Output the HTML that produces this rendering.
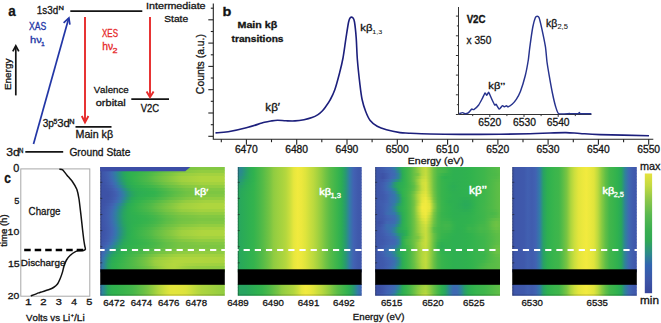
<!DOCTYPE html>
<html><head><meta charset="utf-8"><style>
html,body{margin:0;padding:0;background:#fff;}
svg{display:block;font-family:"Liberation Sans",sans-serif;}
text{font-kerning:none;stroke-width:0.3px;}
</style></head><body>
<svg width="661" height="323" viewBox="0 0 661 323">
<defs><linearGradient id="g0"><stop offset="0.000" stop-color="#3d53a7"/><stop offset="0.031" stop-color="#3f58ab"/><stop offset="0.062" stop-color="#415fb0"/><stop offset="0.094" stop-color="#3b6eb0"/><stop offset="0.125" stop-color="#30809e"/><stop offset="0.156" stop-color="#28947c"/><stop offset="0.188" stop-color="#28a55f"/><stop offset="0.219" stop-color="#2bac55"/><stop offset="0.250" stop-color="#2eb051"/><stop offset="0.281" stop-color="#2fb14f"/><stop offset="0.312" stop-color="#32b24e"/><stop offset="0.344" stop-color="#35b34d"/><stop offset="0.375" stop-color="#39b44c"/><stop offset="0.406" stop-color="#3fb64b"/><stop offset="0.438" stop-color="#45b74a"/><stop offset="0.469" stop-color="#4db949"/><stop offset="0.500" stop-color="#56bc47"/><stop offset="0.531" stop-color="#5ebe46"/><stop offset="0.562" stop-color="#65c045"/><stop offset="0.594" stop-color="#6cc144"/><stop offset="0.625" stop-color="#73c343"/><stop offset="0.656" stop-color="#77c443"/><stop offset="0.688" stop-color="#79c542"/><stop offset="0.719" stop-color="#7cc642"/><stop offset="0.750" stop-color="#7ec642"/><stop offset="0.781" stop-color="#81c742"/><stop offset="0.812" stop-color="#83c842"/><stop offset="0.844" stop-color="#83c842"/><stop offset="0.875" stop-color="#83c842"/><stop offset="0.906" stop-color="#83c842"/><stop offset="0.938" stop-color="#83c842"/><stop offset="0.969" stop-color="#83c842"/><stop offset="1.000" stop-color="#83c842"/></linearGradient>
<linearGradient id="g1"><stop offset="0.000" stop-color="#3d53a7"/><stop offset="0.031" stop-color="#3f58ab"/><stop offset="0.062" stop-color="#415fb0"/><stop offset="0.094" stop-color="#3b6db0"/><stop offset="0.125" stop-color="#30809f"/><stop offset="0.156" stop-color="#28947d"/><stop offset="0.188" stop-color="#28a55f"/><stop offset="0.219" stop-color="#2bac55"/><stop offset="0.250" stop-color="#2fb150"/><stop offset="0.281" stop-color="#31b24e"/><stop offset="0.312" stop-color="#36b44d"/><stop offset="0.344" stop-color="#3bb54c"/><stop offset="0.375" stop-color="#40b64b"/><stop offset="0.406" stop-color="#47b84a"/><stop offset="0.438" stop-color="#4eba48"/><stop offset="0.469" stop-color="#58bc47"/><stop offset="0.500" stop-color="#61bf46"/><stop offset="0.531" stop-color="#69c145"/><stop offset="0.562" stop-color="#70c344"/><stop offset="0.594" stop-color="#77c443"/><stop offset="0.625" stop-color="#7ec642"/><stop offset="0.656" stop-color="#84c841"/><stop offset="0.688" stop-color="#87c941"/><stop offset="0.719" stop-color="#8aca41"/><stop offset="0.750" stop-color="#8dcb41"/><stop offset="0.781" stop-color="#90cc40"/><stop offset="0.812" stop-color="#92cd40"/><stop offset="0.844" stop-color="#92cd40"/><stop offset="0.875" stop-color="#92cd40"/><stop offset="0.906" stop-color="#92cd40"/><stop offset="0.938" stop-color="#92cd40"/><stop offset="0.969" stop-color="#92cd40"/><stop offset="1.000" stop-color="#92cd40"/></linearGradient>
<linearGradient id="g2"><stop offset="0.000" stop-color="#3d52a7"/><stop offset="0.031" stop-color="#3f58ab"/><stop offset="0.062" stop-color="#415fb0"/><stop offset="0.094" stop-color="#3c6db0"/><stop offset="0.125" stop-color="#30809f"/><stop offset="0.156" stop-color="#28947d"/><stop offset="0.188" stop-color="#28a560"/><stop offset="0.219" stop-color="#2cad54"/><stop offset="0.250" stop-color="#30b24f"/><stop offset="0.281" stop-color="#35b34d"/><stop offset="0.312" stop-color="#3bb54c"/><stop offset="0.344" stop-color="#41b64b"/><stop offset="0.375" stop-color="#48b84a"/><stop offset="0.406" stop-color="#50ba48"/><stop offset="0.438" stop-color="#5abd47"/><stop offset="0.469" stop-color="#64bf45"/><stop offset="0.500" stop-color="#6dc244"/><stop offset="0.531" stop-color="#76c443"/><stop offset="0.562" stop-color="#7dc642"/><stop offset="0.594" stop-color="#86c941"/><stop offset="0.625" stop-color="#8fcc41"/><stop offset="0.656" stop-color="#95ce40"/><stop offset="0.688" stop-color="#98cf40"/><stop offset="0.719" stop-color="#9bd040"/><stop offset="0.750" stop-color="#9ed03f"/><stop offset="0.781" stop-color="#a1d13f"/><stop offset="0.812" stop-color="#a3d23f"/><stop offset="0.844" stop-color="#a3d23f"/><stop offset="0.875" stop-color="#a3d23f"/><stop offset="0.906" stop-color="#a3d23f"/><stop offset="0.938" stop-color="#a3d23f"/><stop offset="0.969" stop-color="#a3d23f"/><stop offset="1.000" stop-color="#a3d23f"/></linearGradient>
<linearGradient id="g3"><stop offset="0.000" stop-color="#3d52a6"/><stop offset="0.031" stop-color="#3f57aa"/><stop offset="0.062" stop-color="#415eb0"/><stop offset="0.094" stop-color="#3c6cb1"/><stop offset="0.125" stop-color="#317ea2"/><stop offset="0.156" stop-color="#28937f"/><stop offset="0.188" stop-color="#28a461"/><stop offset="0.219" stop-color="#2cad55"/><stop offset="0.250" stop-color="#30b24e"/><stop offset="0.281" stop-color="#37b44d"/><stop offset="0.312" stop-color="#3eb64b"/><stop offset="0.344" stop-color="#45b74a"/><stop offset="0.375" stop-color="#4cb949"/><stop offset="0.406" stop-color="#56bc47"/><stop offset="0.438" stop-color="#62bf46"/><stop offset="0.469" stop-color="#6cc144"/><stop offset="0.500" stop-color="#75c443"/><stop offset="0.531" stop-color="#7ec642"/><stop offset="0.562" stop-color="#87c941"/><stop offset="0.594" stop-color="#91cc40"/><stop offset="0.625" stop-color="#9acf40"/><stop offset="0.656" stop-color="#a0d13f"/><stop offset="0.688" stop-color="#a3d23f"/><stop offset="0.719" stop-color="#a6d33f"/><stop offset="0.750" stop-color="#a9d43f"/><stop offset="0.781" stop-color="#acd53e"/><stop offset="0.812" stop-color="#aed63e"/><stop offset="0.844" stop-color="#aed63e"/><stop offset="0.875" stop-color="#aed63e"/><stop offset="0.906" stop-color="#aed63e"/><stop offset="0.938" stop-color="#aed63e"/><stop offset="0.969" stop-color="#aed63e"/><stop offset="1.000" stop-color="#aed63e"/></linearGradient>
<linearGradient id="g4"><stop offset="0.000" stop-color="#3d52a6"/><stop offset="0.031" stop-color="#3f56aa"/><stop offset="0.062" stop-color="#405daf"/><stop offset="0.094" stop-color="#3e69b2"/><stop offset="0.125" stop-color="#337ba7"/><stop offset="0.156" stop-color="#299084"/><stop offset="0.188" stop-color="#28a166"/><stop offset="0.219" stop-color="#2bac55"/><stop offset="0.250" stop-color="#2fb14f"/><stop offset="0.281" stop-color="#36b44d"/><stop offset="0.312" stop-color="#3db54b"/><stop offset="0.344" stop-color="#45b74a"/><stop offset="0.375" stop-color="#4cb949"/><stop offset="0.406" stop-color="#55bb47"/><stop offset="0.438" stop-color="#61be46"/><stop offset="0.469" stop-color="#6ac145"/><stop offset="0.500" stop-color="#74c343"/><stop offset="0.531" stop-color="#7dc642"/><stop offset="0.562" stop-color="#86c941"/><stop offset="0.594" stop-color="#8fcc41"/><stop offset="0.625" stop-color="#98cf40"/><stop offset="0.656" stop-color="#a0d13f"/><stop offset="0.688" stop-color="#a3d23f"/><stop offset="0.719" stop-color="#a6d33f"/><stop offset="0.750" stop-color="#a9d43f"/><stop offset="0.781" stop-color="#acd53e"/><stop offset="0.812" stop-color="#aed63e"/><stop offset="0.844" stop-color="#aed63e"/><stop offset="0.875" stop-color="#aed63e"/><stop offset="0.906" stop-color="#aed63e"/><stop offset="0.938" stop-color="#aed63e"/><stop offset="0.969" stop-color="#aed63e"/><stop offset="1.000" stop-color="#aed63e"/></linearGradient>
<linearGradient id="g5"><stop offset="0.000" stop-color="#3d52a6"/><stop offset="0.031" stop-color="#3e55a8"/><stop offset="0.062" stop-color="#405bad"/><stop offset="0.094" stop-color="#4264b4"/><stop offset="0.125" stop-color="#3675ad"/><stop offset="0.156" stop-color="#2c8a8e"/><stop offset="0.188" stop-color="#289c6f"/><stop offset="0.219" stop-color="#2aaa57"/><stop offset="0.250" stop-color="#2eaf51"/><stop offset="0.281" stop-color="#32b34e"/><stop offset="0.312" stop-color="#39b44c"/><stop offset="0.344" stop-color="#3fb64b"/><stop offset="0.375" stop-color="#45b74a"/><stop offset="0.406" stop-color="#4cb949"/><stop offset="0.438" stop-color="#56bb47"/><stop offset="0.469" stop-color="#5fbe46"/><stop offset="0.500" stop-color="#69c145"/><stop offset="0.531" stop-color="#72c343"/><stop offset="0.562" stop-color="#79c543"/><stop offset="0.594" stop-color="#81c742"/><stop offset="0.625" stop-color="#8aca41"/><stop offset="0.656" stop-color="#94cd40"/><stop offset="0.688" stop-color="#97ce40"/><stop offset="0.719" stop-color="#9acf40"/><stop offset="0.750" stop-color="#9dd040"/><stop offset="0.781" stop-color="#a0d13f"/><stop offset="0.812" stop-color="#a3d23f"/><stop offset="0.844" stop-color="#a3d23f"/><stop offset="0.875" stop-color="#a3d23f"/><stop offset="0.906" stop-color="#a3d23f"/><stop offset="0.938" stop-color="#a3d23f"/><stop offset="0.969" stop-color="#a3d23f"/><stop offset="1.000" stop-color="#a3d23f"/></linearGradient>
<linearGradient id="g6"><stop offset="0.000" stop-color="#3d52a6"/><stop offset="0.031" stop-color="#3d53a7"/><stop offset="0.062" stop-color="#3f58ab"/><stop offset="0.094" stop-color="#415fb0"/><stop offset="0.125" stop-color="#3b6eb0"/><stop offset="0.156" stop-color="#30809e"/><stop offset="0.188" stop-color="#28947c"/><stop offset="0.219" stop-color="#28a55f"/><stop offset="0.250" stop-color="#2bac55"/><stop offset="0.281" stop-color="#2fb050"/><stop offset="0.312" stop-color="#31b24e"/><stop offset="0.344" stop-color="#36b34d"/><stop offset="0.375" stop-color="#3bb54c"/><stop offset="0.406" stop-color="#3fb64b"/><stop offset="0.438" stop-color="#46b84a"/><stop offset="0.469" stop-color="#4eba48"/><stop offset="0.500" stop-color="#58bc47"/><stop offset="0.531" stop-color="#61bf46"/><stop offset="0.562" stop-color="#6ac145"/><stop offset="0.594" stop-color="#70c344"/><stop offset="0.625" stop-color="#77c443"/><stop offset="0.656" stop-color="#7ec642"/><stop offset="0.688" stop-color="#84c841"/><stop offset="0.719" stop-color="#87c941"/><stop offset="0.750" stop-color="#8aca41"/><stop offset="0.781" stop-color="#8dcb41"/><stop offset="0.812" stop-color="#90cc40"/><stop offset="0.844" stop-color="#92cd40"/><stop offset="0.875" stop-color="#92cd40"/><stop offset="0.906" stop-color="#92cd40"/><stop offset="0.938" stop-color="#92cd40"/><stop offset="0.969" stop-color="#92cd40"/><stop offset="1.000" stop-color="#92cd40"/></linearGradient>
<linearGradient id="g7"><stop offset="0.000" stop-color="#3d52a6"/><stop offset="0.031" stop-color="#3d52a6"/><stop offset="0.062" stop-color="#3e55a9"/><stop offset="0.094" stop-color="#405bad"/><stop offset="0.125" stop-color="#4264b4"/><stop offset="0.156" stop-color="#3576ad"/><stop offset="0.188" stop-color="#2b8a8d"/><stop offset="0.219" stop-color="#289b70"/><stop offset="0.250" stop-color="#29a959"/><stop offset="0.281" stop-color="#2cad54"/><stop offset="0.312" stop-color="#2eaf51"/><stop offset="0.344" stop-color="#2fb14f"/><stop offset="0.375" stop-color="#31b24e"/><stop offset="0.406" stop-color="#35b34d"/><stop offset="0.438" stop-color="#39b44c"/><stop offset="0.469" stop-color="#41b64b"/><stop offset="0.500" stop-color="#49b849"/><stop offset="0.531" stop-color="#51ba48"/><stop offset="0.562" stop-color="#5abd47"/><stop offset="0.594" stop-color="#62bf46"/><stop offset="0.625" stop-color="#68c145"/><stop offset="0.656" stop-color="#6fc244"/><stop offset="0.688" stop-color="#76c443"/><stop offset="0.719" stop-color="#78c543"/><stop offset="0.750" stop-color="#7bc542"/><stop offset="0.781" stop-color="#7dc642"/><stop offset="0.812" stop-color="#80c742"/><stop offset="0.844" stop-color="#83c842"/><stop offset="0.875" stop-color="#83c842"/><stop offset="0.906" stop-color="#83c842"/><stop offset="0.938" stop-color="#83c842"/><stop offset="0.969" stop-color="#83c842"/><stop offset="1.000" stop-color="#83c842"/></linearGradient>
<linearGradient id="g8"><stop offset="0.000" stop-color="#3d52a6"/><stop offset="0.031" stop-color="#3d52a6"/><stop offset="0.062" stop-color="#3d53a7"/><stop offset="0.094" stop-color="#3f58ab"/><stop offset="0.125" stop-color="#4160b1"/><stop offset="0.156" stop-color="#3a6fb0"/><stop offset="0.188" stop-color="#2f829c"/><stop offset="0.219" stop-color="#28947d"/><stop offset="0.250" stop-color="#28a363"/><stop offset="0.281" stop-color="#2aaa57"/><stop offset="0.312" stop-color="#2cae53"/><stop offset="0.344" stop-color="#2eaf52"/><stop offset="0.375" stop-color="#2fb050"/><stop offset="0.406" stop-color="#30b24e"/><stop offset="0.438" stop-color="#32b34e"/><stop offset="0.469" stop-color="#3ab44c"/><stop offset="0.500" stop-color="#42b64b"/><stop offset="0.531" stop-color="#4ab849"/><stop offset="0.562" stop-color="#52bb48"/><stop offset="0.594" stop-color="#5abd47"/><stop offset="0.625" stop-color="#61bf46"/><stop offset="0.656" stop-color="#68c045"/><stop offset="0.688" stop-color="#6fc244"/><stop offset="0.719" stop-color="#73c343"/><stop offset="0.750" stop-color="#75c443"/><stop offset="0.781" stop-color="#77c543"/><stop offset="0.812" stop-color="#7ac542"/><stop offset="0.844" stop-color="#7cc642"/><stop offset="0.875" stop-color="#7dc642"/><stop offset="0.906" stop-color="#7dc642"/><stop offset="0.938" stop-color="#7dc642"/><stop offset="0.969" stop-color="#7dc642"/><stop offset="1.000" stop-color="#7dc642"/></linearGradient>
<linearGradient id="g9"><stop offset="0.000" stop-color="#3d52a6"/><stop offset="0.031" stop-color="#3d52a6"/><stop offset="0.062" stop-color="#3d52a6"/><stop offset="0.094" stop-color="#3f58ab"/><stop offset="0.125" stop-color="#415eb0"/><stop offset="0.156" stop-color="#3c6db1"/><stop offset="0.188" stop-color="#317fa0"/><stop offset="0.219" stop-color="#289280"/><stop offset="0.250" stop-color="#28a265"/><stop offset="0.281" stop-color="#2aaa57"/><stop offset="0.312" stop-color="#2dae53"/><stop offset="0.344" stop-color="#2eb051"/><stop offset="0.375" stop-color="#2fb14f"/><stop offset="0.406" stop-color="#32b24e"/><stop offset="0.438" stop-color="#35b34d"/><stop offset="0.469" stop-color="#3cb54c"/><stop offset="0.500" stop-color="#45b74a"/><stop offset="0.531" stop-color="#4db949"/><stop offset="0.562" stop-color="#55bb47"/><stop offset="0.594" stop-color="#5ebe46"/><stop offset="0.625" stop-color="#65c045"/><stop offset="0.656" stop-color="#6cc144"/><stop offset="0.688" stop-color="#72c343"/><stop offset="0.719" stop-color="#77c443"/><stop offset="0.750" stop-color="#79c542"/><stop offset="0.781" stop-color="#7cc642"/><stop offset="0.812" stop-color="#7ec642"/><stop offset="0.844" stop-color="#81c742"/><stop offset="0.875" stop-color="#83c842"/><stop offset="0.906" stop-color="#83c842"/><stop offset="0.938" stop-color="#83c842"/><stop offset="0.969" stop-color="#83c842"/><stop offset="1.000" stop-color="#83c842"/></linearGradient>
<linearGradient id="g10"><stop offset="0.000" stop-color="#3d52a6"/><stop offset="0.031" stop-color="#3d52a6"/><stop offset="0.062" stop-color="#3e53a7"/><stop offset="0.094" stop-color="#3f59ac"/><stop offset="0.125" stop-color="#4161b2"/><stop offset="0.156" stop-color="#3971af"/><stop offset="0.188" stop-color="#2e8498"/><stop offset="0.219" stop-color="#289777"/><stop offset="0.250" stop-color="#28a85a"/><stop offset="0.281" stop-color="#2cad54"/><stop offset="0.312" stop-color="#2fb150"/><stop offset="0.344" stop-color="#32b24e"/><stop offset="0.375" stop-color="#37b44d"/><stop offset="0.406" stop-color="#3bb54c"/><stop offset="0.438" stop-color="#40b64b"/><stop offset="0.469" stop-color="#48b84a"/><stop offset="0.500" stop-color="#50ba48"/><stop offset="0.531" stop-color="#59bc47"/><stop offset="0.562" stop-color="#63bf45"/><stop offset="0.594" stop-color="#6bc144"/><stop offset="0.625" stop-color="#72c344"/><stop offset="0.656" stop-color="#78c543"/><stop offset="0.688" stop-color="#80c742"/><stop offset="0.719" stop-color="#85c841"/><stop offset="0.750" stop-color="#88c941"/><stop offset="0.781" stop-color="#8bca41"/><stop offset="0.812" stop-color="#8ecb41"/><stop offset="0.844" stop-color="#91cc40"/><stop offset="0.875" stop-color="#92cd40"/><stop offset="0.906" stop-color="#92cd40"/><stop offset="0.938" stop-color="#92cd40"/><stop offset="0.969" stop-color="#92cd40"/><stop offset="1.000" stop-color="#92cd40"/></linearGradient>
<linearGradient id="g11"><stop offset="0.000" stop-color="#3d52a6"/><stop offset="0.031" stop-color="#3d52a6"/><stop offset="0.062" stop-color="#3e56a9"/><stop offset="0.094" stop-color="#405cae"/><stop offset="0.125" stop-color="#4067b3"/><stop offset="0.156" stop-color="#3479aa"/><stop offset="0.188" stop-color="#2a8e87"/><stop offset="0.219" stop-color="#28a068"/><stop offset="0.250" stop-color="#2bac56"/><stop offset="0.281" stop-color="#2fb150"/><stop offset="0.312" stop-color="#34b34d"/><stop offset="0.344" stop-color="#3bb54c"/><stop offset="0.375" stop-color="#41b64b"/><stop offset="0.406" stop-color="#47b84a"/><stop offset="0.438" stop-color="#4eba48"/><stop offset="0.469" stop-color="#58bc47"/><stop offset="0.500" stop-color="#61bf46"/><stop offset="0.531" stop-color="#6ac144"/><stop offset="0.562" stop-color="#74c443"/><stop offset="0.594" stop-color="#7bc542"/><stop offset="0.625" stop-color="#83c842"/><stop offset="0.656" stop-color="#8ccb41"/><stop offset="0.688" stop-color="#94cd40"/><stop offset="0.719" stop-color="#97ce40"/><stop offset="0.750" stop-color="#9acf40"/><stop offset="0.781" stop-color="#9dd03f"/><stop offset="0.812" stop-color="#a0d13f"/><stop offset="0.844" stop-color="#a3d23f"/><stop offset="0.875" stop-color="#a3d23f"/><stop offset="0.906" stop-color="#a3d23f"/><stop offset="0.938" stop-color="#a3d23f"/><stop offset="0.969" stop-color="#a3d23f"/><stop offset="1.000" stop-color="#a3d23f"/></linearGradient>
<linearGradient id="g12"><stop offset="0.000" stop-color="#3d52a6"/><stop offset="0.031" stop-color="#3e53a7"/><stop offset="0.062" stop-color="#3f59ac"/><stop offset="0.094" stop-color="#4161b2"/><stop offset="0.125" stop-color="#3971af"/><stop offset="0.156" stop-color="#2e8498"/><stop offset="0.188" stop-color="#289777"/><stop offset="0.219" stop-color="#29a959"/><stop offset="0.250" stop-color="#2daf52"/><stop offset="0.281" stop-color="#33b34d"/><stop offset="0.312" stop-color="#3ab54c"/><stop offset="0.344" stop-color="#42b64b"/><stop offset="0.375" stop-color="#49b849"/><stop offset="0.406" stop-color="#50ba48"/><stop offset="0.438" stop-color="#5bbd47"/><stop offset="0.469" stop-color="#65bf45"/><stop offset="0.500" stop-color="#6ec244"/><stop offset="0.531" stop-color="#77c543"/><stop offset="0.562" stop-color="#80c742"/><stop offset="0.594" stop-color="#8aca41"/><stop offset="0.625" stop-color="#93cd40"/><stop offset="0.656" stop-color="#9cd040"/><stop offset="0.688" stop-color="#a1d13f"/><stop offset="0.719" stop-color="#a4d23f"/><stop offset="0.750" stop-color="#a7d33f"/><stop offset="0.781" stop-color="#aad43e"/><stop offset="0.812" stop-color="#add53e"/><stop offset="0.844" stop-color="#aed63e"/><stop offset="0.875" stop-color="#aed63e"/><stop offset="0.906" stop-color="#aed63e"/><stop offset="0.938" stop-color="#aed63e"/><stop offset="0.969" stop-color="#aed63e"/><stop offset="1.000" stop-color="#aed63e"/></linearGradient>
<linearGradient id="g13"><stop offset="0.000" stop-color="#3d52a6"/><stop offset="0.031" stop-color="#3e55a9"/><stop offset="0.062" stop-color="#405cae"/><stop offset="0.094" stop-color="#4166b3"/><stop offset="0.125" stop-color="#3477ac"/><stop offset="0.156" stop-color="#2a8c8a"/><stop offset="0.188" stop-color="#289e6b"/><stop offset="0.219" stop-color="#2aab56"/><stop offset="0.250" stop-color="#2fb150"/><stop offset="0.281" stop-color="#35b34d"/><stop offset="0.312" stop-color="#3db54c"/><stop offset="0.344" stop-color="#44b74a"/><stop offset="0.375" stop-color="#4bb949"/><stop offset="0.406" stop-color="#53bb48"/><stop offset="0.438" stop-color="#5fbe46"/><stop offset="0.469" stop-color="#68c145"/><stop offset="0.500" stop-color="#72c343"/><stop offset="0.531" stop-color="#7bc642"/><stop offset="0.562" stop-color="#84c841"/><stop offset="0.594" stop-color="#8dcb41"/><stop offset="0.625" stop-color="#97ce40"/><stop offset="0.656" stop-color="#9fd13f"/><stop offset="0.688" stop-color="#a2d23f"/><stop offset="0.719" stop-color="#a5d33f"/><stop offset="0.750" stop-color="#a8d43f"/><stop offset="0.781" stop-color="#abd53e"/><stop offset="0.812" stop-color="#aed53e"/><stop offset="0.844" stop-color="#aed63e"/><stop offset="0.875" stop-color="#aed63e"/><stop offset="0.906" stop-color="#aed63e"/><stop offset="0.938" stop-color="#aed63e"/><stop offset="0.969" stop-color="#aed63e"/><stop offset="1.000" stop-color="#aed63e"/></linearGradient>
<linearGradient id="g14"><stop offset="0.000" stop-color="#3d52a6"/><stop offset="0.031" stop-color="#3f57aa"/><stop offset="0.062" stop-color="#405eaf"/><stop offset="0.094" stop-color="#3e6ab1"/><stop offset="0.125" stop-color="#327ca5"/><stop offset="0.156" stop-color="#289182"/><stop offset="0.188" stop-color="#28a264"/><stop offset="0.219" stop-color="#2bac55"/><stop offset="0.250" stop-color="#2fb14f"/><stop offset="0.281" stop-color="#34b34d"/><stop offset="0.312" stop-color="#3ab54c"/><stop offset="0.344" stop-color="#41b64b"/><stop offset="0.375" stop-color="#47b84a"/><stop offset="0.406" stop-color="#4fba48"/><stop offset="0.438" stop-color="#59bc47"/><stop offset="0.469" stop-color="#62bf46"/><stop offset="0.500" stop-color="#6cc144"/><stop offset="0.531" stop-color="#75c443"/><stop offset="0.562" stop-color="#7cc642"/><stop offset="0.594" stop-color="#84c841"/><stop offset="0.625" stop-color="#8ecb41"/><stop offset="0.656" stop-color="#95ce40"/><stop offset="0.688" stop-color="#98ce40"/><stop offset="0.719" stop-color="#9bcf40"/><stop offset="0.750" stop-color="#9ed03f"/><stop offset="0.781" stop-color="#a1d13f"/><stop offset="0.812" stop-color="#a3d23f"/><stop offset="0.844" stop-color="#a3d23f"/><stop offset="0.875" stop-color="#a3d23f"/><stop offset="0.906" stop-color="#a3d23f"/><stop offset="0.938" stop-color="#a3d23f"/><stop offset="0.969" stop-color="#a3d23f"/><stop offset="1.000" stop-color="#a3d23f"/></linearGradient>
<linearGradient id="g15"><stop offset="0.000" stop-color="#3d52a6"/><stop offset="0.031" stop-color="#3f57ab"/><stop offset="0.062" stop-color="#415eb0"/><stop offset="0.094" stop-color="#3c6cb1"/><stop offset="0.125" stop-color="#317fa1"/><stop offset="0.156" stop-color="#28937e"/><stop offset="0.188" stop-color="#28a461"/><stop offset="0.219" stop-color="#2bac55"/><stop offset="0.250" stop-color="#2fb050"/><stop offset="0.281" stop-color="#31b24e"/><stop offset="0.312" stop-color="#36b34d"/><stop offset="0.344" stop-color="#3bb54c"/><stop offset="0.375" stop-color="#3fb64b"/><stop offset="0.406" stop-color="#46b84a"/><stop offset="0.438" stop-color="#4eb948"/><stop offset="0.469" stop-color="#57bc47"/><stop offset="0.500" stop-color="#60be46"/><stop offset="0.531" stop-color="#69c145"/><stop offset="0.562" stop-color="#70c244"/><stop offset="0.594" stop-color="#77c443"/><stop offset="0.625" stop-color="#7ec642"/><stop offset="0.656" stop-color="#84c841"/><stop offset="0.688" stop-color="#87c941"/><stop offset="0.719" stop-color="#8aca41"/><stop offset="0.750" stop-color="#8dcb41"/><stop offset="0.781" stop-color="#90cc41"/><stop offset="0.812" stop-color="#92cd40"/><stop offset="0.844" stop-color="#92cd40"/><stop offset="0.875" stop-color="#92cd40"/><stop offset="0.906" stop-color="#92cd40"/><stop offset="0.938" stop-color="#92cd40"/><stop offset="0.969" stop-color="#92cd40"/><stop offset="1.000" stop-color="#92cd40"/></linearGradient>
<linearGradient id="g16"><stop offset="0.000" stop-color="#3d52a7"/><stop offset="0.031" stop-color="#3f58ab"/><stop offset="0.062" stop-color="#415fb0"/><stop offset="0.094" stop-color="#3c6db0"/><stop offset="0.125" stop-color="#30809f"/><stop offset="0.156" stop-color="#28947d"/><stop offset="0.188" stop-color="#28a560"/><stop offset="0.219" stop-color="#2bac55"/><stop offset="0.250" stop-color="#2eb051"/><stop offset="0.281" stop-color="#2fb14f"/><stop offset="0.312" stop-color="#32b24e"/><stop offset="0.344" stop-color="#35b34d"/><stop offset="0.375" stop-color="#39b44c"/><stop offset="0.406" stop-color="#3eb64b"/><stop offset="0.438" stop-color="#45b74a"/><stop offset="0.469" stop-color="#4db949"/><stop offset="0.500" stop-color="#56bc47"/><stop offset="0.531" stop-color="#5ebe46"/><stop offset="0.562" stop-color="#65c045"/><stop offset="0.594" stop-color="#6cc144"/><stop offset="0.625" stop-color="#73c343"/><stop offset="0.656" stop-color="#77c443"/><stop offset="0.688" stop-color="#79c542"/><stop offset="0.719" stop-color="#7cc642"/><stop offset="0.750" stop-color="#7ec642"/><stop offset="0.781" stop-color="#81c742"/><stop offset="0.812" stop-color="#83c842"/><stop offset="0.844" stop-color="#83c842"/><stop offset="0.875" stop-color="#83c842"/><stop offset="0.906" stop-color="#83c842"/><stop offset="0.938" stop-color="#83c842"/><stop offset="0.969" stop-color="#83c842"/><stop offset="1.000" stop-color="#83c842"/></linearGradient>
<linearGradient id="g17"><stop offset="0.000" stop-color="#3d52a6"/><stop offset="0.031" stop-color="#3f58ab"/><stop offset="0.062" stop-color="#415eb0"/><stop offset="0.094" stop-color="#3c6db1"/><stop offset="0.125" stop-color="#317fa0"/><stop offset="0.156" stop-color="#28937e"/><stop offset="0.188" stop-color="#28a460"/><stop offset="0.219" stop-color="#2bac56"/><stop offset="0.250" stop-color="#2eaf51"/><stop offset="0.281" stop-color="#2fb150"/><stop offset="0.312" stop-color="#30b24e"/><stop offset="0.344" stop-color="#33b34d"/><stop offset="0.375" stop-color="#36b34d"/><stop offset="0.406" stop-color="#3bb54c"/><stop offset="0.438" stop-color="#41b64b"/><stop offset="0.469" stop-color="#49b849"/><stop offset="0.500" stop-color="#51ba48"/><stop offset="0.531" stop-color="#5abd47"/><stop offset="0.562" stop-color="#60be46"/><stop offset="0.594" stop-color="#67c045"/><stop offset="0.625" stop-color="#6ec244"/><stop offset="0.656" stop-color="#73c343"/><stop offset="0.688" stop-color="#75c443"/><stop offset="0.719" stop-color="#77c443"/><stop offset="0.750" stop-color="#79c542"/><stop offset="0.781" stop-color="#7cc642"/><stop offset="0.812" stop-color="#7dc642"/><stop offset="0.844" stop-color="#7dc642"/><stop offset="0.875" stop-color="#7dc642"/><stop offset="0.906" stop-color="#7dc642"/><stop offset="0.938" stop-color="#7dc642"/><stop offset="0.969" stop-color="#7dc642"/><stop offset="1.000" stop-color="#7dc642"/></linearGradient>
<linearGradient id="g18"><stop offset="0.000" stop-color="#3d52a6"/><stop offset="0.031" stop-color="#3f57aa"/><stop offset="0.062" stop-color="#405eaf"/><stop offset="0.094" stop-color="#3d6bb1"/><stop offset="0.125" stop-color="#317ea3"/><stop offset="0.156" stop-color="#289280"/><stop offset="0.188" stop-color="#28a362"/><stop offset="0.219" stop-color="#2bab56"/><stop offset="0.250" stop-color="#2eaf51"/><stop offset="0.281" stop-color="#2fb14f"/><stop offset="0.312" stop-color="#31b24e"/><stop offset="0.344" stop-color="#35b34d"/><stop offset="0.375" stop-color="#38b44c"/><stop offset="0.406" stop-color="#3eb54b"/><stop offset="0.438" stop-color="#44b74a"/><stop offset="0.469" stop-color="#4cb949"/><stop offset="0.500" stop-color="#55bb47"/><stop offset="0.531" stop-color="#5ebe46"/><stop offset="0.562" stop-color="#64bf45"/><stop offset="0.594" stop-color="#6bc144"/><stop offset="0.625" stop-color="#72c343"/><stop offset="0.656" stop-color="#77c443"/><stop offset="0.688" stop-color="#79c543"/><stop offset="0.719" stop-color="#7bc642"/><stop offset="0.750" stop-color="#7ec642"/><stop offset="0.781" stop-color="#81c742"/><stop offset="0.812" stop-color="#83c842"/><stop offset="0.844" stop-color="#83c842"/><stop offset="0.875" stop-color="#83c842"/><stop offset="0.906" stop-color="#83c842"/><stop offset="0.938" stop-color="#83c842"/><stop offset="0.969" stop-color="#83c842"/><stop offset="1.000" stop-color="#83c842"/></linearGradient>
<linearGradient id="g19"><stop offset="0.000" stop-color="#3d52a6"/><stop offset="0.031" stop-color="#3f56aa"/><stop offset="0.062" stop-color="#405daf"/><stop offset="0.094" stop-color="#3f69b2"/><stop offset="0.125" stop-color="#337ba7"/><stop offset="0.156" stop-color="#299084"/><stop offset="0.188" stop-color="#28a166"/><stop offset="0.219" stop-color="#2aab56"/><stop offset="0.250" stop-color="#2eb051"/><stop offset="0.281" stop-color="#30b24e"/><stop offset="0.312" stop-color="#35b34d"/><stop offset="0.344" stop-color="#3ab44c"/><stop offset="0.375" stop-color="#3eb64b"/><stop offset="0.406" stop-color="#45b74a"/><stop offset="0.438" stop-color="#4cb949"/><stop offset="0.469" stop-color="#55bb47"/><stop offset="0.500" stop-color="#5fbe46"/><stop offset="0.531" stop-color="#68c045"/><stop offset="0.562" stop-color="#6fc244"/><stop offset="0.594" stop-color="#75c443"/><stop offset="0.625" stop-color="#7cc642"/><stop offset="0.656" stop-color="#84c841"/><stop offset="0.688" stop-color="#86c941"/><stop offset="0.719" stop-color="#89ca41"/><stop offset="0.750" stop-color="#8ccb41"/><stop offset="0.781" stop-color="#8fcc41"/><stop offset="0.812" stop-color="#92cd40"/><stop offset="0.844" stop-color="#92cd40"/><stop offset="0.875" stop-color="#92cd40"/><stop offset="0.906" stop-color="#92cd40"/><stop offset="0.938" stop-color="#92cd40"/><stop offset="0.969" stop-color="#92cd40"/><stop offset="1.000" stop-color="#92cd40"/></linearGradient>
<linearGradient id="g20"><stop offset="0.000" stop-color="#3d52a6"/><stop offset="0.031" stop-color="#3e55a9"/><stop offset="0.062" stop-color="#405cae"/><stop offset="0.094" stop-color="#4166b3"/><stop offset="0.125" stop-color="#3478ac"/><stop offset="0.156" stop-color="#2a8c8a"/><stop offset="0.188" stop-color="#289e6b"/><stop offset="0.219" stop-color="#2aab57"/><stop offset="0.250" stop-color="#2eb051"/><stop offset="0.281" stop-color="#33b34d"/><stop offset="0.312" stop-color="#39b44c"/><stop offset="0.344" stop-color="#3fb64b"/><stop offset="0.375" stop-color="#46b74a"/><stop offset="0.406" stop-color="#4db949"/><stop offset="0.438" stop-color="#57bc47"/><stop offset="0.469" stop-color="#60be46"/><stop offset="0.500" stop-color="#6ac145"/><stop offset="0.531" stop-color="#73c343"/><stop offset="0.562" stop-color="#7ac542"/><stop offset="0.594" stop-color="#82c842"/><stop offset="0.625" stop-color="#8ccb41"/><stop offset="0.656" stop-color="#94cd40"/><stop offset="0.688" stop-color="#97ce40"/><stop offset="0.719" stop-color="#9acf40"/><stop offset="0.750" stop-color="#9dd03f"/><stop offset="0.781" stop-color="#a0d13f"/><stop offset="0.812" stop-color="#a3d23f"/><stop offset="0.844" stop-color="#a3d23f"/><stop offset="0.875" stop-color="#a3d23f"/><stop offset="0.906" stop-color="#a3d23f"/><stop offset="0.938" stop-color="#a3d23f"/><stop offset="0.969" stop-color="#a3d23f"/><stop offset="1.000" stop-color="#a3d23f"/></linearGradient>
<linearGradient id="g21"><stop offset="0.000" stop-color="#3d52a6"/><stop offset="0.031" stop-color="#3e55a9"/><stop offset="0.062" stop-color="#405bae"/><stop offset="0.094" stop-color="#4165b4"/><stop offset="0.125" stop-color="#3576ad"/><stop offset="0.156" stop-color="#2b8b8d"/><stop offset="0.188" stop-color="#289d6d"/><stop offset="0.219" stop-color="#2aab57"/><stop offset="0.250" stop-color="#2fb050"/><stop offset="0.281" stop-color="#35b34d"/><stop offset="0.312" stop-color="#3cb54c"/><stop offset="0.344" stop-color="#43b74a"/><stop offset="0.375" stop-color="#4ab949"/><stop offset="0.406" stop-color="#53bb48"/><stop offset="0.438" stop-color="#5ebe46"/><stop offset="0.469" stop-color="#68c045"/><stop offset="0.500" stop-color="#71c344"/><stop offset="0.531" stop-color="#7bc542"/><stop offset="0.562" stop-color="#84c841"/><stop offset="0.594" stop-color="#8dcb41"/><stop offset="0.625" stop-color="#96ce40"/><stop offset="0.656" stop-color="#9fd13f"/><stop offset="0.688" stop-color="#a2d23f"/><stop offset="0.719" stop-color="#a5d33f"/><stop offset="0.750" stop-color="#a8d43f"/><stop offset="0.781" stop-color="#abd43e"/><stop offset="0.812" stop-color="#aed53e"/><stop offset="0.844" stop-color="#aed63e"/><stop offset="0.875" stop-color="#aed63e"/><stop offset="0.906" stop-color="#aed63e"/><stop offset="0.938" stop-color="#aed63e"/><stop offset="0.969" stop-color="#aed63e"/><stop offset="1.000" stop-color="#aed63e"/></linearGradient>
<linearGradient id="g22"><stop offset="0.000" stop-color="#3d52a6"/><stop offset="0.031" stop-color="#3e55a9"/><stop offset="0.062" stop-color="#405cae"/><stop offset="0.094" stop-color="#4166b3"/><stop offset="0.125" stop-color="#3477ac"/><stop offset="0.156" stop-color="#2a8c8a"/><stop offset="0.188" stop-color="#289e6b"/><stop offset="0.219" stop-color="#2aab56"/><stop offset="0.250" stop-color="#2fb150"/><stop offset="0.281" stop-color="#35b34d"/><stop offset="0.312" stop-color="#3db54c"/><stop offset="0.344" stop-color="#44b74a"/><stop offset="0.375" stop-color="#4bb949"/><stop offset="0.406" stop-color="#53bb48"/><stop offset="0.438" stop-color="#5fbe46"/><stop offset="0.469" stop-color="#68c145"/><stop offset="0.500" stop-color="#72c343"/><stop offset="0.531" stop-color="#7bc642"/><stop offset="0.562" stop-color="#84c841"/><stop offset="0.594" stop-color="#8dcb41"/><stop offset="0.625" stop-color="#97ce40"/><stop offset="0.656" stop-color="#9fd13f"/><stop offset="0.688" stop-color="#a2d23f"/><stop offset="0.719" stop-color="#a5d33f"/><stop offset="0.750" stop-color="#a8d43f"/><stop offset="0.781" stop-color="#abd53e"/><stop offset="0.812" stop-color="#aed53e"/><stop offset="0.844" stop-color="#aed63e"/><stop offset="0.875" stop-color="#aed63e"/><stop offset="0.906" stop-color="#aed63e"/><stop offset="0.938" stop-color="#aed63e"/><stop offset="0.969" stop-color="#aed63e"/><stop offset="1.000" stop-color="#aed63e"/></linearGradient>
<linearGradient id="g23"><stop offset="0.000" stop-color="#3d52a6"/><stop offset="0.031" stop-color="#3f56aa"/><stop offset="0.062" stop-color="#405daf"/><stop offset="0.094" stop-color="#3e6ab2"/><stop offset="0.125" stop-color="#327ba6"/><stop offset="0.156" stop-color="#289083"/><stop offset="0.188" stop-color="#28a165"/><stop offset="0.219" stop-color="#2bac56"/><stop offset="0.250" stop-color="#2fb14f"/><stop offset="0.281" stop-color="#34b34d"/><stop offset="0.312" stop-color="#3ab54c"/><stop offset="0.344" stop-color="#40b64b"/><stop offset="0.375" stop-color="#47b84a"/><stop offset="0.406" stop-color="#4eba48"/><stop offset="0.438" stop-color="#59bc47"/><stop offset="0.469" stop-color="#62bf46"/><stop offset="0.500" stop-color="#6cc144"/><stop offset="0.531" stop-color="#75c443"/><stop offset="0.562" stop-color="#7bc642"/><stop offset="0.594" stop-color="#84c841"/><stop offset="0.625" stop-color="#8dcb41"/><stop offset="0.656" stop-color="#95cd40"/><stop offset="0.688" stop-color="#98ce40"/><stop offset="0.719" stop-color="#9bcf40"/><stop offset="0.750" stop-color="#9ed03f"/><stop offset="0.781" stop-color="#a1d13f"/><stop offset="0.812" stop-color="#a3d23f"/><stop offset="0.844" stop-color="#a3d23f"/><stop offset="0.875" stop-color="#a3d23f"/><stop offset="0.906" stop-color="#a3d23f"/><stop offset="0.938" stop-color="#a3d23f"/><stop offset="0.969" stop-color="#a3d23f"/><stop offset="1.000" stop-color="#a3d23f"/></linearGradient>
<linearGradient id="g24"><stop offset="0.000" stop-color="#3d53a7"/><stop offset="0.031" stop-color="#3f58ab"/><stop offset="0.062" stop-color="#415fb0"/><stop offset="0.094" stop-color="#3b6eb0"/><stop offset="0.125" stop-color="#30819e"/><stop offset="0.156" stop-color="#28957c"/><stop offset="0.188" stop-color="#28a65e"/><stop offset="0.219" stop-color="#2cac55"/><stop offset="0.250" stop-color="#2fb150"/><stop offset="0.281" stop-color="#32b24e"/><stop offset="0.312" stop-color="#36b44d"/><stop offset="0.344" stop-color="#3bb54c"/><stop offset="0.375" stop-color="#40b64b"/><stop offset="0.406" stop-color="#47b84a"/><stop offset="0.438" stop-color="#4fba48"/><stop offset="0.469" stop-color="#58bc47"/><stop offset="0.500" stop-color="#61bf46"/><stop offset="0.531" stop-color="#6ac145"/><stop offset="0.562" stop-color="#70c344"/><stop offset="0.594" stop-color="#77c443"/><stop offset="0.625" stop-color="#7ec642"/><stop offset="0.656" stop-color="#84c841"/><stop offset="0.688" stop-color="#87c941"/><stop offset="0.719" stop-color="#8aca41"/><stop offset="0.750" stop-color="#8dcb41"/><stop offset="0.781" stop-color="#90cc40"/><stop offset="0.812" stop-color="#92cd40"/><stop offset="0.844" stop-color="#92cd40"/><stop offset="0.875" stop-color="#92cd40"/><stop offset="0.906" stop-color="#92cd40"/><stop offset="0.938" stop-color="#92cd40"/><stop offset="0.969" stop-color="#92cd40"/><stop offset="1.000" stop-color="#92cd40"/></linearGradient>
<linearGradient id="g25"><stop offset="0.000" stop-color="#3e55a9"/><stop offset="0.031" stop-color="#405bad"/><stop offset="0.062" stop-color="#4263b4"/><stop offset="0.094" stop-color="#3675ad"/><stop offset="0.125" stop-color="#2c8891"/><stop offset="0.156" stop-color="#289b71"/><stop offset="0.188" stop-color="#29a958"/><stop offset="0.219" stop-color="#2dae53"/><stop offset="0.250" stop-color="#2fb14f"/><stop offset="0.281" stop-color="#31b24e"/><stop offset="0.312" stop-color="#35b34d"/><stop offset="0.344" stop-color="#38b44c"/><stop offset="0.375" stop-color="#3cb54c"/><stop offset="0.406" stop-color="#43b74b"/><stop offset="0.438" stop-color="#49b849"/><stop offset="0.469" stop-color="#51ba48"/><stop offset="0.500" stop-color="#5abd47"/><stop offset="0.531" stop-color="#62bf46"/><stop offset="0.562" stop-color="#68c045"/><stop offset="0.594" stop-color="#6fc244"/><stop offset="0.625" stop-color="#75c443"/><stop offset="0.656" stop-color="#78c543"/><stop offset="0.688" stop-color="#7ac542"/><stop offset="0.719" stop-color="#7dc642"/><stop offset="0.750" stop-color="#7fc742"/><stop offset="0.781" stop-color="#82c842"/><stop offset="0.812" stop-color="#83c842"/><stop offset="0.844" stop-color="#83c842"/><stop offset="0.875" stop-color="#83c842"/><stop offset="0.906" stop-color="#83c842"/><stop offset="0.938" stop-color="#83c842"/><stop offset="0.969" stop-color="#83c842"/><stop offset="1.000" stop-color="#83c842"/></linearGradient>
<linearGradient id="g26"><stop offset="0.000" stop-color="#3f58ab"/><stop offset="0.031" stop-color="#415fb0"/><stop offset="0.062" stop-color="#3c6db1"/><stop offset="0.094" stop-color="#307fa0"/><stop offset="0.125" stop-color="#289280"/><stop offset="0.156" stop-color="#28a363"/><stop offset="0.188" stop-color="#2bac55"/><stop offset="0.219" stop-color="#2eb050"/><stop offset="0.250" stop-color="#31b24e"/><stop offset="0.281" stop-color="#34b34d"/><stop offset="0.312" stop-color="#38b44d"/><stop offset="0.344" stop-color="#3bb54c"/><stop offset="0.375" stop-color="#3fb64b"/><stop offset="0.406" stop-color="#45b74a"/><stop offset="0.438" stop-color="#4bb949"/><stop offset="0.469" stop-color="#53bb48"/><stop offset="0.500" stop-color="#5bbd47"/><stop offset="0.531" stop-color="#62bf46"/><stop offset="0.562" stop-color="#68c045"/><stop offset="0.594" stop-color="#6ec244"/><stop offset="0.625" stop-color="#74c443"/><stop offset="0.656" stop-color="#76c443"/><stop offset="0.688" stop-color="#78c543"/><stop offset="0.719" stop-color="#79c542"/><stop offset="0.750" stop-color="#7bc542"/><stop offset="0.781" stop-color="#7dc642"/><stop offset="0.812" stop-color="#7dc642"/><stop offset="0.844" stop-color="#7dc642"/><stop offset="0.875" stop-color="#7dc642"/><stop offset="0.906" stop-color="#7dc642"/><stop offset="0.938" stop-color="#7dc642"/><stop offset="0.969" stop-color="#7dc642"/><stop offset="1.000" stop-color="#7cc642"/></linearGradient>
<linearGradient id="g27"><stop offset="0.000" stop-color="#405bad"/><stop offset="0.031" stop-color="#4264b4"/><stop offset="0.062" stop-color="#3577ac"/><stop offset="0.094" stop-color="#2a8c8a"/><stop offset="0.125" stop-color="#289c6e"/><stop offset="0.156" stop-color="#29a958"/><stop offset="0.188" stop-color="#2eaf52"/><stop offset="0.219" stop-color="#32b24e"/><stop offset="0.250" stop-color="#37b44d"/><stop offset="0.281" stop-color="#3bb54c"/><stop offset="0.312" stop-color="#3fb64b"/><stop offset="0.344" stop-color="#43b74a"/><stop offset="0.375" stop-color="#49b849"/><stop offset="0.406" stop-color="#4fba48"/><stop offset="0.438" stop-color="#57bc47"/><stop offset="0.469" stop-color="#5ebe46"/><stop offset="0.500" stop-color="#65c045"/><stop offset="0.531" stop-color="#6bc144"/><stop offset="0.562" stop-color="#71c344"/><stop offset="0.594" stop-color="#76c443"/><stop offset="0.625" stop-color="#7bc542"/><stop offset="0.656" stop-color="#7cc642"/><stop offset="0.688" stop-color="#7ec642"/><stop offset="0.719" stop-color="#80c742"/><stop offset="0.750" stop-color="#81c742"/><stop offset="0.781" stop-color="#83c842"/><stop offset="0.812" stop-color="#83c842"/><stop offset="0.844" stop-color="#83c842"/><stop offset="0.875" stop-color="#83c842"/><stop offset="0.906" stop-color="#82c842"/><stop offset="0.938" stop-color="#82c842"/><stop offset="0.969" stop-color="#82c742"/><stop offset="1.000" stop-color="#81c742"/></linearGradient>
<linearGradient id="g28"><stop offset="0.000" stop-color="#415fb0"/><stop offset="0.031" stop-color="#3c6cb1"/><stop offset="0.062" stop-color="#2f8399"/><stop offset="0.094" stop-color="#289876"/><stop offset="0.125" stop-color="#28a65e"/><stop offset="0.156" stop-color="#2cad54"/><stop offset="0.188" stop-color="#30b24e"/><stop offset="0.219" stop-color="#38b44d"/><stop offset="0.250" stop-color="#3eb54b"/><stop offset="0.281" stop-color="#44b74a"/><stop offset="0.312" stop-color="#49b849"/><stop offset="0.344" stop-color="#4fba48"/><stop offset="0.375" stop-color="#57bc47"/><stop offset="0.406" stop-color="#61be46"/><stop offset="0.438" stop-color="#6ac145"/><stop offset="0.469" stop-color="#70c344"/><stop offset="0.500" stop-color="#76c443"/><stop offset="0.531" stop-color="#7bc642"/><stop offset="0.562" stop-color="#82c742"/><stop offset="0.594" stop-color="#88ca41"/><stop offset="0.625" stop-color="#8dcb41"/><stop offset="0.656" stop-color="#8ecb41"/><stop offset="0.688" stop-color="#8fcc41"/><stop offset="0.719" stop-color="#90cc40"/><stop offset="0.750" stop-color="#92cc40"/><stop offset="0.781" stop-color="#93cd40"/><stop offset="0.812" stop-color="#92cd40"/><stop offset="0.844" stop-color="#92cd40"/><stop offset="0.875" stop-color="#92cc40"/><stop offset="0.906" stop-color="#91cc40"/><stop offset="0.938" stop-color="#91cc40"/><stop offset="0.969" stop-color="#90cc40"/><stop offset="1.000" stop-color="#90cc41"/></linearGradient>
<linearGradient id="g29"><stop offset="0.000" stop-color="#4262b3"/><stop offset="0.031" stop-color="#3773ae"/><stop offset="0.062" stop-color="#298e87"/><stop offset="0.094" stop-color="#28a265"/><stop offset="0.125" stop-color="#2aab57"/><stop offset="0.156" stop-color="#2eb051"/><stop offset="0.188" stop-color="#35b34d"/><stop offset="0.219" stop-color="#3eb54b"/><stop offset="0.250" stop-color="#45b74a"/><stop offset="0.281" stop-color="#4cb949"/><stop offset="0.312" stop-color="#54bb47"/><stop offset="0.344" stop-color="#5ebe46"/><stop offset="0.375" stop-color="#68c045"/><stop offset="0.406" stop-color="#73c343"/><stop offset="0.438" stop-color="#7ec642"/><stop offset="0.469" stop-color="#86c941"/><stop offset="0.500" stop-color="#8dcb41"/><stop offset="0.531" stop-color="#92cd40"/><stop offset="0.562" stop-color="#98cf40"/><stop offset="0.594" stop-color="#9ed03f"/><stop offset="0.625" stop-color="#a1d13f"/><stop offset="0.656" stop-color="#a2d23f"/><stop offset="0.688" stop-color="#a2d23f"/><stop offset="0.719" stop-color="#a3d23f"/><stop offset="0.750" stop-color="#a4d23f"/><stop offset="0.781" stop-color="#a4d23f"/><stop offset="0.812" stop-color="#a4d23f"/><stop offset="0.844" stop-color="#a3d23f"/><stop offset="0.875" stop-color="#a3d23f"/><stop offset="0.906" stop-color="#a2d23f"/><stop offset="0.938" stop-color="#a1d13f"/><stop offset="0.969" stop-color="#a1d13f"/><stop offset="1.000" stop-color="#a0d13f"/></linearGradient>
<linearGradient id="g30"><stop offset="0.000" stop-color="#4165b3"/><stop offset="0.031" stop-color="#337aa9"/><stop offset="0.062" stop-color="#289777"/><stop offset="0.094" stop-color="#29a959"/><stop offset="0.125" stop-color="#2dae53"/><stop offset="0.156" stop-color="#30b24e"/><stop offset="0.188" stop-color="#39b44c"/><stop offset="0.219" stop-color="#42b74b"/><stop offset="0.250" stop-color="#4bb949"/><stop offset="0.281" stop-color="#54bb47"/><stop offset="0.312" stop-color="#5ebe46"/><stop offset="0.344" stop-color="#69c145"/><stop offset="0.375" stop-color="#75c443"/><stop offset="0.406" stop-color="#82c842"/><stop offset="0.438" stop-color="#92cd40"/><stop offset="0.469" stop-color="#99cf40"/><stop offset="0.500" stop-color="#9ed03f"/><stop offset="0.531" stop-color="#a3d23f"/><stop offset="0.562" stop-color="#a8d43f"/><stop offset="0.594" stop-color="#add53e"/><stop offset="0.625" stop-color="#afd63e"/><stop offset="0.656" stop-color="#afd63e"/><stop offset="0.688" stop-color="#afd63e"/><stop offset="0.719" stop-color="#afd63e"/><stop offset="0.750" stop-color="#afd63e"/><stop offset="0.781" stop-color="#afd63e"/><stop offset="0.812" stop-color="#afd63e"/><stop offset="0.844" stop-color="#aed53e"/><stop offset="0.875" stop-color="#aed53e"/><stop offset="0.906" stop-color="#add53e"/><stop offset="0.938" stop-color="#acd53e"/><stop offset="0.969" stop-color="#abd53e"/><stop offset="1.000" stop-color="#aad43e"/></linearGradient>
<linearGradient id="g31"><stop offset="0.000" stop-color="#3f69b2"/><stop offset="0.031" stop-color="#30809e"/><stop offset="0.062" stop-color="#289e6b"/><stop offset="0.094" stop-color="#2bac55"/><stop offset="0.125" stop-color="#2fb050"/><stop offset="0.156" stop-color="#35b34d"/><stop offset="0.188" stop-color="#3db54c"/><stop offset="0.219" stop-color="#46b74a"/><stop offset="0.250" stop-color="#4eba48"/><stop offset="0.281" stop-color="#58bc47"/><stop offset="0.312" stop-color="#63bf46"/><stop offset="0.344" stop-color="#6ec244"/><stop offset="0.375" stop-color="#7ac542"/><stop offset="0.406" stop-color="#89ca41"/><stop offset="0.438" stop-color="#9acf40"/><stop offset="0.469" stop-color="#a0d13f"/><stop offset="0.500" stop-color="#a5d33f"/><stop offset="0.531" stop-color="#aad43e"/><stop offset="0.562" stop-color="#aed53e"/><stop offset="0.594" stop-color="#b2d73e"/><stop offset="0.625" stop-color="#b3d73e"/><stop offset="0.656" stop-color="#b2d73e"/><stop offset="0.688" stop-color="#b1d63e"/><stop offset="0.719" stop-color="#b1d63e"/><stop offset="0.750" stop-color="#b0d63e"/><stop offset="0.781" stop-color="#b0d63e"/><stop offset="0.812" stop-color="#afd63e"/><stop offset="0.844" stop-color="#aed53e"/><stop offset="0.875" stop-color="#add53e"/><stop offset="0.906" stop-color="#add53e"/><stop offset="0.938" stop-color="#acd53e"/><stop offset="0.969" stop-color="#abd43e"/><stop offset="1.000" stop-color="#aad43e"/></linearGradient>
<linearGradient id="g32"><stop offset="0.000" stop-color="#3d6bb1"/><stop offset="0.031" stop-color="#2e8498"/><stop offset="0.062" stop-color="#28a364"/><stop offset="0.094" stop-color="#2dae53"/><stop offset="0.125" stop-color="#30b24e"/><stop offset="0.156" stop-color="#38b44d"/><stop offset="0.188" stop-color="#3fb64b"/><stop offset="0.219" stop-color="#47b84a"/><stop offset="0.250" stop-color="#4fba48"/><stop offset="0.281" stop-color="#58bc47"/><stop offset="0.312" stop-color="#61bf46"/><stop offset="0.344" stop-color="#6cc244"/><stop offset="0.375" stop-color="#78c543"/><stop offset="0.406" stop-color="#86c941"/><stop offset="0.438" stop-color="#97ce40"/><stop offset="0.469" stop-color="#9fd13f"/><stop offset="0.500" stop-color="#a6d33f"/><stop offset="0.531" stop-color="#add53e"/><stop offset="0.562" stop-color="#b1d63e"/><stop offset="0.594" stop-color="#b4d73e"/><stop offset="0.625" stop-color="#b2d63e"/><stop offset="0.656" stop-color="#aed53e"/><stop offset="0.688" stop-color="#aad43e"/><stop offset="0.719" stop-color="#a8d33f"/><stop offset="0.750" stop-color="#a6d33f"/><stop offset="0.781" stop-color="#a5d23f"/><stop offset="0.812" stop-color="#a4d23f"/><stop offset="0.844" stop-color="#a3d23f"/><stop offset="0.875" stop-color="#a2d23f"/><stop offset="0.906" stop-color="#a1d13f"/><stop offset="0.938" stop-color="#a0d13f"/><stop offset="0.969" stop-color="#9fd13f"/><stop offset="1.000" stop-color="#9ed03f"/></linearGradient>
<linearGradient id="g33"><stop offset="0.000" stop-color="#3d6bb1"/><stop offset="0.031" stop-color="#2e8497"/><stop offset="0.062" stop-color="#28a362"/><stop offset="0.094" stop-color="#2dae53"/><stop offset="0.125" stop-color="#30b24e"/><stop offset="0.156" stop-color="#38b44c"/><stop offset="0.188" stop-color="#40b64b"/><stop offset="0.219" stop-color="#46b84a"/><stop offset="0.250" stop-color="#4db949"/><stop offset="0.281" stop-color="#54bb47"/><stop offset="0.312" stop-color="#5cbd46"/><stop offset="0.344" stop-color="#65c045"/><stop offset="0.375" stop-color="#70c244"/><stop offset="0.406" stop-color="#7bc542"/><stop offset="0.438" stop-color="#8bca41"/><stop offset="0.469" stop-color="#96ce40"/><stop offset="0.500" stop-color="#a1d13f"/><stop offset="0.531" stop-color="#abd43e"/><stop offset="0.562" stop-color="#b0d63e"/><stop offset="0.594" stop-color="#b2d73e"/><stop offset="0.625" stop-color="#acd53e"/><stop offset="0.656" stop-color="#a4d23f"/><stop offset="0.688" stop-color="#9ed03f"/><stop offset="0.719" stop-color="#99cf40"/><stop offset="0.750" stop-color="#96ce40"/><stop offset="0.781" stop-color="#94cd40"/><stop offset="0.812" stop-color="#93cd40"/><stop offset="0.844" stop-color="#92cd40"/><stop offset="0.875" stop-color="#91cc40"/><stop offset="0.906" stop-color="#90cc41"/><stop offset="0.938" stop-color="#8fcc41"/><stop offset="0.969" stop-color="#8ecb41"/><stop offset="1.000" stop-color="#8dcb41"/></linearGradient>
<linearGradient id="g34"><stop offset="0.000" stop-color="#3d6bb1"/><stop offset="0.031" stop-color="#2e8497"/><stop offset="0.062" stop-color="#28a362"/><stop offset="0.094" stop-color="#2dae53"/><stop offset="0.125" stop-color="#30b24e"/><stop offset="0.156" stop-color="#38b44c"/><stop offset="0.188" stop-color="#40b64b"/><stop offset="0.219" stop-color="#46b74a"/><stop offset="0.250" stop-color="#4bb949"/><stop offset="0.281" stop-color="#50ba48"/><stop offset="0.312" stop-color="#57bc47"/><stop offset="0.344" stop-color="#5ebe46"/><stop offset="0.375" stop-color="#67c045"/><stop offset="0.406" stop-color="#70c344"/><stop offset="0.438" stop-color="#7ac542"/><stop offset="0.469" stop-color="#82c842"/><stop offset="0.500" stop-color="#8bca41"/><stop offset="0.531" stop-color="#93cd40"/><stop offset="0.562" stop-color="#98ce40"/><stop offset="0.594" stop-color="#9acf40"/><stop offset="0.625" stop-color="#96ce40"/><stop offset="0.656" stop-color="#91cc40"/><stop offset="0.688" stop-color="#8ccb41"/><stop offset="0.719" stop-color="#88ca41"/><stop offset="0.750" stop-color="#86c941"/><stop offset="0.781" stop-color="#85c841"/><stop offset="0.812" stop-color="#84c841"/><stop offset="0.844" stop-color="#83c842"/><stop offset="0.875" stop-color="#82c842"/><stop offset="0.906" stop-color="#81c742"/><stop offset="0.938" stop-color="#80c742"/><stop offset="0.969" stop-color="#7fc742"/><stop offset="1.000" stop-color="#7ec642"/></linearGradient>
<linearGradient id="g35"><stop offset="0.000" stop-color="#3577ad"/><stop offset="0.031" stop-color="#2a8c8a"/><stop offset="0.062" stop-color="#28a959"/><stop offset="0.094" stop-color="#2fb050"/><stop offset="0.125" stop-color="#30b24e"/><stop offset="0.156" stop-color="#35b34d"/><stop offset="0.188" stop-color="#39b44c"/><stop offset="0.219" stop-color="#3eb64b"/><stop offset="0.250" stop-color="#43b74b"/><stop offset="0.281" stop-color="#4db949"/><stop offset="0.312" stop-color="#5abd47"/><stop offset="0.344" stop-color="#67c045"/><stop offset="0.375" stop-color="#76c443"/><stop offset="0.406" stop-color="#89ca41"/><stop offset="0.438" stop-color="#9ed03f"/><stop offset="0.469" stop-color="#b3d73e"/><stop offset="0.500" stop-color="#c4dc3d"/><stop offset="0.531" stop-color="#d4e13c"/><stop offset="0.562" stop-color="#e1e53c"/><stop offset="0.594" stop-color="#e3e53c"/><stop offset="0.625" stop-color="#e1e53c"/><stop offset="0.656" stop-color="#dfe43c"/><stop offset="0.688" stop-color="#dbe33c"/><stop offset="0.719" stop-color="#cfe03d"/><stop offset="0.750" stop-color="#c3dc3d"/><stop offset="0.781" stop-color="#b7d83e"/><stop offset="0.812" stop-color="#aed53e"/><stop offset="0.844" stop-color="#a9d43f"/><stop offset="0.875" stop-color="#a5d23f"/><stop offset="0.906" stop-color="#a0d13f"/><stop offset="0.938" stop-color="#9bcf40"/><stop offset="0.969" stop-color="#96ce40"/><stop offset="1.000" stop-color="#92cc40"/></linearGradient>
<linearGradient id="g36"><stop offset="0.000" stop-color="#3577ad"/><stop offset="0.031" stop-color="#2a8c8a"/><stop offset="0.062" stop-color="#28a959"/><stop offset="0.094" stop-color="#2fb050"/><stop offset="0.125" stop-color="#30b24e"/><stop offset="0.156" stop-color="#35b34d"/><stop offset="0.188" stop-color="#39b44c"/><stop offset="0.219" stop-color="#3eb64b"/><stop offset="0.250" stop-color="#43b74b"/><stop offset="0.281" stop-color="#4db949"/><stop offset="0.312" stop-color="#5abd47"/><stop offset="0.344" stop-color="#67c045"/><stop offset="0.375" stop-color="#76c443"/><stop offset="0.406" stop-color="#89ca41"/><stop offset="0.438" stop-color="#9ed03f"/><stop offset="0.469" stop-color="#b3d73e"/><stop offset="0.500" stop-color="#c4dc3d"/><stop offset="0.531" stop-color="#d4e13c"/><stop offset="0.562" stop-color="#e1e53c"/><stop offset="0.594" stop-color="#e3e53c"/><stop offset="0.625" stop-color="#e1e53c"/><stop offset="0.656" stop-color="#dfe43c"/><stop offset="0.688" stop-color="#dbe33c"/><stop offset="0.719" stop-color="#cfe03d"/><stop offset="0.750" stop-color="#c3dc3d"/><stop offset="0.781" stop-color="#b7d83e"/><stop offset="0.812" stop-color="#aed53e"/><stop offset="0.844" stop-color="#a9d43f"/><stop offset="0.875" stop-color="#a5d23f"/><stop offset="0.906" stop-color="#a0d13f"/><stop offset="0.938" stop-color="#9bcf40"/><stop offset="0.969" stop-color="#96ce40"/><stop offset="1.000" stop-color="#92cc40"/></linearGradient>
<linearGradient id="g37"><stop offset="0.000" stop-color="#3577ad"/><stop offset="0.031" stop-color="#2a8c8a"/><stop offset="0.062" stop-color="#28a959"/><stop offset="0.094" stop-color="#2fb050"/><stop offset="0.125" stop-color="#30b24e"/><stop offset="0.156" stop-color="#35b34d"/><stop offset="0.188" stop-color="#39b44c"/><stop offset="0.219" stop-color="#3eb64b"/><stop offset="0.250" stop-color="#43b74b"/><stop offset="0.281" stop-color="#4db949"/><stop offset="0.312" stop-color="#5abd47"/><stop offset="0.344" stop-color="#67c045"/><stop offset="0.375" stop-color="#76c443"/><stop offset="0.406" stop-color="#89ca41"/><stop offset="0.438" stop-color="#9ed03f"/><stop offset="0.469" stop-color="#b3d73e"/><stop offset="0.500" stop-color="#c4dc3d"/><stop offset="0.531" stop-color="#d4e13c"/><stop offset="0.562" stop-color="#e1e53c"/><stop offset="0.594" stop-color="#e3e53c"/><stop offset="0.625" stop-color="#e1e53c"/><stop offset="0.656" stop-color="#dfe43c"/><stop offset="0.688" stop-color="#dbe33c"/><stop offset="0.719" stop-color="#cfe03d"/><stop offset="0.750" stop-color="#c3dc3d"/><stop offset="0.781" stop-color="#b7d83e"/><stop offset="0.812" stop-color="#aed53e"/><stop offset="0.844" stop-color="#a9d43f"/><stop offset="0.875" stop-color="#a5d23f"/><stop offset="0.906" stop-color="#a0d13f"/><stop offset="0.938" stop-color="#9bcf40"/><stop offset="0.969" stop-color="#96ce40"/><stop offset="1.000" stop-color="#92cc40"/></linearGradient>
<linearGradient id="g38"><stop offset="0.000" stop-color="#3577ad"/><stop offset="0.031" stop-color="#2a8c8a"/><stop offset="0.062" stop-color="#28a959"/><stop offset="0.094" stop-color="#2fb050"/><stop offset="0.125" stop-color="#30b24e"/><stop offset="0.156" stop-color="#35b34d"/><stop offset="0.188" stop-color="#39b44c"/><stop offset="0.219" stop-color="#3eb64b"/><stop offset="0.250" stop-color="#43b74b"/><stop offset="0.281" stop-color="#4db949"/><stop offset="0.312" stop-color="#5abd47"/><stop offset="0.344" stop-color="#67c045"/><stop offset="0.375" stop-color="#76c443"/><stop offset="0.406" stop-color="#89ca41"/><stop offset="0.438" stop-color="#9ed03f"/><stop offset="0.469" stop-color="#b3d73e"/><stop offset="0.500" stop-color="#c4dc3d"/><stop offset="0.531" stop-color="#d4e13c"/><stop offset="0.562" stop-color="#e1e53c"/><stop offset="0.594" stop-color="#e3e53c"/><stop offset="0.625" stop-color="#e1e53c"/><stop offset="0.656" stop-color="#dfe43c"/><stop offset="0.688" stop-color="#dbe33c"/><stop offset="0.719" stop-color="#cfe03d"/><stop offset="0.750" stop-color="#c3dc3d"/><stop offset="0.781" stop-color="#b7d83e"/><stop offset="0.812" stop-color="#aed53e"/><stop offset="0.844" stop-color="#a9d43f"/><stop offset="0.875" stop-color="#a5d23f"/><stop offset="0.906" stop-color="#a0d13f"/><stop offset="0.938" stop-color="#9bcf40"/><stop offset="0.969" stop-color="#96ce40"/><stop offset="1.000" stop-color="#92cc40"/></linearGradient>
<linearGradient id="g39"><stop offset="0.000" stop-color="#2e8597"/><stop offset="0.032" stop-color="#2a8c8a"/><stop offset="0.065" stop-color="#289d6d"/><stop offset="0.097" stop-color="#2bab56"/><stop offset="0.129" stop-color="#30b24e"/><stop offset="0.161" stop-color="#40b64b"/><stop offset="0.194" stop-color="#50ba48"/><stop offset="0.226" stop-color="#63bf45"/><stop offset="0.258" stop-color="#77c443"/><stop offset="0.290" stop-color="#90cc41"/><stop offset="0.323" stop-color="#9cd040"/><stop offset="0.355" stop-color="#a7d33f"/><stop offset="0.387" stop-color="#b4d73e"/><stop offset="0.419" stop-color="#cade3d"/><stop offset="0.452" stop-color="#e7e73d"/><stop offset="0.484" stop-color="#f1ea3e"/><stop offset="0.516" stop-color="#ebe83d"/><stop offset="0.548" stop-color="#dee43c"/><stop offset="0.581" stop-color="#cbde3d"/><stop offset="0.613" stop-color="#bad93e"/><stop offset="0.645" stop-color="#a4d23f"/><stop offset="0.677" stop-color="#8ccb41"/><stop offset="0.710" stop-color="#70c344"/><stop offset="0.742" stop-color="#59bc47"/><stop offset="0.774" stop-color="#48b84a"/><stop offset="0.806" stop-color="#38b44d"/><stop offset="0.839" stop-color="#2bac55"/><stop offset="0.871" stop-color="#289973"/><stop offset="0.903" stop-color="#337ba8"/><stop offset="0.935" stop-color="#4262b3"/><stop offset="0.968" stop-color="#3f5aac"/><stop offset="1.000" stop-color="#3f56aa"/></linearGradient>
<linearGradient id="g40"><stop offset="0.000" stop-color="#2e8597"/><stop offset="0.032" stop-color="#2a8c8a"/><stop offset="0.065" stop-color="#289d6d"/><stop offset="0.097" stop-color="#2bab56"/><stop offset="0.129" stop-color="#30b24e"/><stop offset="0.161" stop-color="#40b64b"/><stop offset="0.194" stop-color="#50ba48"/><stop offset="0.226" stop-color="#63bf45"/><stop offset="0.258" stop-color="#77c443"/><stop offset="0.290" stop-color="#90cc41"/><stop offset="0.323" stop-color="#9cd040"/><stop offset="0.355" stop-color="#a7d33f"/><stop offset="0.387" stop-color="#b4d73e"/><stop offset="0.419" stop-color="#cade3d"/><stop offset="0.452" stop-color="#e7e73d"/><stop offset="0.484" stop-color="#f1ea3e"/><stop offset="0.516" stop-color="#ebe83d"/><stop offset="0.548" stop-color="#dee43c"/><stop offset="0.581" stop-color="#cbde3d"/><stop offset="0.613" stop-color="#bad93e"/><stop offset="0.645" stop-color="#a4d23f"/><stop offset="0.677" stop-color="#8ccb41"/><stop offset="0.710" stop-color="#70c344"/><stop offset="0.742" stop-color="#59bc47"/><stop offset="0.774" stop-color="#48b84a"/><stop offset="0.806" stop-color="#38b44d"/><stop offset="0.839" stop-color="#2bac55"/><stop offset="0.871" stop-color="#289973"/><stop offset="0.903" stop-color="#337ba8"/><stop offset="0.935" stop-color="#4262b3"/><stop offset="0.968" stop-color="#3f5aac"/><stop offset="1.000" stop-color="#3f56aa"/></linearGradient>
<linearGradient id="g41"><stop offset="0.000" stop-color="#2c8892"/><stop offset="0.032" stop-color="#298f85"/><stop offset="0.065" stop-color="#289f6a"/><stop offset="0.097" stop-color="#2bac56"/><stop offset="0.129" stop-color="#30b24e"/><stop offset="0.161" stop-color="#40b64b"/><stop offset="0.194" stop-color="#50ba48"/><stop offset="0.226" stop-color="#63bf45"/><stop offset="0.258" stop-color="#77c443"/><stop offset="0.290" stop-color="#90cc41"/><stop offset="0.323" stop-color="#9cd040"/><stop offset="0.355" stop-color="#a7d33f"/><stop offset="0.387" stop-color="#b4d73e"/><stop offset="0.419" stop-color="#cade3d"/><stop offset="0.452" stop-color="#e7e73d"/><stop offset="0.484" stop-color="#f1ea3e"/><stop offset="0.516" stop-color="#ebe83d"/><stop offset="0.548" stop-color="#dee43c"/><stop offset="0.581" stop-color="#cbde3d"/><stop offset="0.613" stop-color="#bad93e"/><stop offset="0.645" stop-color="#a4d23f"/><stop offset="0.677" stop-color="#8ccb41"/><stop offset="0.710" stop-color="#70c344"/><stop offset="0.742" stop-color="#59bc47"/><stop offset="0.774" stop-color="#48b84a"/><stop offset="0.806" stop-color="#38b44d"/><stop offset="0.839" stop-color="#2bac55"/><stop offset="0.871" stop-color="#289973"/><stop offset="0.903" stop-color="#337ba8"/><stop offset="0.935" stop-color="#4262b3"/><stop offset="0.968" stop-color="#3f5aac"/><stop offset="1.000" stop-color="#3f56aa"/></linearGradient>
<linearGradient id="g42"><stop offset="0.000" stop-color="#2a8d89"/><stop offset="0.032" stop-color="#28947c"/><stop offset="0.065" stop-color="#28a264"/><stop offset="0.097" stop-color="#2cac55"/><stop offset="0.129" stop-color="#31b24e"/><stop offset="0.161" stop-color="#40b64b"/><stop offset="0.194" stop-color="#50ba48"/><stop offset="0.226" stop-color="#63bf45"/><stop offset="0.258" stop-color="#77c443"/><stop offset="0.290" stop-color="#90cc41"/><stop offset="0.323" stop-color="#9cd040"/><stop offset="0.355" stop-color="#a7d33f"/><stop offset="0.387" stop-color="#b4d73e"/><stop offset="0.419" stop-color="#cade3d"/><stop offset="0.452" stop-color="#e7e73d"/><stop offset="0.484" stop-color="#f1ea3e"/><stop offset="0.516" stop-color="#ebe83d"/><stop offset="0.548" stop-color="#dee43c"/><stop offset="0.581" stop-color="#cbde3d"/><stop offset="0.613" stop-color="#bad93e"/><stop offset="0.645" stop-color="#a4d23f"/><stop offset="0.677" stop-color="#8ccb41"/><stop offset="0.710" stop-color="#70c344"/><stop offset="0.742" stop-color="#59bc47"/><stop offset="0.774" stop-color="#48b84a"/><stop offset="0.806" stop-color="#38b44d"/><stop offset="0.839" stop-color="#2bac55"/><stop offset="0.871" stop-color="#289973"/><stop offset="0.903" stop-color="#337ba8"/><stop offset="0.935" stop-color="#4262b3"/><stop offset="0.968" stop-color="#3f5aac"/><stop offset="1.000" stop-color="#3f56aa"/></linearGradient>
<linearGradient id="g43"><stop offset="0.000" stop-color="#28937f"/><stop offset="0.032" stop-color="#289a72"/><stop offset="0.065" stop-color="#28a75c"/><stop offset="0.097" stop-color="#2cad53"/><stop offset="0.129" stop-color="#31b24e"/><stop offset="0.161" stop-color="#40b64b"/><stop offset="0.194" stop-color="#50ba48"/><stop offset="0.226" stop-color="#63bf45"/><stop offset="0.258" stop-color="#77c443"/><stop offset="0.290" stop-color="#90cc41"/><stop offset="0.323" stop-color="#9cd040"/><stop offset="0.355" stop-color="#a7d33f"/><stop offset="0.387" stop-color="#b4d73e"/><stop offset="0.419" stop-color="#cade3d"/><stop offset="0.452" stop-color="#e7e73d"/><stop offset="0.484" stop-color="#f1ea3e"/><stop offset="0.516" stop-color="#ebe83d"/><stop offset="0.548" stop-color="#dee43c"/><stop offset="0.581" stop-color="#cbde3d"/><stop offset="0.613" stop-color="#bad93e"/><stop offset="0.645" stop-color="#a4d23f"/><stop offset="0.677" stop-color="#8ccb41"/><stop offset="0.710" stop-color="#70c344"/><stop offset="0.742" stop-color="#59bc47"/><stop offset="0.774" stop-color="#48b84a"/><stop offset="0.806" stop-color="#38b44d"/><stop offset="0.839" stop-color="#2bac55"/><stop offset="0.871" stop-color="#289973"/><stop offset="0.903" stop-color="#337ba8"/><stop offset="0.935" stop-color="#4262b3"/><stop offset="0.968" stop-color="#3f5aac"/><stop offset="1.000" stop-color="#3f56aa"/></linearGradient>
<linearGradient id="g44"><stop offset="0.000" stop-color="#289875"/><stop offset="0.032" stop-color="#28a069"/><stop offset="0.065" stop-color="#29a959"/><stop offset="0.097" stop-color="#2dae52"/><stop offset="0.129" stop-color="#32b34e"/><stop offset="0.161" stop-color="#41b64b"/><stop offset="0.194" stop-color="#50ba48"/><stop offset="0.226" stop-color="#63bf45"/><stop offset="0.258" stop-color="#77c443"/><stop offset="0.290" stop-color="#90cc41"/><stop offset="0.323" stop-color="#9cd040"/><stop offset="0.355" stop-color="#a7d33f"/><stop offset="0.387" stop-color="#b4d73e"/><stop offset="0.419" stop-color="#cade3d"/><stop offset="0.452" stop-color="#e7e73d"/><stop offset="0.484" stop-color="#f1ea3e"/><stop offset="0.516" stop-color="#ebe83d"/><stop offset="0.548" stop-color="#dee43c"/><stop offset="0.581" stop-color="#cbde3d"/><stop offset="0.613" stop-color="#bad93e"/><stop offset="0.645" stop-color="#a4d23f"/><stop offset="0.677" stop-color="#8ccb41"/><stop offset="0.710" stop-color="#70c344"/><stop offset="0.742" stop-color="#59bc47"/><stop offset="0.774" stop-color="#48b84a"/><stop offset="0.806" stop-color="#38b44d"/><stop offset="0.839" stop-color="#2bac55"/><stop offset="0.871" stop-color="#289973"/><stop offset="0.903" stop-color="#337ba8"/><stop offset="0.935" stop-color="#4262b3"/><stop offset="0.968" stop-color="#3f5aac"/><stop offset="1.000" stop-color="#3f56aa"/></linearGradient>
<linearGradient id="g45"><stop offset="0.000" stop-color="#289d6d"/><stop offset="0.032" stop-color="#28a460"/><stop offset="0.065" stop-color="#2aab57"/><stop offset="0.097" stop-color="#2eaf51"/><stop offset="0.129" stop-color="#33b34d"/><stop offset="0.161" stop-color="#41b64b"/><stop offset="0.194" stop-color="#50ba48"/><stop offset="0.226" stop-color="#63bf45"/><stop offset="0.258" stop-color="#77c443"/><stop offset="0.290" stop-color="#90cc41"/><stop offset="0.323" stop-color="#9cd040"/><stop offset="0.355" stop-color="#a7d33f"/><stop offset="0.387" stop-color="#b4d73e"/><stop offset="0.419" stop-color="#cade3d"/><stop offset="0.452" stop-color="#e7e73d"/><stop offset="0.484" stop-color="#f1ea3e"/><stop offset="0.516" stop-color="#ebe83d"/><stop offset="0.548" stop-color="#dee43c"/><stop offset="0.581" stop-color="#cbde3d"/><stop offset="0.613" stop-color="#bad93e"/><stop offset="0.645" stop-color="#a4d23f"/><stop offset="0.677" stop-color="#8ccb41"/><stop offset="0.710" stop-color="#70c344"/><stop offset="0.742" stop-color="#59bc47"/><stop offset="0.774" stop-color="#48b84a"/><stop offset="0.806" stop-color="#38b44d"/><stop offset="0.839" stop-color="#2bac55"/><stop offset="0.871" stop-color="#289973"/><stop offset="0.903" stop-color="#337ba8"/><stop offset="0.935" stop-color="#4262b3"/><stop offset="0.968" stop-color="#3f5aac"/><stop offset="1.000" stop-color="#3f56aa"/></linearGradient>
<linearGradient id="g46"><stop offset="0.000" stop-color="#28a068"/><stop offset="0.032" stop-color="#28a85b"/><stop offset="0.065" stop-color="#2bac55"/><stop offset="0.097" stop-color="#2eb051"/><stop offset="0.129" stop-color="#33b34d"/><stop offset="0.161" stop-color="#41b64b"/><stop offset="0.194" stop-color="#50ba48"/><stop offset="0.226" stop-color="#63bf45"/><stop offset="0.258" stop-color="#77c443"/><stop offset="0.290" stop-color="#90cc41"/><stop offset="0.323" stop-color="#9cd040"/><stop offset="0.355" stop-color="#a7d33f"/><stop offset="0.387" stop-color="#b4d73e"/><stop offset="0.419" stop-color="#cade3d"/><stop offset="0.452" stop-color="#e7e73d"/><stop offset="0.484" stop-color="#f1ea3e"/><stop offset="0.516" stop-color="#ebe83d"/><stop offset="0.548" stop-color="#dee43c"/><stop offset="0.581" stop-color="#cbde3d"/><stop offset="0.613" stop-color="#bad93e"/><stop offset="0.645" stop-color="#a4d23f"/><stop offset="0.677" stop-color="#8ccb41"/><stop offset="0.710" stop-color="#70c344"/><stop offset="0.742" stop-color="#59bc47"/><stop offset="0.774" stop-color="#48b84a"/><stop offset="0.806" stop-color="#38b44d"/><stop offset="0.839" stop-color="#2bac55"/><stop offset="0.871" stop-color="#289973"/><stop offset="0.903" stop-color="#337ba8"/><stop offset="0.935" stop-color="#4262b3"/><stop offset="0.968" stop-color="#3f5aac"/><stop offset="1.000" stop-color="#3f56aa"/></linearGradient>
<linearGradient id="g47"><stop offset="0.000" stop-color="#28a264"/><stop offset="0.032" stop-color="#29a959"/><stop offset="0.065" stop-color="#2cac55"/><stop offset="0.097" stop-color="#2fb050"/><stop offset="0.129" stop-color="#34b34d"/><stop offset="0.161" stop-color="#41b64b"/><stop offset="0.194" stop-color="#50ba48"/><stop offset="0.226" stop-color="#63bf45"/><stop offset="0.258" stop-color="#77c443"/><stop offset="0.290" stop-color="#90cc41"/><stop offset="0.323" stop-color="#9cd040"/><stop offset="0.355" stop-color="#a7d33f"/><stop offset="0.387" stop-color="#b4d73e"/><stop offset="0.419" stop-color="#cade3d"/><stop offset="0.452" stop-color="#e7e73d"/><stop offset="0.484" stop-color="#f1ea3e"/><stop offset="0.516" stop-color="#ebe83d"/><stop offset="0.548" stop-color="#dee43c"/><stop offset="0.581" stop-color="#cbde3d"/><stop offset="0.613" stop-color="#bad93e"/><stop offset="0.645" stop-color="#a4d23f"/><stop offset="0.677" stop-color="#8ccb41"/><stop offset="0.710" stop-color="#70c344"/><stop offset="0.742" stop-color="#59bc47"/><stop offset="0.774" stop-color="#48b84a"/><stop offset="0.806" stop-color="#38b44d"/><stop offset="0.839" stop-color="#2bac55"/><stop offset="0.871" stop-color="#289973"/><stop offset="0.903" stop-color="#337ba8"/><stop offset="0.935" stop-color="#4262b3"/><stop offset="0.968" stop-color="#3f5aac"/><stop offset="1.000" stop-color="#3f56aa"/></linearGradient>
<linearGradient id="g48"><stop offset="0.000" stop-color="#28a462"/><stop offset="0.032" stop-color="#29a958"/><stop offset="0.065" stop-color="#2cad54"/><stop offset="0.097" stop-color="#2fb050"/><stop offset="0.129" stop-color="#34b34d"/><stop offset="0.161" stop-color="#41b64b"/><stop offset="0.194" stop-color="#51ba48"/><stop offset="0.226" stop-color="#63bf45"/><stop offset="0.258" stop-color="#77c443"/><stop offset="0.290" stop-color="#90cc41"/><stop offset="0.323" stop-color="#9cd040"/><stop offset="0.355" stop-color="#a7d33f"/><stop offset="0.387" stop-color="#b4d73e"/><stop offset="0.419" stop-color="#cade3d"/><stop offset="0.452" stop-color="#e7e73d"/><stop offset="0.484" stop-color="#f1ea3e"/><stop offset="0.516" stop-color="#ebe83d"/><stop offset="0.548" stop-color="#dee43c"/><stop offset="0.581" stop-color="#cbde3d"/><stop offset="0.613" stop-color="#bad93e"/><stop offset="0.645" stop-color="#a4d23f"/><stop offset="0.677" stop-color="#8ccb41"/><stop offset="0.710" stop-color="#70c344"/><stop offset="0.742" stop-color="#59bc47"/><stop offset="0.774" stop-color="#48b84a"/><stop offset="0.806" stop-color="#38b44d"/><stop offset="0.839" stop-color="#2bac55"/><stop offset="0.871" stop-color="#289973"/><stop offset="0.903" stop-color="#337ba8"/><stop offset="0.935" stop-color="#4262b3"/><stop offset="0.968" stop-color="#3f5aac"/><stop offset="1.000" stop-color="#3f56aa"/></linearGradient>
<linearGradient id="g49"><stop offset="0.000" stop-color="#28a461"/><stop offset="0.032" stop-color="#29aa58"/><stop offset="0.065" stop-color="#2cad54"/><stop offset="0.097" stop-color="#2fb150"/><stop offset="0.129" stop-color="#34b34d"/><stop offset="0.161" stop-color="#41b64b"/><stop offset="0.194" stop-color="#51ba48"/><stop offset="0.226" stop-color="#63bf45"/><stop offset="0.258" stop-color="#77c443"/><stop offset="0.290" stop-color="#90cc41"/><stop offset="0.323" stop-color="#9cd040"/><stop offset="0.355" stop-color="#a7d33f"/><stop offset="0.387" stop-color="#b4d73e"/><stop offset="0.419" stop-color="#cade3d"/><stop offset="0.452" stop-color="#e7e73d"/><stop offset="0.484" stop-color="#f1ea3e"/><stop offset="0.516" stop-color="#ebe83d"/><stop offset="0.548" stop-color="#dee43c"/><stop offset="0.581" stop-color="#cbde3d"/><stop offset="0.613" stop-color="#bad93e"/><stop offset="0.645" stop-color="#a4d23f"/><stop offset="0.677" stop-color="#8ccb41"/><stop offset="0.710" stop-color="#70c344"/><stop offset="0.742" stop-color="#59bc47"/><stop offset="0.774" stop-color="#48b84a"/><stop offset="0.806" stop-color="#38b44d"/><stop offset="0.839" stop-color="#2bac55"/><stop offset="0.871" stop-color="#289973"/><stop offset="0.903" stop-color="#337ba8"/><stop offset="0.935" stop-color="#4262b3"/><stop offset="0.968" stop-color="#3f5aac"/><stop offset="1.000" stop-color="#3f56aa"/></linearGradient>
<linearGradient id="g50"><stop offset="0.000" stop-color="#28a560"/><stop offset="0.032" stop-color="#29aa58"/><stop offset="0.065" stop-color="#2cad54"/><stop offset="0.097" stop-color="#2fb150"/><stop offset="0.129" stop-color="#34b34d"/><stop offset="0.161" stop-color="#41b64b"/><stop offset="0.194" stop-color="#51ba48"/><stop offset="0.226" stop-color="#63bf45"/><stop offset="0.258" stop-color="#77c443"/><stop offset="0.290" stop-color="#90cc41"/><stop offset="0.323" stop-color="#9cd040"/><stop offset="0.355" stop-color="#a7d33f"/><stop offset="0.387" stop-color="#b4d73e"/><stop offset="0.419" stop-color="#cade3d"/><stop offset="0.452" stop-color="#e7e73d"/><stop offset="0.484" stop-color="#f1ea3e"/><stop offset="0.516" stop-color="#ebe83d"/><stop offset="0.548" stop-color="#dee43c"/><stop offset="0.581" stop-color="#cbde3d"/><stop offset="0.613" stop-color="#bad93e"/><stop offset="0.645" stop-color="#a4d23f"/><stop offset="0.677" stop-color="#8ccb41"/><stop offset="0.710" stop-color="#70c344"/><stop offset="0.742" stop-color="#59bc47"/><stop offset="0.774" stop-color="#48b84a"/><stop offset="0.806" stop-color="#38b44d"/><stop offset="0.839" stop-color="#2bac55"/><stop offset="0.871" stop-color="#289973"/><stop offset="0.903" stop-color="#337ba8"/><stop offset="0.935" stop-color="#4262b3"/><stop offset="0.968" stop-color="#3f5aac"/><stop offset="1.000" stop-color="#3f56aa"/></linearGradient>
<linearGradient id="g51"><stop offset="0.000" stop-color="#28a560"/><stop offset="0.032" stop-color="#29aa58"/><stop offset="0.065" stop-color="#2cad54"/><stop offset="0.097" stop-color="#2fb150"/><stop offset="0.129" stop-color="#34b34d"/><stop offset="0.161" stop-color="#41b64b"/><stop offset="0.194" stop-color="#51ba48"/><stop offset="0.226" stop-color="#63bf45"/><stop offset="0.258" stop-color="#77c443"/><stop offset="0.290" stop-color="#90cc41"/><stop offset="0.323" stop-color="#9cd040"/><stop offset="0.355" stop-color="#a7d33f"/><stop offset="0.387" stop-color="#b4d73e"/><stop offset="0.419" stop-color="#cade3d"/><stop offset="0.452" stop-color="#e7e73d"/><stop offset="0.484" stop-color="#f1ea3e"/><stop offset="0.516" stop-color="#ebe83d"/><stop offset="0.548" stop-color="#dee43c"/><stop offset="0.581" stop-color="#cbde3d"/><stop offset="0.613" stop-color="#bad93e"/><stop offset="0.645" stop-color="#a4d23f"/><stop offset="0.677" stop-color="#8ccb41"/><stop offset="0.710" stop-color="#70c344"/><stop offset="0.742" stop-color="#59bc47"/><stop offset="0.774" stop-color="#48b84a"/><stop offset="0.806" stop-color="#38b44d"/><stop offset="0.839" stop-color="#2bac55"/><stop offset="0.871" stop-color="#289973"/><stop offset="0.903" stop-color="#337ba8"/><stop offset="0.935" stop-color="#4262b3"/><stop offset="0.968" stop-color="#3f5aac"/><stop offset="1.000" stop-color="#3f56aa"/></linearGradient>
<linearGradient id="g52"><stop offset="0.000" stop-color="#28a560"/><stop offset="0.032" stop-color="#29aa58"/><stop offset="0.065" stop-color="#2cad54"/><stop offset="0.097" stop-color="#2fb150"/><stop offset="0.129" stop-color="#34b34d"/><stop offset="0.161" stop-color="#41b64b"/><stop offset="0.194" stop-color="#51ba48"/><stop offset="0.226" stop-color="#63bf45"/><stop offset="0.258" stop-color="#77c443"/><stop offset="0.290" stop-color="#90cc41"/><stop offset="0.323" stop-color="#9cd040"/><stop offset="0.355" stop-color="#a7d33f"/><stop offset="0.387" stop-color="#b4d73e"/><stop offset="0.419" stop-color="#cade3d"/><stop offset="0.452" stop-color="#e7e73d"/><stop offset="0.484" stop-color="#f1ea3e"/><stop offset="0.516" stop-color="#ebe83d"/><stop offset="0.548" stop-color="#dee43c"/><stop offset="0.581" stop-color="#cbde3d"/><stop offset="0.613" stop-color="#bad93e"/><stop offset="0.645" stop-color="#a4d23f"/><stop offset="0.677" stop-color="#8ccb41"/><stop offset="0.710" stop-color="#70c344"/><stop offset="0.742" stop-color="#59bc47"/><stop offset="0.774" stop-color="#48b84a"/><stop offset="0.806" stop-color="#38b44d"/><stop offset="0.839" stop-color="#2bac55"/><stop offset="0.871" stop-color="#289973"/><stop offset="0.903" stop-color="#337ba8"/><stop offset="0.935" stop-color="#4262b3"/><stop offset="0.968" stop-color="#3f5aac"/><stop offset="1.000" stop-color="#3f56aa"/></linearGradient>
<linearGradient id="g53"><stop offset="0.000" stop-color="#28a560"/><stop offset="0.032" stop-color="#29aa58"/><stop offset="0.065" stop-color="#2cad54"/><stop offset="0.097" stop-color="#2fb150"/><stop offset="0.129" stop-color="#34b34d"/><stop offset="0.161" stop-color="#41b64b"/><stop offset="0.194" stop-color="#51ba48"/><stop offset="0.226" stop-color="#63bf45"/><stop offset="0.258" stop-color="#77c443"/><stop offset="0.290" stop-color="#90cc41"/><stop offset="0.323" stop-color="#9cd040"/><stop offset="0.355" stop-color="#a7d33f"/><stop offset="0.387" stop-color="#b4d73e"/><stop offset="0.419" stop-color="#cade3d"/><stop offset="0.452" stop-color="#e7e73d"/><stop offset="0.484" stop-color="#f1ea3e"/><stop offset="0.516" stop-color="#ebe83d"/><stop offset="0.548" stop-color="#dee43c"/><stop offset="0.581" stop-color="#cbde3d"/><stop offset="0.613" stop-color="#bad93e"/><stop offset="0.645" stop-color="#a4d23f"/><stop offset="0.677" stop-color="#8ccb41"/><stop offset="0.710" stop-color="#70c344"/><stop offset="0.742" stop-color="#59bc47"/><stop offset="0.774" stop-color="#48b84a"/><stop offset="0.806" stop-color="#38b44d"/><stop offset="0.839" stop-color="#2bac55"/><stop offset="0.871" stop-color="#289973"/><stop offset="0.903" stop-color="#337ba8"/><stop offset="0.935" stop-color="#4262b3"/><stop offset="0.968" stop-color="#3f5aac"/><stop offset="1.000" stop-color="#3f56aa"/></linearGradient>
<linearGradient id="g54"><stop offset="0.000" stop-color="#28a560"/><stop offset="0.032" stop-color="#29aa58"/><stop offset="0.065" stop-color="#2cad54"/><stop offset="0.097" stop-color="#2fb150"/><stop offset="0.129" stop-color="#34b34d"/><stop offset="0.161" stop-color="#41b64b"/><stop offset="0.194" stop-color="#51ba48"/><stop offset="0.226" stop-color="#63bf45"/><stop offset="0.258" stop-color="#77c443"/><stop offset="0.290" stop-color="#90cc41"/><stop offset="0.323" stop-color="#9cd040"/><stop offset="0.355" stop-color="#a7d33f"/><stop offset="0.387" stop-color="#b4d73e"/><stop offset="0.419" stop-color="#cade3d"/><stop offset="0.452" stop-color="#e7e73d"/><stop offset="0.484" stop-color="#f1ea3e"/><stop offset="0.516" stop-color="#ebe83d"/><stop offset="0.548" stop-color="#dee43c"/><stop offset="0.581" stop-color="#cbde3d"/><stop offset="0.613" stop-color="#bad93e"/><stop offset="0.645" stop-color="#a4d23f"/><stop offset="0.677" stop-color="#8ccb41"/><stop offset="0.710" stop-color="#70c344"/><stop offset="0.742" stop-color="#59bc47"/><stop offset="0.774" stop-color="#48b84a"/><stop offset="0.806" stop-color="#38b44d"/><stop offset="0.839" stop-color="#2bac55"/><stop offset="0.871" stop-color="#289973"/><stop offset="0.903" stop-color="#337ba8"/><stop offset="0.935" stop-color="#4262b3"/><stop offset="0.968" stop-color="#3f5aac"/><stop offset="1.000" stop-color="#3f56aa"/></linearGradient>
<linearGradient id="g55"><stop offset="0.000" stop-color="#28a560"/><stop offset="0.032" stop-color="#29aa58"/><stop offset="0.065" stop-color="#2cad54"/><stop offset="0.097" stop-color="#2fb150"/><stop offset="0.129" stop-color="#34b34d"/><stop offset="0.161" stop-color="#41b64b"/><stop offset="0.194" stop-color="#51ba48"/><stop offset="0.226" stop-color="#63bf45"/><stop offset="0.258" stop-color="#77c443"/><stop offset="0.290" stop-color="#90cc41"/><stop offset="0.323" stop-color="#9cd040"/><stop offset="0.355" stop-color="#a7d33f"/><stop offset="0.387" stop-color="#b4d73e"/><stop offset="0.419" stop-color="#cade3d"/><stop offset="0.452" stop-color="#e7e73d"/><stop offset="0.484" stop-color="#f1ea3e"/><stop offset="0.516" stop-color="#ebe83d"/><stop offset="0.548" stop-color="#dee43c"/><stop offset="0.581" stop-color="#cbde3d"/><stop offset="0.613" stop-color="#bad93e"/><stop offset="0.645" stop-color="#a4d23f"/><stop offset="0.677" stop-color="#8ccb41"/><stop offset="0.710" stop-color="#70c344"/><stop offset="0.742" stop-color="#59bc47"/><stop offset="0.774" stop-color="#48b84a"/><stop offset="0.806" stop-color="#38b44d"/><stop offset="0.839" stop-color="#2bac55"/><stop offset="0.871" stop-color="#289973"/><stop offset="0.903" stop-color="#337ba8"/><stop offset="0.935" stop-color="#4262b3"/><stop offset="0.968" stop-color="#3f5aac"/><stop offset="1.000" stop-color="#3f56aa"/></linearGradient>
<linearGradient id="g56"><stop offset="0.000" stop-color="#28a560"/><stop offset="0.032" stop-color="#29aa58"/><stop offset="0.065" stop-color="#2cad54"/><stop offset="0.097" stop-color="#2fb150"/><stop offset="0.129" stop-color="#34b34d"/><stop offset="0.161" stop-color="#41b64b"/><stop offset="0.194" stop-color="#51ba48"/><stop offset="0.226" stop-color="#63bf45"/><stop offset="0.258" stop-color="#77c443"/><stop offset="0.290" stop-color="#90cc41"/><stop offset="0.323" stop-color="#9cd040"/><stop offset="0.355" stop-color="#a7d33f"/><stop offset="0.387" stop-color="#b4d73e"/><stop offset="0.419" stop-color="#cade3d"/><stop offset="0.452" stop-color="#e7e73d"/><stop offset="0.484" stop-color="#f1ea3e"/><stop offset="0.516" stop-color="#ebe83d"/><stop offset="0.548" stop-color="#dee43c"/><stop offset="0.581" stop-color="#cbde3d"/><stop offset="0.613" stop-color="#bad93e"/><stop offset="0.645" stop-color="#a4d23f"/><stop offset="0.677" stop-color="#8ccb41"/><stop offset="0.710" stop-color="#70c344"/><stop offset="0.742" stop-color="#59bc47"/><stop offset="0.774" stop-color="#48b84a"/><stop offset="0.806" stop-color="#38b44d"/><stop offset="0.839" stop-color="#2bac55"/><stop offset="0.871" stop-color="#289973"/><stop offset="0.903" stop-color="#337ba8"/><stop offset="0.935" stop-color="#4262b3"/><stop offset="0.968" stop-color="#3f5aac"/><stop offset="1.000" stop-color="#3f56aa"/></linearGradient>
<linearGradient id="g57"><stop offset="0.000" stop-color="#28a560"/><stop offset="0.032" stop-color="#29aa58"/><stop offset="0.065" stop-color="#2cad54"/><stop offset="0.097" stop-color="#2fb150"/><stop offset="0.129" stop-color="#34b34d"/><stop offset="0.161" stop-color="#41b64b"/><stop offset="0.194" stop-color="#51ba48"/><stop offset="0.226" stop-color="#63bf45"/><stop offset="0.258" stop-color="#77c443"/><stop offset="0.290" stop-color="#90cc41"/><stop offset="0.323" stop-color="#9cd040"/><stop offset="0.355" stop-color="#a7d33f"/><stop offset="0.387" stop-color="#b4d73e"/><stop offset="0.419" stop-color="#cade3d"/><stop offset="0.452" stop-color="#e7e73d"/><stop offset="0.484" stop-color="#f1ea3e"/><stop offset="0.516" stop-color="#ebe83d"/><stop offset="0.548" stop-color="#dee43c"/><stop offset="0.581" stop-color="#cbde3d"/><stop offset="0.613" stop-color="#bad93e"/><stop offset="0.645" stop-color="#a4d23f"/><stop offset="0.677" stop-color="#8ccb41"/><stop offset="0.710" stop-color="#70c344"/><stop offset="0.742" stop-color="#59bc47"/><stop offset="0.774" stop-color="#48b84a"/><stop offset="0.806" stop-color="#38b44d"/><stop offset="0.839" stop-color="#2bac55"/><stop offset="0.871" stop-color="#289973"/><stop offset="0.903" stop-color="#337ba8"/><stop offset="0.935" stop-color="#4262b3"/><stop offset="0.968" stop-color="#3f5aac"/><stop offset="1.000" stop-color="#3f56aa"/></linearGradient>
<linearGradient id="g58"><stop offset="0.000" stop-color="#28a560"/><stop offset="0.032" stop-color="#29aa58"/><stop offset="0.065" stop-color="#2cad54"/><stop offset="0.097" stop-color="#2fb150"/><stop offset="0.129" stop-color="#34b34d"/><stop offset="0.161" stop-color="#41b64b"/><stop offset="0.194" stop-color="#51ba48"/><stop offset="0.226" stop-color="#63bf45"/><stop offset="0.258" stop-color="#77c443"/><stop offset="0.290" stop-color="#90cc41"/><stop offset="0.323" stop-color="#9cd040"/><stop offset="0.355" stop-color="#a7d33f"/><stop offset="0.387" stop-color="#b4d73e"/><stop offset="0.419" stop-color="#cade3d"/><stop offset="0.452" stop-color="#e7e73d"/><stop offset="0.484" stop-color="#f1ea3e"/><stop offset="0.516" stop-color="#ebe83d"/><stop offset="0.548" stop-color="#dee43c"/><stop offset="0.581" stop-color="#cbde3d"/><stop offset="0.613" stop-color="#bad93e"/><stop offset="0.645" stop-color="#a4d23f"/><stop offset="0.677" stop-color="#8ccb41"/><stop offset="0.710" stop-color="#70c344"/><stop offset="0.742" stop-color="#59bc47"/><stop offset="0.774" stop-color="#48b84a"/><stop offset="0.806" stop-color="#38b44d"/><stop offset="0.839" stop-color="#2bac55"/><stop offset="0.871" stop-color="#289973"/><stop offset="0.903" stop-color="#337ba8"/><stop offset="0.935" stop-color="#4262b3"/><stop offset="0.968" stop-color="#3f5aac"/><stop offset="1.000" stop-color="#3f56aa"/></linearGradient>
<linearGradient id="g59"><stop offset="0.000" stop-color="#28a560"/><stop offset="0.032" stop-color="#29aa58"/><stop offset="0.065" stop-color="#2cad54"/><stop offset="0.097" stop-color="#2fb150"/><stop offset="0.129" stop-color="#34b34d"/><stop offset="0.161" stop-color="#41b64b"/><stop offset="0.194" stop-color="#51ba48"/><stop offset="0.226" stop-color="#63bf45"/><stop offset="0.258" stop-color="#77c443"/><stop offset="0.290" stop-color="#90cc41"/><stop offset="0.323" stop-color="#9cd040"/><stop offset="0.355" stop-color="#a7d33f"/><stop offset="0.387" stop-color="#b4d73e"/><stop offset="0.419" stop-color="#cade3d"/><stop offset="0.452" stop-color="#e7e73d"/><stop offset="0.484" stop-color="#f1ea3e"/><stop offset="0.516" stop-color="#ebe83d"/><stop offset="0.548" stop-color="#dee43c"/><stop offset="0.581" stop-color="#cbde3d"/><stop offset="0.613" stop-color="#bad93e"/><stop offset="0.645" stop-color="#a4d23f"/><stop offset="0.677" stop-color="#8ccb41"/><stop offset="0.710" stop-color="#70c344"/><stop offset="0.742" stop-color="#59bc47"/><stop offset="0.774" stop-color="#48b84a"/><stop offset="0.806" stop-color="#38b44d"/><stop offset="0.839" stop-color="#2bac55"/><stop offset="0.871" stop-color="#289973"/><stop offset="0.903" stop-color="#337ba8"/><stop offset="0.935" stop-color="#4262b3"/><stop offset="0.968" stop-color="#3f5aac"/><stop offset="1.000" stop-color="#3f56aa"/></linearGradient>
<linearGradient id="g60"><stop offset="0.000" stop-color="#28a560"/><stop offset="0.032" stop-color="#29aa58"/><stop offset="0.065" stop-color="#2cad54"/><stop offset="0.097" stop-color="#2fb150"/><stop offset="0.129" stop-color="#34b34d"/><stop offset="0.161" stop-color="#41b64b"/><stop offset="0.194" stop-color="#51ba48"/><stop offset="0.226" stop-color="#63bf45"/><stop offset="0.258" stop-color="#77c443"/><stop offset="0.290" stop-color="#90cc41"/><stop offset="0.323" stop-color="#9cd040"/><stop offset="0.355" stop-color="#a7d33f"/><stop offset="0.387" stop-color="#b4d73e"/><stop offset="0.419" stop-color="#cade3d"/><stop offset="0.452" stop-color="#e7e73d"/><stop offset="0.484" stop-color="#f1ea3e"/><stop offset="0.516" stop-color="#ebe83d"/><stop offset="0.548" stop-color="#dee43c"/><stop offset="0.581" stop-color="#cbde3d"/><stop offset="0.613" stop-color="#bad93e"/><stop offset="0.645" stop-color="#a4d23f"/><stop offset="0.677" stop-color="#8ccb41"/><stop offset="0.710" stop-color="#70c344"/><stop offset="0.742" stop-color="#59bc47"/><stop offset="0.774" stop-color="#48b84a"/><stop offset="0.806" stop-color="#38b44d"/><stop offset="0.839" stop-color="#2bac55"/><stop offset="0.871" stop-color="#289973"/><stop offset="0.903" stop-color="#337ba8"/><stop offset="0.935" stop-color="#4262b3"/><stop offset="0.968" stop-color="#3f5aac"/><stop offset="1.000" stop-color="#3f56aa"/></linearGradient>
<linearGradient id="g61"><stop offset="0.000" stop-color="#28a560"/><stop offset="0.032" stop-color="#29aa58"/><stop offset="0.065" stop-color="#2cad54"/><stop offset="0.097" stop-color="#2fb150"/><stop offset="0.129" stop-color="#34b34d"/><stop offset="0.161" stop-color="#41b64b"/><stop offset="0.194" stop-color="#51ba48"/><stop offset="0.226" stop-color="#63bf45"/><stop offset="0.258" stop-color="#77c443"/><stop offset="0.290" stop-color="#90cc41"/><stop offset="0.323" stop-color="#9cd040"/><stop offset="0.355" stop-color="#a7d33f"/><stop offset="0.387" stop-color="#b4d73e"/><stop offset="0.419" stop-color="#cade3d"/><stop offset="0.452" stop-color="#e7e73d"/><stop offset="0.484" stop-color="#f1ea3e"/><stop offset="0.516" stop-color="#ebe83d"/><stop offset="0.548" stop-color="#dee43c"/><stop offset="0.581" stop-color="#cbde3d"/><stop offset="0.613" stop-color="#bad93e"/><stop offset="0.645" stop-color="#a4d23f"/><stop offset="0.677" stop-color="#8ccb41"/><stop offset="0.710" stop-color="#70c344"/><stop offset="0.742" stop-color="#59bc47"/><stop offset="0.774" stop-color="#48b84a"/><stop offset="0.806" stop-color="#38b44d"/><stop offset="0.839" stop-color="#2bac55"/><stop offset="0.871" stop-color="#289973"/><stop offset="0.903" stop-color="#337ba8"/><stop offset="0.935" stop-color="#4262b3"/><stop offset="0.968" stop-color="#3f5aac"/><stop offset="1.000" stop-color="#3f56aa"/></linearGradient>
<linearGradient id="g62"><stop offset="0.000" stop-color="#28a560"/><stop offset="0.032" stop-color="#29aa58"/><stop offset="0.065" stop-color="#2cad54"/><stop offset="0.097" stop-color="#2fb150"/><stop offset="0.129" stop-color="#34b34d"/><stop offset="0.161" stop-color="#41b64b"/><stop offset="0.194" stop-color="#51ba48"/><stop offset="0.226" stop-color="#63bf45"/><stop offset="0.258" stop-color="#77c443"/><stop offset="0.290" stop-color="#90cc41"/><stop offset="0.323" stop-color="#9cd040"/><stop offset="0.355" stop-color="#a7d33f"/><stop offset="0.387" stop-color="#b4d73e"/><stop offset="0.419" stop-color="#cade3d"/><stop offset="0.452" stop-color="#e7e73d"/><stop offset="0.484" stop-color="#f1ea3e"/><stop offset="0.516" stop-color="#ebe83d"/><stop offset="0.548" stop-color="#dee43c"/><stop offset="0.581" stop-color="#cbde3d"/><stop offset="0.613" stop-color="#bad93e"/><stop offset="0.645" stop-color="#a4d23f"/><stop offset="0.677" stop-color="#8ccb41"/><stop offset="0.710" stop-color="#70c344"/><stop offset="0.742" stop-color="#59bc47"/><stop offset="0.774" stop-color="#48b84a"/><stop offset="0.806" stop-color="#38b44d"/><stop offset="0.839" stop-color="#2bac55"/><stop offset="0.871" stop-color="#289973"/><stop offset="0.903" stop-color="#337ba8"/><stop offset="0.935" stop-color="#4262b3"/><stop offset="0.968" stop-color="#3f5aac"/><stop offset="1.000" stop-color="#3f56aa"/></linearGradient>
<linearGradient id="g63"><stop offset="0.000" stop-color="#28a560"/><stop offset="0.032" stop-color="#29aa58"/><stop offset="0.065" stop-color="#2cad54"/><stop offset="0.097" stop-color="#2fb150"/><stop offset="0.129" stop-color="#34b34d"/><stop offset="0.161" stop-color="#41b64b"/><stop offset="0.194" stop-color="#51ba48"/><stop offset="0.226" stop-color="#63bf45"/><stop offset="0.258" stop-color="#77c443"/><stop offset="0.290" stop-color="#90cc41"/><stop offset="0.323" stop-color="#9cd040"/><stop offset="0.355" stop-color="#a7d33f"/><stop offset="0.387" stop-color="#b4d73e"/><stop offset="0.419" stop-color="#cade3d"/><stop offset="0.452" stop-color="#e7e73d"/><stop offset="0.484" stop-color="#f1ea3e"/><stop offset="0.516" stop-color="#ebe83d"/><stop offset="0.548" stop-color="#dee43c"/><stop offset="0.581" stop-color="#cbde3d"/><stop offset="0.613" stop-color="#bad93e"/><stop offset="0.645" stop-color="#a4d23f"/><stop offset="0.677" stop-color="#8ccb41"/><stop offset="0.710" stop-color="#70c344"/><stop offset="0.742" stop-color="#59bc47"/><stop offset="0.774" stop-color="#48b84a"/><stop offset="0.806" stop-color="#38b44d"/><stop offset="0.839" stop-color="#2bac55"/><stop offset="0.871" stop-color="#289973"/><stop offset="0.903" stop-color="#337ba8"/><stop offset="0.935" stop-color="#4262b3"/><stop offset="0.968" stop-color="#3f5aac"/><stop offset="1.000" stop-color="#3f56aa"/></linearGradient>
<linearGradient id="g64"><stop offset="0.000" stop-color="#28a560"/><stop offset="0.032" stop-color="#29aa58"/><stop offset="0.065" stop-color="#2cad54"/><stop offset="0.097" stop-color="#2fb150"/><stop offset="0.129" stop-color="#34b34d"/><stop offset="0.161" stop-color="#41b64b"/><stop offset="0.194" stop-color="#51ba48"/><stop offset="0.226" stop-color="#63bf45"/><stop offset="0.258" stop-color="#77c443"/><stop offset="0.290" stop-color="#90cc41"/><stop offset="0.323" stop-color="#9cd040"/><stop offset="0.355" stop-color="#a7d33f"/><stop offset="0.387" stop-color="#b4d73e"/><stop offset="0.419" stop-color="#cade3d"/><stop offset="0.452" stop-color="#e7e73d"/><stop offset="0.484" stop-color="#f1ea3e"/><stop offset="0.516" stop-color="#ebe83d"/><stop offset="0.548" stop-color="#dee43c"/><stop offset="0.581" stop-color="#cbde3d"/><stop offset="0.613" stop-color="#bad93e"/><stop offset="0.645" stop-color="#a4d23f"/><stop offset="0.677" stop-color="#8ccb41"/><stop offset="0.710" stop-color="#70c344"/><stop offset="0.742" stop-color="#59bc47"/><stop offset="0.774" stop-color="#48b84a"/><stop offset="0.806" stop-color="#38b44d"/><stop offset="0.839" stop-color="#2bac55"/><stop offset="0.871" stop-color="#289973"/><stop offset="0.903" stop-color="#337ba8"/><stop offset="0.935" stop-color="#4262b3"/><stop offset="0.968" stop-color="#3f5aac"/><stop offset="1.000" stop-color="#3f56aa"/></linearGradient>
<linearGradient id="g65"><stop offset="0.000" stop-color="#28a560"/><stop offset="0.032" stop-color="#29aa58"/><stop offset="0.065" stop-color="#2cad54"/><stop offset="0.097" stop-color="#2fb150"/><stop offset="0.129" stop-color="#34b34d"/><stop offset="0.161" stop-color="#41b64b"/><stop offset="0.194" stop-color="#51ba48"/><stop offset="0.226" stop-color="#63bf45"/><stop offset="0.258" stop-color="#77c443"/><stop offset="0.290" stop-color="#90cc41"/><stop offset="0.323" stop-color="#9cd040"/><stop offset="0.355" stop-color="#a7d33f"/><stop offset="0.387" stop-color="#b4d73e"/><stop offset="0.419" stop-color="#cade3d"/><stop offset="0.452" stop-color="#e7e73d"/><stop offset="0.484" stop-color="#f1ea3e"/><stop offset="0.516" stop-color="#ebe83d"/><stop offset="0.548" stop-color="#dee43c"/><stop offset="0.581" stop-color="#cbde3d"/><stop offset="0.613" stop-color="#bad93e"/><stop offset="0.645" stop-color="#a4d23f"/><stop offset="0.677" stop-color="#8ccb41"/><stop offset="0.710" stop-color="#70c344"/><stop offset="0.742" stop-color="#59bc47"/><stop offset="0.774" stop-color="#48b84a"/><stop offset="0.806" stop-color="#38b44d"/><stop offset="0.839" stop-color="#2bac55"/><stop offset="0.871" stop-color="#289973"/><stop offset="0.903" stop-color="#337ba8"/><stop offset="0.935" stop-color="#4262b3"/><stop offset="0.968" stop-color="#3f5aac"/><stop offset="1.000" stop-color="#3f56aa"/></linearGradient>
<linearGradient id="g66"><stop offset="0.000" stop-color="#28a560"/><stop offset="0.032" stop-color="#29aa58"/><stop offset="0.065" stop-color="#2cad54"/><stop offset="0.097" stop-color="#2fb150"/><stop offset="0.129" stop-color="#34b34d"/><stop offset="0.161" stop-color="#41b64b"/><stop offset="0.194" stop-color="#51ba48"/><stop offset="0.226" stop-color="#63bf45"/><stop offset="0.258" stop-color="#77c443"/><stop offset="0.290" stop-color="#90cc41"/><stop offset="0.323" stop-color="#9cd040"/><stop offset="0.355" stop-color="#a7d33f"/><stop offset="0.387" stop-color="#b4d73e"/><stop offset="0.419" stop-color="#cade3d"/><stop offset="0.452" stop-color="#e7e73d"/><stop offset="0.484" stop-color="#f1ea3e"/><stop offset="0.516" stop-color="#ebe83d"/><stop offset="0.548" stop-color="#dee43c"/><stop offset="0.581" stop-color="#cbde3d"/><stop offset="0.613" stop-color="#bad93e"/><stop offset="0.645" stop-color="#a4d23f"/><stop offset="0.677" stop-color="#8ccb41"/><stop offset="0.710" stop-color="#70c344"/><stop offset="0.742" stop-color="#59bc47"/><stop offset="0.774" stop-color="#48b84a"/><stop offset="0.806" stop-color="#38b44d"/><stop offset="0.839" stop-color="#2bac55"/><stop offset="0.871" stop-color="#289973"/><stop offset="0.903" stop-color="#337ba8"/><stop offset="0.935" stop-color="#4262b3"/><stop offset="0.968" stop-color="#3f5aac"/><stop offset="1.000" stop-color="#3f56aa"/></linearGradient>
<linearGradient id="g67"><stop offset="0.000" stop-color="#28a560"/><stop offset="0.032" stop-color="#29aa58"/><stop offset="0.065" stop-color="#2cad54"/><stop offset="0.097" stop-color="#2fb150"/><stop offset="0.129" stop-color="#34b34d"/><stop offset="0.161" stop-color="#41b64b"/><stop offset="0.194" stop-color="#51ba48"/><stop offset="0.226" stop-color="#63bf45"/><stop offset="0.258" stop-color="#77c443"/><stop offset="0.290" stop-color="#90cc41"/><stop offset="0.323" stop-color="#9cd040"/><stop offset="0.355" stop-color="#a7d33f"/><stop offset="0.387" stop-color="#b4d73e"/><stop offset="0.419" stop-color="#cade3d"/><stop offset="0.452" stop-color="#e7e73d"/><stop offset="0.484" stop-color="#f1ea3e"/><stop offset="0.516" stop-color="#ebe83d"/><stop offset="0.548" stop-color="#dee43c"/><stop offset="0.581" stop-color="#cbde3d"/><stop offset="0.613" stop-color="#bad93e"/><stop offset="0.645" stop-color="#a4d23f"/><stop offset="0.677" stop-color="#8ccb41"/><stop offset="0.710" stop-color="#70c344"/><stop offset="0.742" stop-color="#59bc47"/><stop offset="0.774" stop-color="#48b84a"/><stop offset="0.806" stop-color="#38b44d"/><stop offset="0.839" stop-color="#2bac55"/><stop offset="0.871" stop-color="#289973"/><stop offset="0.903" stop-color="#337ba8"/><stop offset="0.935" stop-color="#4262b3"/><stop offset="0.968" stop-color="#3f5aac"/><stop offset="1.000" stop-color="#3f56aa"/></linearGradient>
<linearGradient id="g68"><stop offset="0.000" stop-color="#28a560"/><stop offset="0.032" stop-color="#29aa58"/><stop offset="0.065" stop-color="#2cad54"/><stop offset="0.097" stop-color="#2fb150"/><stop offset="0.129" stop-color="#34b34d"/><stop offset="0.161" stop-color="#41b64b"/><stop offset="0.194" stop-color="#51ba48"/><stop offset="0.226" stop-color="#63bf45"/><stop offset="0.258" stop-color="#77c443"/><stop offset="0.290" stop-color="#90cc41"/><stop offset="0.323" stop-color="#9cd040"/><stop offset="0.355" stop-color="#a7d33f"/><stop offset="0.387" stop-color="#b4d73e"/><stop offset="0.419" stop-color="#cade3d"/><stop offset="0.452" stop-color="#e7e73d"/><stop offset="0.484" stop-color="#f1ea3e"/><stop offset="0.516" stop-color="#ebe83d"/><stop offset="0.548" stop-color="#dee43c"/><stop offset="0.581" stop-color="#cbde3d"/><stop offset="0.613" stop-color="#bad93e"/><stop offset="0.645" stop-color="#a4d23f"/><stop offset="0.677" stop-color="#8ccb41"/><stop offset="0.710" stop-color="#70c344"/><stop offset="0.742" stop-color="#59bc47"/><stop offset="0.774" stop-color="#48b84a"/><stop offset="0.806" stop-color="#38b44d"/><stop offset="0.839" stop-color="#2bac55"/><stop offset="0.871" stop-color="#289973"/><stop offset="0.903" stop-color="#337ba8"/><stop offset="0.935" stop-color="#4262b3"/><stop offset="0.968" stop-color="#3f5aac"/><stop offset="1.000" stop-color="#3f56aa"/></linearGradient>
<linearGradient id="g69"><stop offset="0.000" stop-color="#28a560"/><stop offset="0.032" stop-color="#29aa58"/><stop offset="0.065" stop-color="#2cad54"/><stop offset="0.097" stop-color="#2fb150"/><stop offset="0.129" stop-color="#34b34d"/><stop offset="0.161" stop-color="#41b64b"/><stop offset="0.194" stop-color="#51ba48"/><stop offset="0.226" stop-color="#63bf45"/><stop offset="0.258" stop-color="#77c443"/><stop offset="0.290" stop-color="#90cc41"/><stop offset="0.323" stop-color="#9cd040"/><stop offset="0.355" stop-color="#a7d33f"/><stop offset="0.387" stop-color="#b4d73e"/><stop offset="0.419" stop-color="#cade3d"/><stop offset="0.452" stop-color="#e7e73d"/><stop offset="0.484" stop-color="#f1ea3e"/><stop offset="0.516" stop-color="#ebe83d"/><stop offset="0.548" stop-color="#dee43c"/><stop offset="0.581" stop-color="#cbde3d"/><stop offset="0.613" stop-color="#bad93e"/><stop offset="0.645" stop-color="#a4d23f"/><stop offset="0.677" stop-color="#8ccb41"/><stop offset="0.710" stop-color="#70c344"/><stop offset="0.742" stop-color="#59bc47"/><stop offset="0.774" stop-color="#48b84a"/><stop offset="0.806" stop-color="#38b44d"/><stop offset="0.839" stop-color="#2bac55"/><stop offset="0.871" stop-color="#289973"/><stop offset="0.903" stop-color="#337ba8"/><stop offset="0.935" stop-color="#4262b3"/><stop offset="0.968" stop-color="#3f5aac"/><stop offset="1.000" stop-color="#3f56aa"/></linearGradient>
<linearGradient id="g70"><stop offset="0.000" stop-color="#28a560"/><stop offset="0.032" stop-color="#29aa58"/><stop offset="0.065" stop-color="#2cad54"/><stop offset="0.097" stop-color="#2fb150"/><stop offset="0.129" stop-color="#34b34d"/><stop offset="0.161" stop-color="#41b64b"/><stop offset="0.194" stop-color="#51ba48"/><stop offset="0.226" stop-color="#63bf45"/><stop offset="0.258" stop-color="#77c443"/><stop offset="0.290" stop-color="#90cc41"/><stop offset="0.323" stop-color="#9cd040"/><stop offset="0.355" stop-color="#a7d33f"/><stop offset="0.387" stop-color="#b4d73e"/><stop offset="0.419" stop-color="#cade3d"/><stop offset="0.452" stop-color="#e7e73d"/><stop offset="0.484" stop-color="#f1ea3e"/><stop offset="0.516" stop-color="#ebe83d"/><stop offset="0.548" stop-color="#dee43c"/><stop offset="0.581" stop-color="#cbde3d"/><stop offset="0.613" stop-color="#bad93e"/><stop offset="0.645" stop-color="#a4d23f"/><stop offset="0.677" stop-color="#8ccb41"/><stop offset="0.710" stop-color="#70c344"/><stop offset="0.742" stop-color="#59bc47"/><stop offset="0.774" stop-color="#48b84a"/><stop offset="0.806" stop-color="#38b44d"/><stop offset="0.839" stop-color="#2bac55"/><stop offset="0.871" stop-color="#289973"/><stop offset="0.903" stop-color="#337ba8"/><stop offset="0.935" stop-color="#4262b3"/><stop offset="0.968" stop-color="#3f5aac"/><stop offset="1.000" stop-color="#3f56aa"/></linearGradient>
<linearGradient id="g71"><stop offset="0.000" stop-color="#28a560"/><stop offset="0.032" stop-color="#29aa58"/><stop offset="0.065" stop-color="#2cad54"/><stop offset="0.097" stop-color="#2fb150"/><stop offset="0.129" stop-color="#34b34d"/><stop offset="0.161" stop-color="#41b64b"/><stop offset="0.194" stop-color="#51ba48"/><stop offset="0.226" stop-color="#63bf45"/><stop offset="0.258" stop-color="#77c443"/><stop offset="0.290" stop-color="#90cc41"/><stop offset="0.323" stop-color="#9cd040"/><stop offset="0.355" stop-color="#a7d33f"/><stop offset="0.387" stop-color="#b4d73e"/><stop offset="0.419" stop-color="#cade3d"/><stop offset="0.452" stop-color="#e7e73d"/><stop offset="0.484" stop-color="#f1ea3e"/><stop offset="0.516" stop-color="#ebe83d"/><stop offset="0.548" stop-color="#dee43c"/><stop offset="0.581" stop-color="#cbde3d"/><stop offset="0.613" stop-color="#bad93e"/><stop offset="0.645" stop-color="#a4d23f"/><stop offset="0.677" stop-color="#8ccb41"/><stop offset="0.710" stop-color="#70c344"/><stop offset="0.742" stop-color="#59bc47"/><stop offset="0.774" stop-color="#48b84a"/><stop offset="0.806" stop-color="#38b44d"/><stop offset="0.839" stop-color="#2bac55"/><stop offset="0.871" stop-color="#289973"/><stop offset="0.903" stop-color="#337ba8"/><stop offset="0.935" stop-color="#4262b3"/><stop offset="0.968" stop-color="#3f5aac"/><stop offset="1.000" stop-color="#3f56aa"/></linearGradient>
<linearGradient id="g72"><stop offset="0.000" stop-color="#28a560"/><stop offset="0.032" stop-color="#29aa58"/><stop offset="0.065" stop-color="#2cad54"/><stop offset="0.097" stop-color="#2fb150"/><stop offset="0.129" stop-color="#34b34d"/><stop offset="0.161" stop-color="#41b64b"/><stop offset="0.194" stop-color="#51ba48"/><stop offset="0.226" stop-color="#63bf45"/><stop offset="0.258" stop-color="#77c443"/><stop offset="0.290" stop-color="#90cc41"/><stop offset="0.323" stop-color="#9cd040"/><stop offset="0.355" stop-color="#a7d33f"/><stop offset="0.387" stop-color="#b4d73e"/><stop offset="0.419" stop-color="#cade3d"/><stop offset="0.452" stop-color="#e7e73d"/><stop offset="0.484" stop-color="#f1ea3e"/><stop offset="0.516" stop-color="#ebe83d"/><stop offset="0.548" stop-color="#dee43c"/><stop offset="0.581" stop-color="#cbde3d"/><stop offset="0.613" stop-color="#bad93e"/><stop offset="0.645" stop-color="#a4d23f"/><stop offset="0.677" stop-color="#8ccb41"/><stop offset="0.710" stop-color="#70c344"/><stop offset="0.742" stop-color="#59bc47"/><stop offset="0.774" stop-color="#48b84a"/><stop offset="0.806" stop-color="#38b44d"/><stop offset="0.839" stop-color="#2bac55"/><stop offset="0.871" stop-color="#289973"/><stop offset="0.903" stop-color="#337ba8"/><stop offset="0.935" stop-color="#4262b3"/><stop offset="0.968" stop-color="#3f5aac"/><stop offset="1.000" stop-color="#3f56aa"/></linearGradient>
<linearGradient id="g73"><stop offset="0.000" stop-color="#28a560"/><stop offset="0.032" stop-color="#29aa58"/><stop offset="0.065" stop-color="#2cad54"/><stop offset="0.097" stop-color="#2fb150"/><stop offset="0.129" stop-color="#34b34d"/><stop offset="0.161" stop-color="#41b64b"/><stop offset="0.194" stop-color="#51ba48"/><stop offset="0.226" stop-color="#63bf45"/><stop offset="0.258" stop-color="#77c443"/><stop offset="0.290" stop-color="#90cc41"/><stop offset="0.323" stop-color="#9cd040"/><stop offset="0.355" stop-color="#a7d33f"/><stop offset="0.387" stop-color="#b4d73e"/><stop offset="0.419" stop-color="#cade3d"/><stop offset="0.452" stop-color="#e7e73d"/><stop offset="0.484" stop-color="#f1ea3e"/><stop offset="0.516" stop-color="#ebe83d"/><stop offset="0.548" stop-color="#dee43c"/><stop offset="0.581" stop-color="#cbde3d"/><stop offset="0.613" stop-color="#bad93e"/><stop offset="0.645" stop-color="#a4d23f"/><stop offset="0.677" stop-color="#8ccb41"/><stop offset="0.710" stop-color="#70c344"/><stop offset="0.742" stop-color="#59bc47"/><stop offset="0.774" stop-color="#48b84a"/><stop offset="0.806" stop-color="#38b44d"/><stop offset="0.839" stop-color="#2bac55"/><stop offset="0.871" stop-color="#289973"/><stop offset="0.903" stop-color="#337ba8"/><stop offset="0.935" stop-color="#4262b3"/><stop offset="0.968" stop-color="#3f5aac"/><stop offset="1.000" stop-color="#3f56aa"/></linearGradient>
<linearGradient id="g74"><stop offset="0.000" stop-color="#28a560"/><stop offset="0.032" stop-color="#28a560"/><stop offset="0.065" stop-color="#28a560"/><stop offset="0.097" stop-color="#29aa58"/><stop offset="0.129" stop-color="#2cad54"/><stop offset="0.161" stop-color="#2fb150"/><stop offset="0.194" stop-color="#34b34d"/><stop offset="0.226" stop-color="#41b64b"/><stop offset="0.258" stop-color="#50ba48"/><stop offset="0.290" stop-color="#63bf45"/><stop offset="0.323" stop-color="#77c443"/><stop offset="0.355" stop-color="#90cc41"/><stop offset="0.387" stop-color="#9cd040"/><stop offset="0.419" stop-color="#a7d33f"/><stop offset="0.452" stop-color="#b4d73e"/><stop offset="0.484" stop-color="#cade3d"/><stop offset="0.516" stop-color="#e7e73d"/><stop offset="0.548" stop-color="#f1ea3e"/><stop offset="0.581" stop-color="#ebe83d"/><stop offset="0.613" stop-color="#dee43c"/><stop offset="0.645" stop-color="#cbde3d"/><stop offset="0.677" stop-color="#bad93e"/><stop offset="0.710" stop-color="#a4d23f"/><stop offset="0.742" stop-color="#8ccb41"/><stop offset="0.774" stop-color="#70c344"/><stop offset="0.806" stop-color="#59bc47"/><stop offset="0.839" stop-color="#48b84a"/><stop offset="0.871" stop-color="#38b44d"/><stop offset="0.903" stop-color="#2cac55"/><stop offset="0.935" stop-color="#289a73"/><stop offset="0.968" stop-color="#337ba8"/><stop offset="1.000" stop-color="#4262b3"/></linearGradient>
<linearGradient id="g75"><stop offset="0.000" stop-color="#28a560"/><stop offset="0.032" stop-color="#28a560"/><stop offset="0.065" stop-color="#28a560"/><stop offset="0.097" stop-color="#29aa58"/><stop offset="0.129" stop-color="#2cad54"/><stop offset="0.161" stop-color="#2fb150"/><stop offset="0.194" stop-color="#34b34d"/><stop offset="0.226" stop-color="#41b64b"/><stop offset="0.258" stop-color="#50ba48"/><stop offset="0.290" stop-color="#63bf45"/><stop offset="0.323" stop-color="#77c443"/><stop offset="0.355" stop-color="#90cc41"/><stop offset="0.387" stop-color="#9cd040"/><stop offset="0.419" stop-color="#a7d33f"/><stop offset="0.452" stop-color="#b4d73e"/><stop offset="0.484" stop-color="#cade3d"/><stop offset="0.516" stop-color="#e7e73d"/><stop offset="0.548" stop-color="#f1ea3e"/><stop offset="0.581" stop-color="#ebe83d"/><stop offset="0.613" stop-color="#dee43c"/><stop offset="0.645" stop-color="#cbde3d"/><stop offset="0.677" stop-color="#bad93e"/><stop offset="0.710" stop-color="#a4d23f"/><stop offset="0.742" stop-color="#8ccb41"/><stop offset="0.774" stop-color="#70c344"/><stop offset="0.806" stop-color="#59bc47"/><stop offset="0.839" stop-color="#48b84a"/><stop offset="0.871" stop-color="#38b44d"/><stop offset="0.903" stop-color="#2cac55"/><stop offset="0.935" stop-color="#289a73"/><stop offset="0.968" stop-color="#337ba8"/><stop offset="1.000" stop-color="#4262b3"/></linearGradient>
<linearGradient id="g76"><stop offset="0.000" stop-color="#28a560"/><stop offset="0.032" stop-color="#28a560"/><stop offset="0.065" stop-color="#28a560"/><stop offset="0.097" stop-color="#29aa58"/><stop offset="0.129" stop-color="#2cad54"/><stop offset="0.161" stop-color="#2fb150"/><stop offset="0.194" stop-color="#34b34d"/><stop offset="0.226" stop-color="#41b64b"/><stop offset="0.258" stop-color="#50ba48"/><stop offset="0.290" stop-color="#63bf45"/><stop offset="0.323" stop-color="#77c443"/><stop offset="0.355" stop-color="#90cc41"/><stop offset="0.387" stop-color="#9cd040"/><stop offset="0.419" stop-color="#a7d33f"/><stop offset="0.452" stop-color="#b4d73e"/><stop offset="0.484" stop-color="#cade3d"/><stop offset="0.516" stop-color="#e7e73d"/><stop offset="0.548" stop-color="#f1ea3e"/><stop offset="0.581" stop-color="#ebe83d"/><stop offset="0.613" stop-color="#dee43c"/><stop offset="0.645" stop-color="#cbde3d"/><stop offset="0.677" stop-color="#bad93e"/><stop offset="0.710" stop-color="#a4d23f"/><stop offset="0.742" stop-color="#8ccb41"/><stop offset="0.774" stop-color="#70c344"/><stop offset="0.806" stop-color="#59bc47"/><stop offset="0.839" stop-color="#48b84a"/><stop offset="0.871" stop-color="#38b44d"/><stop offset="0.903" stop-color="#2cac55"/><stop offset="0.935" stop-color="#289a73"/><stop offset="0.968" stop-color="#337ba8"/><stop offset="1.000" stop-color="#4262b3"/></linearGradient>
<linearGradient id="g77"><stop offset="0.000" stop-color="#28a560"/><stop offset="0.032" stop-color="#28a560"/><stop offset="0.065" stop-color="#28a560"/><stop offset="0.097" stop-color="#29aa58"/><stop offset="0.129" stop-color="#2cad54"/><stop offset="0.161" stop-color="#2fb150"/><stop offset="0.194" stop-color="#34b34d"/><stop offset="0.226" stop-color="#41b64b"/><stop offset="0.258" stop-color="#50ba48"/><stop offset="0.290" stop-color="#63bf45"/><stop offset="0.323" stop-color="#77c443"/><stop offset="0.355" stop-color="#90cc41"/><stop offset="0.387" stop-color="#9cd040"/><stop offset="0.419" stop-color="#a7d33f"/><stop offset="0.452" stop-color="#b4d73e"/><stop offset="0.484" stop-color="#cade3d"/><stop offset="0.516" stop-color="#e7e73d"/><stop offset="0.548" stop-color="#f1ea3e"/><stop offset="0.581" stop-color="#ebe83d"/><stop offset="0.613" stop-color="#dee43c"/><stop offset="0.645" stop-color="#cbde3d"/><stop offset="0.677" stop-color="#bad93e"/><stop offset="0.710" stop-color="#a4d23f"/><stop offset="0.742" stop-color="#8ccb41"/><stop offset="0.774" stop-color="#70c344"/><stop offset="0.806" stop-color="#59bc47"/><stop offset="0.839" stop-color="#48b84a"/><stop offset="0.871" stop-color="#38b44d"/><stop offset="0.903" stop-color="#2cac55"/><stop offset="0.935" stop-color="#289a73"/><stop offset="0.968" stop-color="#337ba8"/><stop offset="1.000" stop-color="#4262b3"/></linearGradient>
<linearGradient id="g78"><stop offset="0.000" stop-color="#3e56a9"/><stop offset="0.031" stop-color="#3f58ab"/><stop offset="0.062" stop-color="#405cae"/><stop offset="0.094" stop-color="#4264b4"/><stop offset="0.125" stop-color="#3d6bb1"/><stop offset="0.156" stop-color="#327ca6"/><stop offset="0.188" stop-color="#289b70"/><stop offset="0.219" stop-color="#2dae53"/><stop offset="0.250" stop-color="#39b44c"/><stop offset="0.281" stop-color="#4db948"/><stop offset="0.312" stop-color="#6bc144"/><stop offset="0.344" stop-color="#92cd40"/><stop offset="0.375" stop-color="#b4d73e"/><stop offset="0.406" stop-color="#c4dc3d"/><stop offset="0.438" stop-color="#9ed03f"/><stop offset="0.469" stop-color="#6cc144"/><stop offset="0.500" stop-color="#4db949"/><stop offset="0.531" stop-color="#44b74a"/><stop offset="0.562" stop-color="#3eb64b"/><stop offset="0.594" stop-color="#33b34e"/><stop offset="0.625" stop-color="#2eb050"/><stop offset="0.656" stop-color="#2eb051"/><stop offset="0.688" stop-color="#2fb050"/><stop offset="0.719" stop-color="#2fb14f"/><stop offset="0.750" stop-color="#30b24e"/><stop offset="0.781" stop-color="#33b34d"/><stop offset="0.812" stop-color="#37b44d"/><stop offset="0.844" stop-color="#3bb54c"/><stop offset="0.875" stop-color="#3fb64b"/><stop offset="0.906" stop-color="#47b84a"/><stop offset="0.938" stop-color="#4db949"/><stop offset="0.969" stop-color="#53bb48"/><stop offset="1.000" stop-color="#5abd47"/></linearGradient>
<linearGradient id="g79"><stop offset="0.000" stop-color="#3e56a9"/><stop offset="0.031" stop-color="#3f57ab"/><stop offset="0.062" stop-color="#3f59ac"/><stop offset="0.094" stop-color="#4160b1"/><stop offset="0.125" stop-color="#4066b3"/><stop offset="0.156" stop-color="#3a6fb0"/><stop offset="0.188" stop-color="#2b8c8b"/><stop offset="0.219" stop-color="#2bac55"/><stop offset="0.250" stop-color="#39b44c"/><stop offset="0.281" stop-color="#4db948"/><stop offset="0.312" stop-color="#6ac145"/><stop offset="0.344" stop-color="#8bca41"/><stop offset="0.375" stop-color="#b4d73e"/><stop offset="0.406" stop-color="#c4dc3d"/><stop offset="0.438" stop-color="#9ed03f"/><stop offset="0.469" stop-color="#6cc244"/><stop offset="0.500" stop-color="#4eba48"/><stop offset="0.531" stop-color="#47b84a"/><stop offset="0.562" stop-color="#41b64b"/><stop offset="0.594" stop-color="#34b34d"/><stop offset="0.625" stop-color="#2fb050"/><stop offset="0.656" stop-color="#2eb051"/><stop offset="0.688" stop-color="#2fb050"/><stop offset="0.719" stop-color="#2fb14f"/><stop offset="0.750" stop-color="#30b24e"/><stop offset="0.781" stop-color="#33b34d"/><stop offset="0.812" stop-color="#37b44d"/><stop offset="0.844" stop-color="#3bb54c"/><stop offset="0.875" stop-color="#3fb64b"/><stop offset="0.906" stop-color="#46b74a"/><stop offset="0.938" stop-color="#4bb949"/><stop offset="0.969" stop-color="#4fba48"/><stop offset="1.000" stop-color="#56bc47"/></linearGradient>
<linearGradient id="g80"><stop offset="0.000" stop-color="#3e56a9"/><stop offset="0.031" stop-color="#3f56aa"/><stop offset="0.062" stop-color="#3d53a7"/><stop offset="0.094" stop-color="#405bad"/><stop offset="0.125" stop-color="#4264b4"/><stop offset="0.156" stop-color="#3d6bb1"/><stop offset="0.188" stop-color="#2f829c"/><stop offset="0.219" stop-color="#2aab56"/><stop offset="0.250" stop-color="#39b44c"/><stop offset="0.281" stop-color="#4db948"/><stop offset="0.312" stop-color="#68c045"/><stop offset="0.344" stop-color="#7cc642"/><stop offset="0.375" stop-color="#b4d73e"/><stop offset="0.406" stop-color="#c6dd3d"/><stop offset="0.438" stop-color="#9fd13f"/><stop offset="0.469" stop-color="#6cc244"/><stop offset="0.500" stop-color="#4db949"/><stop offset="0.531" stop-color="#3db54c"/><stop offset="0.562" stop-color="#35b34d"/><stop offset="0.594" stop-color="#32b24e"/><stop offset="0.625" stop-color="#2eb050"/><stop offset="0.656" stop-color="#2eb051"/><stop offset="0.688" stop-color="#2fb050"/><stop offset="0.719" stop-color="#2fb14f"/><stop offset="0.750" stop-color="#30b24e"/><stop offset="0.781" stop-color="#33b34d"/><stop offset="0.812" stop-color="#37b44d"/><stop offset="0.844" stop-color="#3bb54c"/><stop offset="0.875" stop-color="#3fb64b"/><stop offset="0.906" stop-color="#46b74a"/><stop offset="0.938" stop-color="#4ab949"/><stop offset="0.969" stop-color="#4eb948"/><stop offset="1.000" stop-color="#55bb47"/></linearGradient>
<linearGradient id="g81"><stop offset="0.000" stop-color="#3e56a9"/><stop offset="0.031" stop-color="#3e56a9"/><stop offset="0.062" stop-color="#3d51a6"/><stop offset="0.094" stop-color="#405bad"/><stop offset="0.125" stop-color="#4166b3"/><stop offset="0.156" stop-color="#3b6fb0"/><stop offset="0.188" stop-color="#2e8596"/><stop offset="0.219" stop-color="#2bab56"/><stop offset="0.250" stop-color="#39b44c"/><stop offset="0.281" stop-color="#4db948"/><stop offset="0.312" stop-color="#6bc144"/><stop offset="0.344" stop-color="#91cc40"/><stop offset="0.375" stop-color="#beda3d"/><stop offset="0.406" stop-color="#cbde3d"/><stop offset="0.438" stop-color="#a1d13f"/><stop offset="0.469" stop-color="#6cc244"/><stop offset="0.500" stop-color="#4ab949"/><stop offset="0.531" stop-color="#36b44d"/><stop offset="0.562" stop-color="#2fb14f"/><stop offset="0.594" stop-color="#30b24e"/><stop offset="0.625" stop-color="#2eb050"/><stop offset="0.656" stop-color="#2eb051"/><stop offset="0.688" stop-color="#2fb050"/><stop offset="0.719" stop-color="#2fb14f"/><stop offset="0.750" stop-color="#30b24e"/><stop offset="0.781" stop-color="#33b34d"/><stop offset="0.812" stop-color="#37b44d"/><stop offset="0.844" stop-color="#3bb54c"/><stop offset="0.875" stop-color="#3fb64b"/><stop offset="0.906" stop-color="#46b84a"/><stop offset="0.938" stop-color="#4cb949"/><stop offset="0.969" stop-color="#50ba48"/><stop offset="1.000" stop-color="#58bc47"/></linearGradient>
<linearGradient id="g82"><stop offset="0.000" stop-color="#3e56a9"/><stop offset="0.031" stop-color="#3f57aa"/><stop offset="0.062" stop-color="#3f58ab"/><stop offset="0.094" stop-color="#4162b2"/><stop offset="0.125" stop-color="#3a70af"/><stop offset="0.156" stop-color="#2f829b"/><stop offset="0.188" stop-color="#289974"/><stop offset="0.219" stop-color="#2cad54"/><stop offset="0.250" stop-color="#38b44c"/><stop offset="0.281" stop-color="#4db949"/><stop offset="0.312" stop-color="#6cc144"/><stop offset="0.344" stop-color="#9fd13f"/><stop offset="0.375" stop-color="#c9de3d"/><stop offset="0.406" stop-color="#d2e03d"/><stop offset="0.438" stop-color="#a3d23f"/><stop offset="0.469" stop-color="#6dc244"/><stop offset="0.500" stop-color="#4ab849"/><stop offset="0.531" stop-color="#38b44c"/><stop offset="0.562" stop-color="#32b34e"/><stop offset="0.594" stop-color="#30b24f"/><stop offset="0.625" stop-color="#2eb051"/><stop offset="0.656" stop-color="#2eaf51"/><stop offset="0.688" stop-color="#2fb050"/><stop offset="0.719" stop-color="#2fb14f"/><stop offset="0.750" stop-color="#30b24e"/><stop offset="0.781" stop-color="#33b34d"/><stop offset="0.812" stop-color="#37b44d"/><stop offset="0.844" stop-color="#3bb54c"/><stop offset="0.875" stop-color="#3fb64b"/><stop offset="0.906" stop-color="#47b84a"/><stop offset="0.938" stop-color="#4eba48"/><stop offset="0.969" stop-color="#55bb47"/><stop offset="1.000" stop-color="#5cbd46"/></linearGradient>
<linearGradient id="g83"><stop offset="0.000" stop-color="#3e56a9"/><stop offset="0.031" stop-color="#3f58ab"/><stop offset="0.062" stop-color="#405daf"/><stop offset="0.094" stop-color="#3e69b2"/><stop offset="0.125" stop-color="#337aa8"/><stop offset="0.156" stop-color="#289a73"/><stop offset="0.188" stop-color="#2aaa57"/><stop offset="0.219" stop-color="#2daf52"/><stop offset="0.250" stop-color="#38b44c"/><stop offset="0.281" stop-color="#4ab949"/><stop offset="0.312" stop-color="#65c045"/><stop offset="0.344" stop-color="#9bcf40"/><stop offset="0.375" stop-color="#cddf3d"/><stop offset="0.406" stop-color="#d8e23c"/><stop offset="0.438" stop-color="#a6d33f"/><stop offset="0.469" stop-color="#6dc244"/><stop offset="0.500" stop-color="#4ab849"/><stop offset="0.531" stop-color="#39b44c"/><stop offset="0.562" stop-color="#33b34d"/><stop offset="0.594" stop-color="#2fb150"/><stop offset="0.625" stop-color="#2dae52"/><stop offset="0.656" stop-color="#2eaf51"/><stop offset="0.688" stop-color="#2fb050"/><stop offset="0.719" stop-color="#2fb14f"/><stop offset="0.750" stop-color="#30b24e"/><stop offset="0.781" stop-color="#33b34d"/><stop offset="0.812" stop-color="#37b44d"/><stop offset="0.844" stop-color="#3bb54c"/><stop offset="0.875" stop-color="#3fb64b"/><stop offset="0.906" stop-color="#47b84a"/><stop offset="0.938" stop-color="#4fba48"/><stop offset="0.969" stop-color="#58bc47"/><stop offset="1.000" stop-color="#5ebe46"/></linearGradient>
<linearGradient id="g84"><stop offset="0.000" stop-color="#3e56a9"/><stop offset="0.031" stop-color="#3f58ab"/><stop offset="0.062" stop-color="#415eb0"/><stop offset="0.094" stop-color="#3c6cb1"/><stop offset="0.125" stop-color="#30809f"/><stop offset="0.156" stop-color="#289b71"/><stop offset="0.188" stop-color="#2bab56"/><stop offset="0.219" stop-color="#2fb050"/><stop offset="0.250" stop-color="#39b44c"/><stop offset="0.281" stop-color="#49b849"/><stop offset="0.312" stop-color="#5fbe46"/><stop offset="0.344" stop-color="#91cc40"/><stop offset="0.375" stop-color="#c9de3d"/><stop offset="0.406" stop-color="#d9e23c"/><stop offset="0.438" stop-color="#a8d33f"/><stop offset="0.469" stop-color="#6ec244"/><stop offset="0.500" stop-color="#4ab849"/><stop offset="0.531" stop-color="#39b44c"/><stop offset="0.562" stop-color="#33b34e"/><stop offset="0.594" stop-color="#2eb051"/><stop offset="0.625" stop-color="#2cad54"/><stop offset="0.656" stop-color="#2daf52"/><stop offset="0.688" stop-color="#2fb050"/><stop offset="0.719" stop-color="#2fb14f"/><stop offset="0.750" stop-color="#30b24e"/><stop offset="0.781" stop-color="#33b34d"/><stop offset="0.812" stop-color="#37b44d"/><stop offset="0.844" stop-color="#3bb54c"/><stop offset="0.875" stop-color="#3fb64b"/><stop offset="0.906" stop-color="#47b84a"/><stop offset="0.938" stop-color="#50ba48"/><stop offset="0.969" stop-color="#59bc47"/><stop offset="1.000" stop-color="#5fbe46"/></linearGradient>
<linearGradient id="g85"><stop offset="0.000" stop-color="#3e56a9"/><stop offset="0.031" stop-color="#3f58ab"/><stop offset="0.062" stop-color="#405eaf"/><stop offset="0.094" stop-color="#3e6ab2"/><stop offset="0.125" stop-color="#3576ad"/><stop offset="0.156" stop-color="#2a8d88"/><stop offset="0.188" stop-color="#29a959"/><stop offset="0.219" stop-color="#30b24f"/><stop offset="0.250" stop-color="#3bb54c"/><stop offset="0.281" stop-color="#4bb949"/><stop offset="0.312" stop-color="#64bf45"/><stop offset="0.344" stop-color="#95cd40"/><stop offset="0.375" stop-color="#c8dd3d"/><stop offset="0.406" stop-color="#dae33c"/><stop offset="0.438" stop-color="#abd43e"/><stop offset="0.469" stop-color="#6fc244"/><stop offset="0.500" stop-color="#4ab949"/><stop offset="0.531" stop-color="#39b44c"/><stop offset="0.562" stop-color="#33b34d"/><stop offset="0.594" stop-color="#2fb050"/><stop offset="0.625" stop-color="#2dae53"/><stop offset="0.656" stop-color="#2eaf52"/><stop offset="0.688" stop-color="#2fb050"/><stop offset="0.719" stop-color="#2fb14f"/><stop offset="0.750" stop-color="#30b24e"/><stop offset="0.781" stop-color="#33b34d"/><stop offset="0.812" stop-color="#37b44d"/><stop offset="0.844" stop-color="#3bb54c"/><stop offset="0.875" stop-color="#3fb64b"/><stop offset="0.906" stop-color="#47b84a"/><stop offset="0.938" stop-color="#50ba48"/><stop offset="0.969" stop-color="#59bc47"/><stop offset="1.000" stop-color="#5fbe46"/></linearGradient>
<linearGradient id="g86"><stop offset="0.000" stop-color="#3e56a9"/><stop offset="0.031" stop-color="#3f58ab"/><stop offset="0.062" stop-color="#405bae"/><stop offset="0.094" stop-color="#4264b4"/><stop offset="0.125" stop-color="#3a6fb0"/><stop offset="0.156" stop-color="#317da3"/><stop offset="0.188" stop-color="#28a068"/><stop offset="0.219" stop-color="#30b24e"/><stop offset="0.250" stop-color="#3db54b"/><stop offset="0.281" stop-color="#50ba48"/><stop offset="0.312" stop-color="#72c343"/><stop offset="0.344" stop-color="#a7d33f"/><stop offset="0.375" stop-color="#d1e03d"/><stop offset="0.406" stop-color="#e0e43c"/><stop offset="0.438" stop-color="#b0d63e"/><stop offset="0.469" stop-color="#72c344"/><stop offset="0.500" stop-color="#4bb949"/><stop offset="0.531" stop-color="#39b44c"/><stop offset="0.562" stop-color="#33b34d"/><stop offset="0.594" stop-color="#2fb14f"/><stop offset="0.625" stop-color="#2eaf51"/><stop offset="0.656" stop-color="#2eaf51"/><stop offset="0.688" stop-color="#2eb050"/><stop offset="0.719" stop-color="#2fb150"/><stop offset="0.750" stop-color="#30b14f"/><stop offset="0.781" stop-color="#33b34e"/><stop offset="0.812" stop-color="#37b44d"/><stop offset="0.844" stop-color="#3bb54c"/><stop offset="0.875" stop-color="#3fb64b"/><stop offset="0.906" stop-color="#47b84a"/><stop offset="0.938" stop-color="#50ba48"/><stop offset="0.969" stop-color="#59bc47"/><stop offset="1.000" stop-color="#5fbe46"/></linearGradient>
<linearGradient id="g87"><stop offset="0.000" stop-color="#3e56a9"/><stop offset="0.031" stop-color="#3f58ab"/><stop offset="0.062" stop-color="#3f5aac"/><stop offset="0.094" stop-color="#4161b1"/><stop offset="0.125" stop-color="#3c6cb1"/><stop offset="0.156" stop-color="#3675ad"/><stop offset="0.188" stop-color="#289182"/><stop offset="0.219" stop-color="#2fb150"/><stop offset="0.250" stop-color="#3eb54b"/><stop offset="0.281" stop-color="#54bb47"/><stop offset="0.312" stop-color="#7bc642"/><stop offset="0.344" stop-color="#b4d73e"/><stop offset="0.375" stop-color="#dce33c"/><stop offset="0.406" stop-color="#e5e63d"/><stop offset="0.438" stop-color="#b9d93e"/><stop offset="0.469" stop-color="#75c443"/><stop offset="0.500" stop-color="#4cb949"/><stop offset="0.531" stop-color="#39b44c"/><stop offset="0.562" stop-color="#33b34d"/><stop offset="0.594" stop-color="#30b24e"/><stop offset="0.625" stop-color="#2eb051"/><stop offset="0.656" stop-color="#2eaf51"/><stop offset="0.688" stop-color="#2eb051"/><stop offset="0.719" stop-color="#2eb051"/><stop offset="0.750" stop-color="#2fb150"/><stop offset="0.781" stop-color="#31b24e"/><stop offset="0.812" stop-color="#37b44d"/><stop offset="0.844" stop-color="#3bb54c"/><stop offset="0.875" stop-color="#3fb64b"/><stop offset="0.906" stop-color="#47b84a"/><stop offset="0.938" stop-color="#50ba48"/><stop offset="0.969" stop-color="#59bc47"/><stop offset="1.000" stop-color="#5fbe46"/></linearGradient>
<linearGradient id="g88"><stop offset="0.000" stop-color="#3f56aa"/><stop offset="0.031" stop-color="#3f59ab"/><stop offset="0.062" stop-color="#3f5aac"/><stop offset="0.094" stop-color="#4161b1"/><stop offset="0.125" stop-color="#3a6fb0"/><stop offset="0.156" stop-color="#3675ad"/><stop offset="0.188" stop-color="#2c898f"/><stop offset="0.219" stop-color="#2dae53"/><stop offset="0.250" stop-color="#3cb54c"/><stop offset="0.281" stop-color="#53bb48"/><stop offset="0.312" stop-color="#79c542"/><stop offset="0.344" stop-color="#b3d73e"/><stop offset="0.375" stop-color="#e1e53c"/><stop offset="0.406" stop-color="#ede93e"/><stop offset="0.438" stop-color="#c6dd3d"/><stop offset="0.469" stop-color="#7bc542"/><stop offset="0.500" stop-color="#4eb948"/><stop offset="0.531" stop-color="#3ab44c"/><stop offset="0.562" stop-color="#33b34d"/><stop offset="0.594" stop-color="#2fb14f"/><stop offset="0.625" stop-color="#2eb051"/><stop offset="0.656" stop-color="#2eaf52"/><stop offset="0.688" stop-color="#2dae52"/><stop offset="0.719" stop-color="#2cae53"/><stop offset="0.750" stop-color="#2daf52"/><stop offset="0.781" stop-color="#30b24e"/><stop offset="0.812" stop-color="#36b44d"/><stop offset="0.844" stop-color="#3bb54c"/><stop offset="0.875" stop-color="#40b64b"/><stop offset="0.906" stop-color="#48b84a"/><stop offset="0.938" stop-color="#50ba48"/><stop offset="0.969" stop-color="#59bc47"/><stop offset="1.000" stop-color="#5fbe46"/></linearGradient>
<linearGradient id="g89"><stop offset="0.000" stop-color="#3f57aa"/><stop offset="0.031" stop-color="#405bad"/><stop offset="0.062" stop-color="#405cae"/><stop offset="0.094" stop-color="#4262b3"/><stop offset="0.125" stop-color="#3a70af"/><stop offset="0.156" stop-color="#3577ac"/><stop offset="0.188" stop-color="#298f86"/><stop offset="0.219" stop-color="#2cad54"/><stop offset="0.250" stop-color="#3bb54c"/><stop offset="0.281" stop-color="#51ba48"/><stop offset="0.312" stop-color="#73c343"/><stop offset="0.344" stop-color="#add53e"/><stop offset="0.375" stop-color="#e5e63d"/><stop offset="0.406" stop-color="#f2ea3e"/><stop offset="0.438" stop-color="#d7e23c"/><stop offset="0.469" stop-color="#84c841"/><stop offset="0.500" stop-color="#51ba48"/><stop offset="0.531" stop-color="#3bb54c"/><stop offset="0.562" stop-color="#32b34e"/><stop offset="0.594" stop-color="#2eaf51"/><stop offset="0.625" stop-color="#2eaf51"/><stop offset="0.656" stop-color="#2daf52"/><stop offset="0.688" stop-color="#2cad54"/><stop offset="0.719" stop-color="#2aab56"/><stop offset="0.750" stop-color="#2bac55"/><stop offset="0.781" stop-color="#2fb050"/><stop offset="0.812" stop-color="#35b34d"/><stop offset="0.844" stop-color="#3bb54c"/><stop offset="0.875" stop-color="#40b64b"/><stop offset="0.906" stop-color="#48b84a"/><stop offset="0.938" stop-color="#50ba48"/><stop offset="0.969" stop-color="#59bc47"/><stop offset="1.000" stop-color="#5fbe46"/></linearGradient>
<linearGradient id="g90"><stop offset="0.000" stop-color="#3f57aa"/><stop offset="0.031" stop-color="#405bad"/><stop offset="0.062" stop-color="#405eaf"/><stop offset="0.094" stop-color="#4265b4"/><stop offset="0.125" stop-color="#3b6eb0"/><stop offset="0.156" stop-color="#317fa0"/><stop offset="0.188" stop-color="#289c6f"/><stop offset="0.219" stop-color="#2dae53"/><stop offset="0.250" stop-color="#3bb54c"/><stop offset="0.281" stop-color="#51ba48"/><stop offset="0.312" stop-color="#73c343"/><stop offset="0.344" stop-color="#b3d73e"/><stop offset="0.375" stop-color="#ede93e"/><stop offset="0.406" stop-color="#f2ea3e"/><stop offset="0.438" stop-color="#e2e53c"/><stop offset="0.469" stop-color="#8fcc41"/><stop offset="0.500" stop-color="#54bb47"/><stop offset="0.531" stop-color="#3bb54c"/><stop offset="0.562" stop-color="#33b34d"/><stop offset="0.594" stop-color="#2fb14f"/><stop offset="0.625" stop-color="#2eb051"/><stop offset="0.656" stop-color="#2dae52"/><stop offset="0.688" stop-color="#2bac55"/><stop offset="0.719" stop-color="#29aa58"/><stop offset="0.750" stop-color="#2aab57"/><stop offset="0.781" stop-color="#2eb051"/><stop offset="0.812" stop-color="#35b34d"/><stop offset="0.844" stop-color="#3cb54c"/><stop offset="0.875" stop-color="#41b64b"/><stop offset="0.906" stop-color="#48b849"/><stop offset="0.938" stop-color="#50ba48"/><stop offset="0.969" stop-color="#59bc47"/><stop offset="1.000" stop-color="#5fbe46"/></linearGradient>
<linearGradient id="g91"><stop offset="0.000" stop-color="#3f56aa"/><stop offset="0.031" stop-color="#3f59ac"/><stop offset="0.062" stop-color="#405eaf"/><stop offset="0.094" stop-color="#4166b3"/><stop offset="0.125" stop-color="#3972af"/><stop offset="0.156" stop-color="#2c8892"/><stop offset="0.188" stop-color="#28a55f"/><stop offset="0.219" stop-color="#2eaf52"/><stop offset="0.250" stop-color="#3bb54c"/><stop offset="0.281" stop-color="#52ba48"/><stop offset="0.312" stop-color="#76c443"/><stop offset="0.344" stop-color="#bdda3d"/><stop offset="0.375" stop-color="#f2ea3e"/><stop offset="0.406" stop-color="#f2ea3e"/><stop offset="0.438" stop-color="#e5e63d"/><stop offset="0.469" stop-color="#92cd40"/><stop offset="0.500" stop-color="#55bb47"/><stop offset="0.531" stop-color="#3cb54c"/><stop offset="0.562" stop-color="#34b34d"/><stop offset="0.594" stop-color="#30b24e"/><stop offset="0.625" stop-color="#2eb051"/><stop offset="0.656" stop-color="#2dae52"/><stop offset="0.688" stop-color="#2cad54"/><stop offset="0.719" stop-color="#2aab57"/><stop offset="0.750" stop-color="#2bac55"/><stop offset="0.781" stop-color="#2fb050"/><stop offset="0.812" stop-color="#36b34d"/><stop offset="0.844" stop-color="#3cb54c"/><stop offset="0.875" stop-color="#42b64b"/><stop offset="0.906" stop-color="#49b849"/><stop offset="0.938" stop-color="#50ba48"/><stop offset="0.969" stop-color="#59bc47"/><stop offset="1.000" stop-color="#5fbe46"/></linearGradient>
<linearGradient id="g92"><stop offset="0.000" stop-color="#3e56a9"/><stop offset="0.031" stop-color="#3f58ab"/><stop offset="0.062" stop-color="#405daf"/><stop offset="0.094" stop-color="#3f68b3"/><stop offset="0.125" stop-color="#3971af"/><stop offset="0.156" stop-color="#2e8498"/><stop offset="0.188" stop-color="#28a363"/><stop offset="0.219" stop-color="#2daf52"/><stop offset="0.250" stop-color="#3ab44c"/><stop offset="0.281" stop-color="#51ba48"/><stop offset="0.312" stop-color="#76c443"/><stop offset="0.344" stop-color="#bbd93e"/><stop offset="0.375" stop-color="#eee93e"/><stop offset="0.406" stop-color="#f2ea3e"/><stop offset="0.438" stop-color="#dfe43c"/><stop offset="0.469" stop-color="#89ca41"/><stop offset="0.500" stop-color="#52bb48"/><stop offset="0.531" stop-color="#3bb54c"/><stop offset="0.562" stop-color="#34b34d"/><stop offset="0.594" stop-color="#30b24e"/><stop offset="0.625" stop-color="#2eb051"/><stop offset="0.656" stop-color="#2eaf52"/><stop offset="0.688" stop-color="#2dae52"/><stop offset="0.719" stop-color="#2cad53"/><stop offset="0.750" stop-color="#2dae52"/><stop offset="0.781" stop-color="#30b24e"/><stop offset="0.812" stop-color="#36b44d"/><stop offset="0.844" stop-color="#3cb54c"/><stop offset="0.875" stop-color="#41b64b"/><stop offset="0.906" stop-color="#48b849"/><stop offset="0.938" stop-color="#4db949"/><stop offset="0.969" stop-color="#55bb47"/><stop offset="1.000" stop-color="#5ebe46"/></linearGradient>
<linearGradient id="g93"><stop offset="0.000" stop-color="#3e56a9"/><stop offset="0.031" stop-color="#3f58ab"/><stop offset="0.062" stop-color="#405cae"/><stop offset="0.094" stop-color="#3d6bb1"/><stop offset="0.125" stop-color="#3971af"/><stop offset="0.156" stop-color="#3477ac"/><stop offset="0.188" stop-color="#289679"/><stop offset="0.219" stop-color="#2cad54"/><stop offset="0.250" stop-color="#39b44c"/><stop offset="0.281" stop-color="#50ba48"/><stop offset="0.312" stop-color="#74c443"/><stop offset="0.344" stop-color="#b3d73e"/><stop offset="0.375" stop-color="#e7e73d"/><stop offset="0.406" stop-color="#f2ea3e"/><stop offset="0.438" stop-color="#d0e03d"/><stop offset="0.469" stop-color="#7ec642"/><stop offset="0.500" stop-color="#4fba48"/><stop offset="0.531" stop-color="#39b44c"/><stop offset="0.562" stop-color="#33b34d"/><stop offset="0.594" stop-color="#30b24e"/><stop offset="0.625" stop-color="#2eb050"/><stop offset="0.656" stop-color="#2eaf51"/><stop offset="0.688" stop-color="#2eb051"/><stop offset="0.719" stop-color="#2eb051"/><stop offset="0.750" stop-color="#2fb050"/><stop offset="0.781" stop-color="#31b24e"/><stop offset="0.812" stop-color="#37b44d"/><stop offset="0.844" stop-color="#3cb54c"/><stop offset="0.875" stop-color="#40b64b"/><stop offset="0.906" stop-color="#47b84a"/><stop offset="0.938" stop-color="#48b849"/><stop offset="0.969" stop-color="#4fba48"/><stop offset="1.000" stop-color="#5ebe46"/></linearGradient>
<linearGradient id="g94"><stop offset="0.000" stop-color="#3e56a9"/><stop offset="0.031" stop-color="#3f58ab"/><stop offset="0.062" stop-color="#405aad"/><stop offset="0.094" stop-color="#4263b3"/><stop offset="0.125" stop-color="#3e6ab2"/><stop offset="0.156" stop-color="#3c6db1"/><stop offset="0.188" stop-color="#2d8793"/><stop offset="0.219" stop-color="#2bac56"/><stop offset="0.250" stop-color="#39b44c"/><stop offset="0.281" stop-color="#4fba48"/><stop offset="0.312" stop-color="#72c344"/><stop offset="0.344" stop-color="#aad43e"/><stop offset="0.375" stop-color="#e0e43c"/><stop offset="0.406" stop-color="#ece83d"/><stop offset="0.438" stop-color="#c1db3d"/><stop offset="0.469" stop-color="#78c543"/><stop offset="0.500" stop-color="#4db949"/><stop offset="0.531" stop-color="#3ab44c"/><stop offset="0.562" stop-color="#35b34d"/><stop offset="0.594" stop-color="#31b24e"/><stop offset="0.625" stop-color="#2fb050"/><stop offset="0.656" stop-color="#2eb051"/><stop offset="0.688" stop-color="#2fb050"/><stop offset="0.719" stop-color="#2fb150"/><stop offset="0.750" stop-color="#30b14f"/><stop offset="0.781" stop-color="#33b34e"/><stop offset="0.812" stop-color="#37b44d"/><stop offset="0.844" stop-color="#3bb54c"/><stop offset="0.875" stop-color="#40b64b"/><stop offset="0.906" stop-color="#49b849"/><stop offset="0.938" stop-color="#4db949"/><stop offset="0.969" stop-color="#55bb47"/><stop offset="1.000" stop-color="#60be46"/></linearGradient>
<linearGradient id="g95"><stop offset="0.000" stop-color="#3e56a9"/><stop offset="0.031" stop-color="#3e56a9"/><stop offset="0.062" stop-color="#3f59ac"/><stop offset="0.094" stop-color="#4161b2"/><stop offset="0.125" stop-color="#4165b4"/><stop offset="0.156" stop-color="#3d6bb1"/><stop offset="0.188" stop-color="#30819d"/><stop offset="0.219" stop-color="#2aab57"/><stop offset="0.250" stop-color="#39b44c"/><stop offset="0.281" stop-color="#4fba48"/><stop offset="0.312" stop-color="#6fc244"/><stop offset="0.344" stop-color="#a2d23f"/><stop offset="0.375" stop-color="#d4e13c"/><stop offset="0.406" stop-color="#e4e63d"/><stop offset="0.438" stop-color="#b6d83e"/><stop offset="0.469" stop-color="#74c343"/><stop offset="0.500" stop-color="#4cb949"/><stop offset="0.531" stop-color="#3bb54c"/><stop offset="0.562" stop-color="#38b44c"/><stop offset="0.594" stop-color="#35b34d"/><stop offset="0.625" stop-color="#2fb14f"/><stop offset="0.656" stop-color="#2fb050"/><stop offset="0.688" stop-color="#2fb14f"/><stop offset="0.719" stop-color="#2fb14f"/><stop offset="0.750" stop-color="#30b24e"/><stop offset="0.781" stop-color="#33b34d"/><stop offset="0.812" stop-color="#37b44d"/><stop offset="0.844" stop-color="#3cb54c"/><stop offset="0.875" stop-color="#41b64b"/><stop offset="0.906" stop-color="#4cb949"/><stop offset="0.938" stop-color="#59bc47"/><stop offset="0.969" stop-color="#62bf46"/><stop offset="1.000" stop-color="#65c045"/></linearGradient>
<linearGradient id="g96"><stop offset="0.000" stop-color="#3e55a9"/><stop offset="0.031" stop-color="#3c51a5"/><stop offset="0.062" stop-color="#3f58ab"/><stop offset="0.094" stop-color="#4166b3"/><stop offset="0.125" stop-color="#3e69b2"/><stop offset="0.156" stop-color="#3c6db0"/><stop offset="0.188" stop-color="#2d8793"/><stop offset="0.219" stop-color="#2bac56"/><stop offset="0.250" stop-color="#39b44c"/><stop offset="0.281" stop-color="#4eba48"/><stop offset="0.312" stop-color="#6ec244"/><stop offset="0.344" stop-color="#9cd040"/><stop offset="0.375" stop-color="#c7dd3d"/><stop offset="0.406" stop-color="#dce33c"/><stop offset="0.438" stop-color="#add53e"/><stop offset="0.469" stop-color="#70c344"/><stop offset="0.500" stop-color="#4cb949"/><stop offset="0.531" stop-color="#3eb54b"/><stop offset="0.562" stop-color="#3eb54b"/><stop offset="0.594" stop-color="#3bb54c"/><stop offset="0.625" stop-color="#32b24e"/><stop offset="0.656" stop-color="#2fb150"/><stop offset="0.688" stop-color="#2fb14f"/><stop offset="0.719" stop-color="#30b14f"/><stop offset="0.750" stop-color="#30b24e"/><stop offset="0.781" stop-color="#34b34d"/><stop offset="0.812" stop-color="#39b44c"/><stop offset="0.844" stop-color="#3eb64b"/><stop offset="0.875" stop-color="#43b74a"/><stop offset="0.906" stop-color="#4fba48"/><stop offset="0.938" stop-color="#61bf46"/><stop offset="0.969" stop-color="#6cc144"/><stop offset="1.000" stop-color="#69c145"/></linearGradient>
<linearGradient id="g97"><stop offset="0.000" stop-color="#3e56a9"/><stop offset="0.031" stop-color="#3e54a8"/><stop offset="0.062" stop-color="#405eaf"/><stop offset="0.094" stop-color="#3b6eb0"/><stop offset="0.125" stop-color="#3a6fb0"/><stop offset="0.156" stop-color="#3478ac"/><stop offset="0.188" stop-color="#289679"/><stop offset="0.219" stop-color="#2cad54"/><stop offset="0.250" stop-color="#38b44c"/><stop offset="0.281" stop-color="#4eb948"/><stop offset="0.312" stop-color="#6dc244"/><stop offset="0.344" stop-color="#98cf40"/><stop offset="0.375" stop-color="#bfdb3d"/><stop offset="0.406" stop-color="#d1e03d"/><stop offset="0.438" stop-color="#a5d33f"/><stop offset="0.469" stop-color="#69c145"/><stop offset="0.500" stop-color="#4ab949"/><stop offset="0.531" stop-color="#3fb64b"/><stop offset="0.562" stop-color="#42b64b"/><stop offset="0.594" stop-color="#3fb64b"/><stop offset="0.625" stop-color="#34b34d"/><stop offset="0.656" stop-color="#2fb150"/><stop offset="0.688" stop-color="#2fb14f"/><stop offset="0.719" stop-color="#30b24e"/><stop offset="0.750" stop-color="#35b34d"/><stop offset="0.781" stop-color="#36b34d"/><stop offset="0.812" stop-color="#3cb54c"/><stop offset="0.844" stop-color="#43b74a"/><stop offset="0.875" stop-color="#46b74a"/><stop offset="0.906" stop-color="#50ba48"/><stop offset="0.938" stop-color="#63bf45"/><stop offset="0.969" stop-color="#6ec244"/><stop offset="1.000" stop-color="#6ac144"/></linearGradient>
<linearGradient id="g98"><stop offset="0.000" stop-color="#3e56a9"/><stop offset="0.031" stop-color="#3f58ab"/><stop offset="0.062" stop-color="#4160b1"/><stop offset="0.094" stop-color="#3b6db0"/><stop offset="0.125" stop-color="#3873ae"/><stop offset="0.156" stop-color="#2e8498"/><stop offset="0.188" stop-color="#28a265"/><stop offset="0.219" stop-color="#2cad55"/><stop offset="0.250" stop-color="#35b34d"/><stop offset="0.281" stop-color="#4db949"/><stop offset="0.312" stop-color="#6cc144"/><stop offset="0.344" stop-color="#96ce40"/><stop offset="0.375" stop-color="#bbd93e"/><stop offset="0.406" stop-color="#ccde3d"/><stop offset="0.438" stop-color="#9dd040"/><stop offset="0.469" stop-color="#5abd47"/><stop offset="0.500" stop-color="#46b84a"/><stop offset="0.531" stop-color="#3eb54b"/><stop offset="0.562" stop-color="#3fb64b"/><stop offset="0.594" stop-color="#3db54c"/><stop offset="0.625" stop-color="#33b34e"/><stop offset="0.656" stop-color="#2fb050"/><stop offset="0.688" stop-color="#2fb150"/><stop offset="0.719" stop-color="#31b24e"/><stop offset="0.750" stop-color="#3ab54c"/><stop offset="0.781" stop-color="#39b44c"/><stop offset="0.812" stop-color="#3eb64b"/><stop offset="0.844" stop-color="#46b84a"/><stop offset="0.875" stop-color="#47b84a"/><stop offset="0.906" stop-color="#4fba48"/><stop offset="0.938" stop-color="#5fbe46"/><stop offset="0.969" stop-color="#69c145"/><stop offset="1.000" stop-color="#68c045"/></linearGradient>
<linearGradient id="g99"><stop offset="0.000" stop-color="#3e56a9"/><stop offset="0.031" stop-color="#3f58ab"/><stop offset="0.062" stop-color="#415eb0"/><stop offset="0.094" stop-color="#3f68b2"/><stop offset="0.125" stop-color="#3872ae"/><stop offset="0.156" stop-color="#2d8793"/><stop offset="0.188" stop-color="#28a165"/><stop offset="0.219" stop-color="#28a859"/><stop offset="0.250" stop-color="#2fb050"/><stop offset="0.281" stop-color="#4bb949"/><stop offset="0.312" stop-color="#6cc144"/><stop offset="0.344" stop-color="#94cd40"/><stop offset="0.375" stop-color="#b9d93e"/><stop offset="0.406" stop-color="#c9de3d"/><stop offset="0.438" stop-color="#9cd040"/><stop offset="0.469" stop-color="#5ebe46"/><stop offset="0.500" stop-color="#47b84a"/><stop offset="0.531" stop-color="#3bb54c"/><stop offset="0.562" stop-color="#3ab44c"/><stop offset="0.594" stop-color="#37b44d"/><stop offset="0.625" stop-color="#30b24e"/><stop offset="0.656" stop-color="#2eb050"/><stop offset="0.688" stop-color="#2fb050"/><stop offset="0.719" stop-color="#30b24e"/><stop offset="0.750" stop-color="#36b34d"/><stop offset="0.781" stop-color="#37b44d"/><stop offset="0.812" stop-color="#3db54c"/><stop offset="0.844" stop-color="#44b74a"/><stop offset="0.875" stop-color="#45b74a"/><stop offset="0.906" stop-color="#4bb949"/><stop offset="0.938" stop-color="#57bc47"/><stop offset="0.969" stop-color="#61bf46"/><stop offset="1.000" stop-color="#63bf45"/></linearGradient>
<linearGradient id="g100"><stop offset="0.000" stop-color="#3e56a9"/><stop offset="0.031" stop-color="#3f58ab"/><stop offset="0.062" stop-color="#405cae"/><stop offset="0.094" stop-color="#4264b4"/><stop offset="0.125" stop-color="#3d6bb1"/><stop offset="0.156" stop-color="#337ba8"/><stop offset="0.188" stop-color="#28967a"/><stop offset="0.219" stop-color="#28a462"/><stop offset="0.250" stop-color="#2eb050"/><stop offset="0.281" stop-color="#4cb949"/><stop offset="0.312" stop-color="#6bc144"/><stop offset="0.344" stop-color="#8aca41"/><stop offset="0.375" stop-color="#b2d73e"/><stop offset="0.406" stop-color="#c9dd3d"/><stop offset="0.438" stop-color="#a0d13f"/><stop offset="0.469" stop-color="#6ac145"/><stop offset="0.500" stop-color="#49b849"/><stop offset="0.531" stop-color="#39b44c"/><stop offset="0.562" stop-color="#35b34d"/><stop offset="0.594" stop-color="#32b24e"/><stop offset="0.625" stop-color="#2fb150"/><stop offset="0.656" stop-color="#2eb051"/><stop offset="0.688" stop-color="#2fb050"/><stop offset="0.719" stop-color="#2fb14f"/><stop offset="0.750" stop-color="#30b24e"/><stop offset="0.781" stop-color="#34b34d"/><stop offset="0.812" stop-color="#3ab44c"/><stop offset="0.844" stop-color="#3fb64b"/><stop offset="0.875" stop-color="#42b64b"/><stop offset="0.906" stop-color="#49b849"/><stop offset="0.938" stop-color="#53bb48"/><stop offset="0.969" stop-color="#5cbd46"/><stop offset="1.000" stop-color="#60be46"/></linearGradient>
<linearGradient id="g101"><stop offset="0.000" stop-color="#3e56a9"/><stop offset="0.031" stop-color="#3f58ab"/><stop offset="0.062" stop-color="#405aad"/><stop offset="0.094" stop-color="#4160b1"/><stop offset="0.125" stop-color="#4166b3"/><stop offset="0.156" stop-color="#3c6db0"/><stop offset="0.188" stop-color="#2d8694"/><stop offset="0.219" stop-color="#29a958"/><stop offset="0.250" stop-color="#39b44c"/><stop offset="0.281" stop-color="#51ba48"/><stop offset="0.312" stop-color="#6bc144"/><stop offset="0.344" stop-color="#7cc642"/><stop offset="0.375" stop-color="#aad43e"/><stop offset="0.406" stop-color="#c9de3d"/><stop offset="0.438" stop-color="#a1d13f"/><stop offset="0.469" stop-color="#6bc144"/><stop offset="0.500" stop-color="#48b84a"/><stop offset="0.531" stop-color="#37b44d"/><stop offset="0.562" stop-color="#33b34d"/><stop offset="0.594" stop-color="#30b24e"/><stop offset="0.625" stop-color="#2eb050"/><stop offset="0.656" stop-color="#2eb051"/><stop offset="0.688" stop-color="#2fb050"/><stop offset="0.719" stop-color="#2fb14f"/><stop offset="0.750" stop-color="#30b24e"/><stop offset="0.781" stop-color="#33b34d"/><stop offset="0.812" stop-color="#38b44d"/><stop offset="0.844" stop-color="#3cb54c"/><stop offset="0.875" stop-color="#40b64b"/><stop offset="0.906" stop-color="#48b84a"/><stop offset="0.938" stop-color="#51ba48"/><stop offset="0.969" stop-color="#5abd47"/><stop offset="1.000" stop-color="#5fbe46"/></linearGradient>
<linearGradient id="g102"><stop offset="0.000" stop-color="#3e56a9"/><stop offset="0.031" stop-color="#3f58ab"/><stop offset="0.062" stop-color="#3f59ac"/><stop offset="0.094" stop-color="#415fb0"/><stop offset="0.125" stop-color="#4263b3"/><stop offset="0.156" stop-color="#4067b3"/><stop offset="0.188" stop-color="#327ca6"/><stop offset="0.219" stop-color="#2bac55"/><stop offset="0.250" stop-color="#44b74a"/><stop offset="0.281" stop-color="#56bb47"/><stop offset="0.312" stop-color="#6dc244"/><stop offset="0.344" stop-color="#8aca41"/><stop offset="0.375" stop-color="#b4d73e"/><stop offset="0.406" stop-color="#cade3d"/><stop offset="0.438" stop-color="#a0d13f"/><stop offset="0.469" stop-color="#6ac145"/><stop offset="0.500" stop-color="#43b74a"/><stop offset="0.531" stop-color="#32b34e"/><stop offset="0.562" stop-color="#30b24e"/><stop offset="0.594" stop-color="#30b14f"/><stop offset="0.625" stop-color="#2eb050"/><stop offset="0.656" stop-color="#2eb051"/><stop offset="0.688" stop-color="#2fb050"/><stop offset="0.719" stop-color="#2fb14f"/><stop offset="0.750" stop-color="#30b24e"/><stop offset="0.781" stop-color="#33b34d"/><stop offset="0.812" stop-color="#37b44d"/><stop offset="0.844" stop-color="#3bb54c"/><stop offset="0.875" stop-color="#3fb64b"/><stop offset="0.906" stop-color="#47b84a"/><stop offset="0.938" stop-color="#50ba48"/><stop offset="0.969" stop-color="#5abd47"/><stop offset="1.000" stop-color="#5fbe46"/></linearGradient>
<linearGradient id="g103"><stop offset="0.000" stop-color="#3e56a9"/><stop offset="0.031" stop-color="#3f58ab"/><stop offset="0.062" stop-color="#405aad"/><stop offset="0.094" stop-color="#4160b1"/><stop offset="0.125" stop-color="#4265b4"/><stop offset="0.156" stop-color="#3f68b2"/><stop offset="0.188" stop-color="#317da3"/><stop offset="0.219" stop-color="#2bac55"/><stop offset="0.250" stop-color="#43b74b"/><stop offset="0.281" stop-color="#54bb47"/><stop offset="0.312" stop-color="#6dc244"/><stop offset="0.344" stop-color="#96ce40"/><stop offset="0.375" stop-color="#bad93e"/><stop offset="0.406" stop-color="#c8dd3d"/><stop offset="0.438" stop-color="#9fd13f"/><stop offset="0.469" stop-color="#66c045"/><stop offset="0.500" stop-color="#3cb54c"/><stop offset="0.531" stop-color="#2eaf51"/><stop offset="0.562" stop-color="#2fb150"/><stop offset="0.594" stop-color="#2fb14f"/><stop offset="0.625" stop-color="#2eb051"/><stop offset="0.656" stop-color="#2eb051"/><stop offset="0.688" stop-color="#2fb050"/><stop offset="0.719" stop-color="#2fb14f"/><stop offset="0.750" stop-color="#30b24e"/><stop offset="0.781" stop-color="#33b34d"/><stop offset="0.812" stop-color="#37b44d"/><stop offset="0.844" stop-color="#3bb54c"/><stop offset="0.875" stop-color="#3fb64b"/><stop offset="0.906" stop-color="#48b84a"/><stop offset="0.938" stop-color="#52ba48"/><stop offset="0.969" stop-color="#5cbd46"/><stop offset="1.000" stop-color="#61be46"/></linearGradient>
<linearGradient id="g104"><stop offset="0.000" stop-color="#3f56aa"/><stop offset="0.031" stop-color="#3f59ac"/><stop offset="0.062" stop-color="#405daf"/><stop offset="0.094" stop-color="#4165b4"/><stop offset="0.125" stop-color="#3d6bb1"/><stop offset="0.156" stop-color="#3872ae"/><stop offset="0.188" stop-color="#298e87"/><stop offset="0.219" stop-color="#2cad54"/><stop offset="0.250" stop-color="#3cb54c"/><stop offset="0.281" stop-color="#50ba48"/><stop offset="0.312" stop-color="#6cc144"/><stop offset="0.344" stop-color="#95ce40"/><stop offset="0.375" stop-color="#b8d83e"/><stop offset="0.406" stop-color="#c6dd3d"/><stop offset="0.438" stop-color="#9dd03f"/><stop offset="0.469" stop-color="#65c045"/><stop offset="0.500" stop-color="#38b44c"/><stop offset="0.531" stop-color="#2cad53"/><stop offset="0.562" stop-color="#2eb051"/><stop offset="0.594" stop-color="#2fb14f"/><stop offset="0.625" stop-color="#2eb051"/><stop offset="0.656" stop-color="#2eb051"/><stop offset="0.688" stop-color="#2fb050"/><stop offset="0.719" stop-color="#2fb14f"/><stop offset="0.750" stop-color="#30b24e"/><stop offset="0.781" stop-color="#33b34d"/><stop offset="0.812" stop-color="#37b44d"/><stop offset="0.844" stop-color="#3bb54c"/><stop offset="0.875" stop-color="#3fb64b"/><stop offset="0.906" stop-color="#48b849"/><stop offset="0.938" stop-color="#55bb47"/><stop offset="0.969" stop-color="#64bf45"/><stop offset="1.000" stop-color="#65c045"/></linearGradient>
<linearGradient id="g105"><stop offset="0.000" stop-color="#3f56aa"/><stop offset="0.031" stop-color="#3f5aac"/><stop offset="0.062" stop-color="#4161b2"/><stop offset="0.094" stop-color="#3c6db0"/><stop offset="0.125" stop-color="#3972af"/><stop offset="0.156" stop-color="#30819c"/><stop offset="0.188" stop-color="#289f6a"/><stop offset="0.219" stop-color="#2dae53"/><stop offset="0.250" stop-color="#39b44c"/><stop offset="0.281" stop-color="#4eb948"/><stop offset="0.312" stop-color="#6bc144"/><stop offset="0.344" stop-color="#93cd40"/><stop offset="0.375" stop-color="#b4d73e"/><stop offset="0.406" stop-color="#c3dc3d"/><stop offset="0.438" stop-color="#9dd03f"/><stop offset="0.469" stop-color="#6ac145"/><stop offset="0.500" stop-color="#3eb54b"/><stop offset="0.531" stop-color="#2eb051"/><stop offset="0.562" stop-color="#2fb150"/><stop offset="0.594" stop-color="#2fb14f"/><stop offset="0.625" stop-color="#2eb051"/><stop offset="0.656" stop-color="#2eb051"/><stop offset="0.688" stop-color="#2fb050"/><stop offset="0.719" stop-color="#2fb14f"/><stop offset="0.750" stop-color="#30b24e"/><stop offset="0.781" stop-color="#33b34d"/><stop offset="0.812" stop-color="#37b44d"/><stop offset="0.844" stop-color="#3bb54c"/><stop offset="0.875" stop-color="#3fb64b"/><stop offset="0.906" stop-color="#49b849"/><stop offset="0.938" stop-color="#5abd47"/><stop offset="0.969" stop-color="#6cc144"/><stop offset="1.000" stop-color="#6ac145"/></linearGradient>
<linearGradient id="g106"><stop offset="0.000" stop-color="#3f57aa"/><stop offset="0.031" stop-color="#405aad"/><stop offset="0.062" stop-color="#4262b3"/><stop offset="0.094" stop-color="#3a6faf"/><stop offset="0.125" stop-color="#3478ac"/><stop offset="0.156" stop-color="#2b8b8d"/><stop offset="0.188" stop-color="#28a65d"/><stop offset="0.219" stop-color="#2daf52"/><stop offset="0.250" stop-color="#39b44c"/><stop offset="0.281" stop-color="#4db948"/><stop offset="0.312" stop-color="#6bc144"/><stop offset="0.344" stop-color="#92cd40"/><stop offset="0.375" stop-color="#b1d63e"/><stop offset="0.406" stop-color="#c1db3d"/><stop offset="0.438" stop-color="#9ed03f"/><stop offset="0.469" stop-color="#70c344"/><stop offset="0.500" stop-color="#47b84a"/><stop offset="0.531" stop-color="#33b34e"/><stop offset="0.562" stop-color="#30b24e"/><stop offset="0.594" stop-color="#30b14f"/><stop offset="0.625" stop-color="#2eb050"/><stop offset="0.656" stop-color="#2eb051"/><stop offset="0.688" stop-color="#2fb050"/><stop offset="0.719" stop-color="#2fb14f"/><stop offset="0.750" stop-color="#30b24e"/><stop offset="0.781" stop-color="#33b34d"/><stop offset="0.812" stop-color="#37b44d"/><stop offset="0.844" stop-color="#39b44c"/><stop offset="0.875" stop-color="#3db54c"/><stop offset="0.906" stop-color="#48b849"/><stop offset="0.938" stop-color="#59bc47"/><stop offset="0.969" stop-color="#6ac145"/><stop offset="1.000" stop-color="#69c145"/></linearGradient>
<linearGradient id="g107"><stop offset="0.000" stop-color="#3f56aa"/><stop offset="0.031" stop-color="#3f5aac"/><stop offset="0.062" stop-color="#4160b1"/><stop offset="0.094" stop-color="#3d6cb1"/><stop offset="0.125" stop-color="#3971af"/><stop offset="0.156" stop-color="#2f829b"/><stop offset="0.188" stop-color="#28a068"/><stop offset="0.219" stop-color="#2dae53"/><stop offset="0.250" stop-color="#39b44c"/><stop offset="0.281" stop-color="#4db949"/><stop offset="0.312" stop-color="#6bc144"/><stop offset="0.344" stop-color="#92cd40"/><stop offset="0.375" stop-color="#b2d73e"/><stop offset="0.406" stop-color="#c2db3d"/><stop offset="0.438" stop-color="#9ed03f"/><stop offset="0.469" stop-color="#6ec244"/><stop offset="0.500" stop-color="#49b849"/><stop offset="0.531" stop-color="#37b44d"/><stop offset="0.562" stop-color="#32b34e"/><stop offset="0.594" stop-color="#30b24e"/><stop offset="0.625" stop-color="#2eb050"/><stop offset="0.656" stop-color="#2eb051"/><stop offset="0.688" stop-color="#2fb050"/><stop offset="0.719" stop-color="#2fb14f"/><stop offset="0.750" stop-color="#30b24e"/><stop offset="0.781" stop-color="#33b34d"/><stop offset="0.812" stop-color="#37b44d"/><stop offset="0.844" stop-color="#37b44d"/><stop offset="0.875" stop-color="#3ab44c"/><stop offset="0.906" stop-color="#47b84a"/><stop offset="0.938" stop-color="#54bb47"/><stop offset="0.969" stop-color="#61be46"/><stop offset="1.000" stop-color="#64bf45"/></linearGradient>
<linearGradient id="g108"><stop offset="0.000" stop-color="#3f56aa"/><stop offset="0.031" stop-color="#3f59ac"/><stop offset="0.062" stop-color="#405daf"/><stop offset="0.094" stop-color="#4264b4"/><stop offset="0.125" stop-color="#3d6bb1"/><stop offset="0.156" stop-color="#3675ad"/><stop offset="0.188" stop-color="#289280"/><stop offset="0.219" stop-color="#2cad54"/><stop offset="0.250" stop-color="#39b44c"/><stop offset="0.281" stop-color="#4db949"/><stop offset="0.312" stop-color="#6ac144"/><stop offset="0.344" stop-color="#92cc40"/><stop offset="0.375" stop-color="#b3d73e"/><stop offset="0.406" stop-color="#c3dc3d"/><stop offset="0.438" stop-color="#9dd03f"/><stop offset="0.469" stop-color="#6cc144"/><stop offset="0.500" stop-color="#49b849"/><stop offset="0.531" stop-color="#38b44c"/><stop offset="0.562" stop-color="#33b34d"/><stop offset="0.594" stop-color="#30b24e"/><stop offset="0.625" stop-color="#2eb050"/><stop offset="0.656" stop-color="#2eb051"/><stop offset="0.688" stop-color="#2fb050"/><stop offset="0.719" stop-color="#2fb14f"/><stop offset="0.750" stop-color="#30b24e"/><stop offset="0.781" stop-color="#33b34d"/><stop offset="0.812" stop-color="#37b44d"/><stop offset="0.844" stop-color="#38b44c"/><stop offset="0.875" stop-color="#3cb54c"/><stop offset="0.906" stop-color="#48b849"/><stop offset="0.938" stop-color="#52bb48"/><stop offset="0.969" stop-color="#5bbd47"/><stop offset="1.000" stop-color="#60be46"/></linearGradient>
<linearGradient id="g109"><stop offset="0.000" stop-color="#3e56a9"/><stop offset="0.031" stop-color="#3f58ab"/><stop offset="0.062" stop-color="#3f5aac"/><stop offset="0.094" stop-color="#4160b1"/><stop offset="0.125" stop-color="#4066b3"/><stop offset="0.156" stop-color="#3a6faf"/><stop offset="0.188" stop-color="#2c8891"/><stop offset="0.219" stop-color="#2bac55"/><stop offset="0.250" stop-color="#39b44c"/><stop offset="0.281" stop-color="#4db949"/><stop offset="0.312" stop-color="#69c145"/><stop offset="0.344" stop-color="#90cc41"/><stop offset="0.375" stop-color="#b3d73e"/><stop offset="0.406" stop-color="#c2db3d"/><stop offset="0.438" stop-color="#9cd040"/><stop offset="0.469" stop-color="#6bc144"/><stop offset="0.500" stop-color="#49b849"/><stop offset="0.531" stop-color="#39b44c"/><stop offset="0.562" stop-color="#33b34d"/><stop offset="0.594" stop-color="#30b24e"/><stop offset="0.625" stop-color="#2eb050"/><stop offset="0.656" stop-color="#2eb051"/><stop offset="0.688" stop-color="#2fb050"/><stop offset="0.719" stop-color="#2fb14f"/><stop offset="0.750" stop-color="#30b24e"/><stop offset="0.781" stop-color="#33b34d"/><stop offset="0.812" stop-color="#38b44d"/><stop offset="0.844" stop-color="#3db54c"/><stop offset="0.875" stop-color="#43b74a"/><stop offset="0.906" stop-color="#4db949"/><stop offset="0.938" stop-color="#54bb47"/><stop offset="0.969" stop-color="#5abd47"/><stop offset="1.000" stop-color="#5fbe46"/></linearGradient>
<linearGradient id="g110"><stop offset="0.000" stop-color="#3e56a9"/><stop offset="0.031" stop-color="#3f58ab"/><stop offset="0.062" stop-color="#3f59ac"/><stop offset="0.094" stop-color="#415fb0"/><stop offset="0.125" stop-color="#4066b3"/><stop offset="0.156" stop-color="#3873ae"/><stop offset="0.188" stop-color="#2b8b8b"/><stop offset="0.219" stop-color="#2bac55"/><stop offset="0.250" stop-color="#39b44c"/><stop offset="0.281" stop-color="#4cb949"/><stop offset="0.312" stop-color="#67c045"/><stop offset="0.344" stop-color="#8dcb41"/><stop offset="0.375" stop-color="#b1d63e"/><stop offset="0.406" stop-color="#c0db3d"/><stop offset="0.438" stop-color="#9bcf40"/><stop offset="0.469" stop-color="#6bc144"/><stop offset="0.500" stop-color="#49b849"/><stop offset="0.531" stop-color="#39b44c"/><stop offset="0.562" stop-color="#33b34d"/><stop offset="0.594" stop-color="#30b24e"/><stop offset="0.625" stop-color="#2eb050"/><stop offset="0.656" stop-color="#2eb051"/><stop offset="0.688" stop-color="#2fb050"/><stop offset="0.719" stop-color="#2fb14f"/><stop offset="0.750" stop-color="#30b24e"/><stop offset="0.781" stop-color="#33b34d"/><stop offset="0.812" stop-color="#39b44c"/><stop offset="0.844" stop-color="#41b64b"/><stop offset="0.875" stop-color="#49b849"/><stop offset="0.906" stop-color="#52bb48"/><stop offset="0.938" stop-color="#57bc47"/><stop offset="0.969" stop-color="#5bbd47"/><stop offset="1.000" stop-color="#5fbe46"/></linearGradient>
<linearGradient id="g111"><stop offset="0.000" stop-color="#3e56a9"/><stop offset="0.031" stop-color="#3f58ab"/><stop offset="0.062" stop-color="#405aad"/><stop offset="0.094" stop-color="#4161b2"/><stop offset="0.125" stop-color="#3d6bb1"/><stop offset="0.156" stop-color="#3479ab"/><stop offset="0.188" stop-color="#289679"/><stop offset="0.219" stop-color="#2cad53"/><stop offset="0.250" stop-color="#38b44c"/><stop offset="0.281" stop-color="#4bb949"/><stop offset="0.312" stop-color="#65c045"/><stop offset="0.344" stop-color="#89ca41"/><stop offset="0.375" stop-color="#aed53e"/><stop offset="0.406" stop-color="#bfdb3d"/><stop offset="0.438" stop-color="#9acf40"/><stop offset="0.469" stop-color="#6bc144"/><stop offset="0.500" stop-color="#49b849"/><stop offset="0.531" stop-color="#39b44c"/><stop offset="0.562" stop-color="#33b34d"/><stop offset="0.594" stop-color="#30b24e"/><stop offset="0.625" stop-color="#2eb050"/><stop offset="0.656" stop-color="#2eb051"/><stop offset="0.688" stop-color="#2fb050"/><stop offset="0.719" stop-color="#2fb14f"/><stop offset="0.750" stop-color="#30b24e"/><stop offset="0.781" stop-color="#34b34d"/><stop offset="0.812" stop-color="#3bb54c"/><stop offset="0.844" stop-color="#45b74a"/><stop offset="0.875" stop-color="#4eb948"/><stop offset="0.906" stop-color="#55bb47"/><stop offset="0.938" stop-color="#58bc47"/><stop offset="0.969" stop-color="#5bbd46"/><stop offset="1.000" stop-color="#5fbe46"/></linearGradient>
<linearGradient id="g112"><stop offset="0.000" stop-color="#3e56a9"/><stop offset="0.031" stop-color="#3f58ab"/><stop offset="0.062" stop-color="#405cae"/><stop offset="0.094" stop-color="#4165b4"/><stop offset="0.125" stop-color="#3a6faf"/><stop offset="0.156" stop-color="#2e8596"/><stop offset="0.188" stop-color="#28a264"/><stop offset="0.219" stop-color="#2daf52"/><stop offset="0.250" stop-color="#38b44c"/><stop offset="0.281" stop-color="#4bb949"/><stop offset="0.312" stop-color="#64bf45"/><stop offset="0.344" stop-color="#86c941"/><stop offset="0.375" stop-color="#aad43e"/><stop offset="0.406" stop-color="#b7d83e"/><stop offset="0.438" stop-color="#8ecb41"/><stop offset="0.469" stop-color="#68c145"/><stop offset="0.500" stop-color="#49b849"/><stop offset="0.531" stop-color="#38b44c"/><stop offset="0.562" stop-color="#33b34d"/><stop offset="0.594" stop-color="#30b24e"/><stop offset="0.625" stop-color="#2eb050"/><stop offset="0.656" stop-color="#2eb051"/><stop offset="0.688" stop-color="#2fb050"/><stop offset="0.719" stop-color="#2fb14f"/><stop offset="0.750" stop-color="#30b24e"/><stop offset="0.781" stop-color="#34b34d"/><stop offset="0.812" stop-color="#3cb54c"/><stop offset="0.844" stop-color="#46b74a"/><stop offset="0.875" stop-color="#4db949"/><stop offset="0.906" stop-color="#53bb48"/><stop offset="0.938" stop-color="#56bc47"/><stop offset="0.969" stop-color="#5bbd47"/><stop offset="1.000" stop-color="#5fbe46"/></linearGradient>
<linearGradient id="g113"><stop offset="0.000" stop-color="#3d52a6"/><stop offset="0.031" stop-color="#3d52a6"/><stop offset="0.062" stop-color="#3f56aa"/><stop offset="0.094" stop-color="#405eaf"/><stop offset="0.125" stop-color="#4263b4"/><stop offset="0.156" stop-color="#3d6bb1"/><stop offset="0.188" stop-color="#30819c"/><stop offset="0.219" stop-color="#2aab57"/><stop offset="0.250" stop-color="#38b44c"/><stop offset="0.281" stop-color="#4cb949"/><stop offset="0.312" stop-color="#66c045"/><stop offset="0.344" stop-color="#82c742"/><stop offset="0.375" stop-color="#98cf40"/><stop offset="0.406" stop-color="#a5d33f"/><stop offset="0.438" stop-color="#88ca41"/><stop offset="0.469" stop-color="#66c045"/><stop offset="0.500" stop-color="#48b849"/><stop offset="0.531" stop-color="#2fb150"/><stop offset="0.562" stop-color="#28a55f"/><stop offset="0.594" stop-color="#2d8694"/><stop offset="0.625" stop-color="#3b6eb0"/><stop offset="0.656" stop-color="#3a6fb0"/><stop offset="0.688" stop-color="#2d8694"/><stop offset="0.719" stop-color="#28a166"/><stop offset="0.750" stop-color="#2cad54"/><stop offset="0.781" stop-color="#30b24e"/><stop offset="0.812" stop-color="#37b44d"/><stop offset="0.844" stop-color="#3bb54c"/><stop offset="0.875" stop-color="#3fb64b"/><stop offset="0.906" stop-color="#47b84a"/><stop offset="0.938" stop-color="#50ba48"/><stop offset="0.969" stop-color="#59bc47"/><stop offset="1.000" stop-color="#5fbe46"/></linearGradient>
<linearGradient id="g114"><stop offset="0.000" stop-color="#3c50a5"/><stop offset="0.031" stop-color="#3b4fa3"/><stop offset="0.062" stop-color="#3e55a9"/><stop offset="0.094" stop-color="#415fb0"/><stop offset="0.125" stop-color="#4165b4"/><stop offset="0.156" stop-color="#3c6cb1"/><stop offset="0.188" stop-color="#2d8793"/><stop offset="0.219" stop-color="#2bac56"/><stop offset="0.250" stop-color="#38b44c"/><stop offset="0.281" stop-color="#4db949"/><stop offset="0.312" stop-color="#68c145"/><stop offset="0.344" stop-color="#88ca41"/><stop offset="0.375" stop-color="#9ed03f"/><stop offset="0.406" stop-color="#a8d43f"/><stop offset="0.438" stop-color="#8bcb41"/><stop offset="0.469" stop-color="#68c045"/><stop offset="0.500" stop-color="#49b849"/><stop offset="0.531" stop-color="#2fb150"/><stop offset="0.562" stop-color="#28a560"/><stop offset="0.594" stop-color="#2e8597"/><stop offset="0.625" stop-color="#3d6ab1"/><stop offset="0.656" stop-color="#3d6bb1"/><stop offset="0.688" stop-color="#2e8498"/><stop offset="0.719" stop-color="#28a166"/><stop offset="0.750" stop-color="#2cad54"/><stop offset="0.781" stop-color="#30b24e"/><stop offset="0.812" stop-color="#37b44d"/><stop offset="0.844" stop-color="#3bb54c"/><stop offset="0.875" stop-color="#3fb64b"/><stop offset="0.906" stop-color="#47b84a"/><stop offset="0.938" stop-color="#50ba48"/><stop offset="0.969" stop-color="#59bc47"/><stop offset="1.000" stop-color="#5fbe46"/></linearGradient>
<linearGradient id="g115"><stop offset="0.000" stop-color="#3d52a6"/><stop offset="0.031" stop-color="#3d51a5"/><stop offset="0.062" stop-color="#3f58ab"/><stop offset="0.094" stop-color="#4262b3"/><stop offset="0.125" stop-color="#3e6ab2"/><stop offset="0.156" stop-color="#3577ac"/><stop offset="0.188" stop-color="#289679"/><stop offset="0.219" stop-color="#2cad54"/><stop offset="0.250" stop-color="#39b44c"/><stop offset="0.281" stop-color="#4db949"/><stop offset="0.312" stop-color="#6ac145"/><stop offset="0.344" stop-color="#8dcb41"/><stop offset="0.375" stop-color="#a7d33f"/><stop offset="0.406" stop-color="#b2d73e"/><stop offset="0.438" stop-color="#92cc40"/><stop offset="0.469" stop-color="#69c145"/><stop offset="0.500" stop-color="#49b849"/><stop offset="0.531" stop-color="#2fb150"/><stop offset="0.562" stop-color="#28a560"/><stop offset="0.594" stop-color="#2e8498"/><stop offset="0.625" stop-color="#3e69b2"/><stop offset="0.656" stop-color="#3f69b2"/><stop offset="0.688" stop-color="#2f829c"/><stop offset="0.719" stop-color="#28a068"/><stop offset="0.750" stop-color="#2cad54"/><stop offset="0.781" stop-color="#30b24e"/><stop offset="0.812" stop-color="#37b44d"/><stop offset="0.844" stop-color="#3bb54c"/><stop offset="0.875" stop-color="#3fb64b"/><stop offset="0.906" stop-color="#47b84a"/><stop offset="0.938" stop-color="#50ba48"/><stop offset="0.969" stop-color="#59bc47"/><stop offset="1.000" stop-color="#5fbe46"/></linearGradient>
<linearGradient id="g116"><stop offset="0.000" stop-color="#3e54a8"/><stop offset="0.031" stop-color="#3e55a9"/><stop offset="0.062" stop-color="#405bae"/><stop offset="0.094" stop-color="#4165b4"/><stop offset="0.125" stop-color="#3b6eb0"/><stop offset="0.156" stop-color="#2f829b"/><stop offset="0.188" stop-color="#28a264"/><stop offset="0.219" stop-color="#2dae52"/><stop offset="0.250" stop-color="#39b44c"/><stop offset="0.281" stop-color="#4db949"/><stop offset="0.312" stop-color="#6ac144"/><stop offset="0.344" stop-color="#90cc40"/><stop offset="0.375" stop-color="#aed53e"/><stop offset="0.406" stop-color="#bbd93e"/><stop offset="0.438" stop-color="#98ce40"/><stop offset="0.469" stop-color="#6bc144"/><stop offset="0.500" stop-color="#49b849"/><stop offset="0.531" stop-color="#2fb150"/><stop offset="0.562" stop-color="#28a560"/><stop offset="0.594" stop-color="#2e8596"/><stop offset="0.625" stop-color="#3e6ab2"/><stop offset="0.656" stop-color="#3f69b2"/><stop offset="0.688" stop-color="#30819d"/><stop offset="0.719" stop-color="#28a068"/><stop offset="0.750" stop-color="#2cad54"/><stop offset="0.781" stop-color="#30b24e"/><stop offset="0.812" stop-color="#37b44d"/><stop offset="0.844" stop-color="#3bb54c"/><stop offset="0.875" stop-color="#3fb64b"/><stop offset="0.906" stop-color="#47b84a"/><stop offset="0.938" stop-color="#50ba48"/><stop offset="0.969" stop-color="#59bc47"/><stop offset="1.000" stop-color="#5fbe46"/></linearGradient>
<linearGradient id="g117"><stop offset="0.000" stop-color="#3d53a7"/><stop offset="0.031" stop-color="#3f58ab"/><stop offset="0.062" stop-color="#3f58ab"/><stop offset="0.094" stop-color="#3f59ac"/><stop offset="0.125" stop-color="#4160b1"/><stop offset="0.156" stop-color="#405cae"/><stop offset="0.188" stop-color="#4162b2"/><stop offset="0.219" stop-color="#337aa8"/><stop offset="0.250" stop-color="#28a264"/><stop offset="0.281" stop-color="#2eaf51"/><stop offset="0.312" stop-color="#34b34d"/><stop offset="0.344" stop-color="#3bb54c"/><stop offset="0.375" stop-color="#40b64b"/><stop offset="0.406" stop-color="#5abd47"/><stop offset="0.438" stop-color="#7bc542"/><stop offset="0.469" stop-color="#acd53e"/><stop offset="0.500" stop-color="#ccdf3d"/><stop offset="0.531" stop-color="#e3e53c"/><stop offset="0.562" stop-color="#ebe83d"/><stop offset="0.594" stop-color="#f2ea3e"/><stop offset="0.625" stop-color="#eae83d"/><stop offset="0.656" stop-color="#e0e43c"/><stop offset="0.688" stop-color="#bbd93e"/><stop offset="0.719" stop-color="#88ca41"/><stop offset="0.750" stop-color="#5fbe46"/><stop offset="0.781" stop-color="#42b64b"/><stop offset="0.812" stop-color="#39b44c"/><stop offset="0.844" stop-color="#2fb14f"/><stop offset="0.875" stop-color="#28a85a"/><stop offset="0.906" stop-color="#2f829b"/><stop offset="0.938" stop-color="#4067b3"/><stop offset="0.969" stop-color="#405cae"/><stop offset="1.000" stop-color="#3f56aa"/></linearGradient>
<linearGradient id="g118"><stop offset="0.000" stop-color="#3d53a7"/><stop offset="0.031" stop-color="#3f58ab"/><stop offset="0.062" stop-color="#3f58ab"/><stop offset="0.094" stop-color="#3f59ac"/><stop offset="0.125" stop-color="#4160b1"/><stop offset="0.156" stop-color="#405cae"/><stop offset="0.188" stop-color="#4162b2"/><stop offset="0.219" stop-color="#337aa8"/><stop offset="0.250" stop-color="#28a264"/><stop offset="0.281" stop-color="#2eaf51"/><stop offset="0.312" stop-color="#34b34d"/><stop offset="0.344" stop-color="#3bb54c"/><stop offset="0.375" stop-color="#40b64b"/><stop offset="0.406" stop-color="#5abd47"/><stop offset="0.438" stop-color="#7bc542"/><stop offset="0.469" stop-color="#acd53e"/><stop offset="0.500" stop-color="#ccdf3d"/><stop offset="0.531" stop-color="#e3e53c"/><stop offset="0.562" stop-color="#ebe83d"/><stop offset="0.594" stop-color="#f2ea3e"/><stop offset="0.625" stop-color="#eae83d"/><stop offset="0.656" stop-color="#e0e43c"/><stop offset="0.688" stop-color="#bbd93e"/><stop offset="0.719" stop-color="#88ca41"/><stop offset="0.750" stop-color="#5fbe46"/><stop offset="0.781" stop-color="#42b64b"/><stop offset="0.812" stop-color="#39b44c"/><stop offset="0.844" stop-color="#2fb14f"/><stop offset="0.875" stop-color="#28a85a"/><stop offset="0.906" stop-color="#2f829b"/><stop offset="0.938" stop-color="#4067b3"/><stop offset="0.969" stop-color="#405cae"/><stop offset="1.000" stop-color="#3f56aa"/></linearGradient>
<linearGradient id="g119"><stop offset="0.000" stop-color="#3d53a7"/><stop offset="0.031" stop-color="#3f58ab"/><stop offset="0.062" stop-color="#3f58ab"/><stop offset="0.094" stop-color="#3f59ac"/><stop offset="0.125" stop-color="#4160b1"/><stop offset="0.156" stop-color="#405cae"/><stop offset="0.188" stop-color="#4162b2"/><stop offset="0.219" stop-color="#337aa8"/><stop offset="0.250" stop-color="#28a264"/><stop offset="0.281" stop-color="#2eaf51"/><stop offset="0.312" stop-color="#34b34d"/><stop offset="0.344" stop-color="#3bb54c"/><stop offset="0.375" stop-color="#40b64b"/><stop offset="0.406" stop-color="#5abd47"/><stop offset="0.438" stop-color="#7bc542"/><stop offset="0.469" stop-color="#acd53e"/><stop offset="0.500" stop-color="#ccdf3d"/><stop offset="0.531" stop-color="#e3e53c"/><stop offset="0.562" stop-color="#ebe83d"/><stop offset="0.594" stop-color="#f2ea3e"/><stop offset="0.625" stop-color="#eae83d"/><stop offset="0.656" stop-color="#e0e43c"/><stop offset="0.688" stop-color="#bbd93e"/><stop offset="0.719" stop-color="#88ca41"/><stop offset="0.750" stop-color="#5fbe46"/><stop offset="0.781" stop-color="#42b64b"/><stop offset="0.812" stop-color="#39b44c"/><stop offset="0.844" stop-color="#2fb14f"/><stop offset="0.875" stop-color="#28a85a"/><stop offset="0.906" stop-color="#2f829b"/><stop offset="0.938" stop-color="#4067b3"/><stop offset="0.969" stop-color="#405cae"/><stop offset="1.000" stop-color="#3f56aa"/></linearGradient>
<linearGradient id="g120"><stop offset="0.000" stop-color="#3d53a7"/><stop offset="0.031" stop-color="#3f58ab"/><stop offset="0.062" stop-color="#3f58ab"/><stop offset="0.094" stop-color="#3f59ac"/><stop offset="0.125" stop-color="#4160b1"/><stop offset="0.156" stop-color="#405cae"/><stop offset="0.188" stop-color="#4162b2"/><stop offset="0.219" stop-color="#337aa8"/><stop offset="0.250" stop-color="#28a264"/><stop offset="0.281" stop-color="#2eaf51"/><stop offset="0.312" stop-color="#34b34d"/><stop offset="0.344" stop-color="#3bb54c"/><stop offset="0.375" stop-color="#40b64b"/><stop offset="0.406" stop-color="#5abd47"/><stop offset="0.438" stop-color="#7bc542"/><stop offset="0.469" stop-color="#acd53e"/><stop offset="0.500" stop-color="#ccdf3d"/><stop offset="0.531" stop-color="#e3e53c"/><stop offset="0.562" stop-color="#ebe83d"/><stop offset="0.594" stop-color="#f2ea3e"/><stop offset="0.625" stop-color="#eae83d"/><stop offset="0.656" stop-color="#e0e43c"/><stop offset="0.688" stop-color="#bbd93e"/><stop offset="0.719" stop-color="#88ca41"/><stop offset="0.750" stop-color="#5fbe46"/><stop offset="0.781" stop-color="#42b64b"/><stop offset="0.812" stop-color="#39b44c"/><stop offset="0.844" stop-color="#2fb14f"/><stop offset="0.875" stop-color="#28a85a"/><stop offset="0.906" stop-color="#2f829b"/><stop offset="0.938" stop-color="#4067b3"/><stop offset="0.969" stop-color="#405cae"/><stop offset="1.000" stop-color="#3f56aa"/></linearGradient>
<linearGradient id="g121"><stop offset="0.000" stop-color="#3d53a7"/><stop offset="0.031" stop-color="#3f58ab"/><stop offset="0.062" stop-color="#3f58ab"/><stop offset="0.094" stop-color="#3f59ac"/><stop offset="0.125" stop-color="#4160b1"/><stop offset="0.156" stop-color="#405cae"/><stop offset="0.188" stop-color="#4162b2"/><stop offset="0.219" stop-color="#337aa8"/><stop offset="0.250" stop-color="#28a264"/><stop offset="0.281" stop-color="#2eaf51"/><stop offset="0.312" stop-color="#34b34d"/><stop offset="0.344" stop-color="#3bb54c"/><stop offset="0.375" stop-color="#40b64b"/><stop offset="0.406" stop-color="#5abd47"/><stop offset="0.438" stop-color="#7bc542"/><stop offset="0.469" stop-color="#acd53e"/><stop offset="0.500" stop-color="#ccdf3d"/><stop offset="0.531" stop-color="#e3e53c"/><stop offset="0.562" stop-color="#ebe83d"/><stop offset="0.594" stop-color="#f2ea3e"/><stop offset="0.625" stop-color="#eae83d"/><stop offset="0.656" stop-color="#e0e43c"/><stop offset="0.688" stop-color="#bbd93e"/><stop offset="0.719" stop-color="#88ca41"/><stop offset="0.750" stop-color="#5fbe46"/><stop offset="0.781" stop-color="#42b64b"/><stop offset="0.812" stop-color="#39b44c"/><stop offset="0.844" stop-color="#2fb14f"/><stop offset="0.875" stop-color="#28a85a"/><stop offset="0.906" stop-color="#2f829b"/><stop offset="0.938" stop-color="#4067b3"/><stop offset="0.969" stop-color="#405cae"/><stop offset="1.000" stop-color="#3f56aa"/></linearGradient>
<linearGradient id="g122"><stop offset="0.000" stop-color="#3d53a7"/><stop offset="0.031" stop-color="#3f58ab"/><stop offset="0.062" stop-color="#3f58ab"/><stop offset="0.094" stop-color="#3f59ac"/><stop offset="0.125" stop-color="#4160b1"/><stop offset="0.156" stop-color="#405cae"/><stop offset="0.188" stop-color="#4162b2"/><stop offset="0.219" stop-color="#337aa8"/><stop offset="0.250" stop-color="#28a264"/><stop offset="0.281" stop-color="#2eaf51"/><stop offset="0.312" stop-color="#34b34d"/><stop offset="0.344" stop-color="#3bb54c"/><stop offset="0.375" stop-color="#40b64b"/><stop offset="0.406" stop-color="#5abd47"/><stop offset="0.438" stop-color="#7bc542"/><stop offset="0.469" stop-color="#acd53e"/><stop offset="0.500" stop-color="#ccdf3d"/><stop offset="0.531" stop-color="#e3e53c"/><stop offset="0.562" stop-color="#ebe83d"/><stop offset="0.594" stop-color="#f2ea3e"/><stop offset="0.625" stop-color="#eae83d"/><stop offset="0.656" stop-color="#e0e43c"/><stop offset="0.688" stop-color="#bbd93e"/><stop offset="0.719" stop-color="#88ca41"/><stop offset="0.750" stop-color="#5fbe46"/><stop offset="0.781" stop-color="#42b64b"/><stop offset="0.812" stop-color="#39b44c"/><stop offset="0.844" stop-color="#2fb14f"/><stop offset="0.875" stop-color="#28a85a"/><stop offset="0.906" stop-color="#2f829b"/><stop offset="0.938" stop-color="#4067b3"/><stop offset="0.969" stop-color="#405cae"/><stop offset="1.000" stop-color="#3f56aa"/></linearGradient>
<linearGradient id="g123"><stop offset="0.000" stop-color="#3d53a7"/><stop offset="0.031" stop-color="#3f58ab"/><stop offset="0.062" stop-color="#3f58ab"/><stop offset="0.094" stop-color="#3f59ac"/><stop offset="0.125" stop-color="#4160b1"/><stop offset="0.156" stop-color="#405cae"/><stop offset="0.188" stop-color="#4162b2"/><stop offset="0.219" stop-color="#337aa8"/><stop offset="0.250" stop-color="#28a264"/><stop offset="0.281" stop-color="#2eaf51"/><stop offset="0.312" stop-color="#34b34d"/><stop offset="0.344" stop-color="#3bb54c"/><stop offset="0.375" stop-color="#40b64b"/><stop offset="0.406" stop-color="#5abd47"/><stop offset="0.438" stop-color="#7bc542"/><stop offset="0.469" stop-color="#acd53e"/><stop offset="0.500" stop-color="#ccdf3d"/><stop offset="0.531" stop-color="#e3e53c"/><stop offset="0.562" stop-color="#ebe83d"/><stop offset="0.594" stop-color="#f2ea3e"/><stop offset="0.625" stop-color="#eae83d"/><stop offset="0.656" stop-color="#e0e43c"/><stop offset="0.688" stop-color="#bbd93e"/><stop offset="0.719" stop-color="#88ca41"/><stop offset="0.750" stop-color="#5fbe46"/><stop offset="0.781" stop-color="#42b64b"/><stop offset="0.812" stop-color="#39b44c"/><stop offset="0.844" stop-color="#2fb14f"/><stop offset="0.875" stop-color="#28a85a"/><stop offset="0.906" stop-color="#2f829b"/><stop offset="0.938" stop-color="#4067b3"/><stop offset="0.969" stop-color="#405cae"/><stop offset="1.000" stop-color="#3f56aa"/></linearGradient>
<linearGradient id="g124"><stop offset="0.000" stop-color="#3d53a7"/><stop offset="0.031" stop-color="#3f58ab"/><stop offset="0.062" stop-color="#3f58ab"/><stop offset="0.094" stop-color="#3f59ac"/><stop offset="0.125" stop-color="#4160b1"/><stop offset="0.156" stop-color="#405cae"/><stop offset="0.188" stop-color="#4162b2"/><stop offset="0.219" stop-color="#337aa8"/><stop offset="0.250" stop-color="#28a264"/><stop offset="0.281" stop-color="#2eaf51"/><stop offset="0.312" stop-color="#34b34d"/><stop offset="0.344" stop-color="#3bb54c"/><stop offset="0.375" stop-color="#40b64b"/><stop offset="0.406" stop-color="#5abd47"/><stop offset="0.438" stop-color="#7bc542"/><stop offset="0.469" stop-color="#acd53e"/><stop offset="0.500" stop-color="#ccdf3d"/><stop offset="0.531" stop-color="#e3e53c"/><stop offset="0.562" stop-color="#ebe83d"/><stop offset="0.594" stop-color="#f2ea3e"/><stop offset="0.625" stop-color="#eae83d"/><stop offset="0.656" stop-color="#e0e43c"/><stop offset="0.688" stop-color="#bbd93e"/><stop offset="0.719" stop-color="#88ca41"/><stop offset="0.750" stop-color="#5fbe46"/><stop offset="0.781" stop-color="#42b64b"/><stop offset="0.812" stop-color="#39b44c"/><stop offset="0.844" stop-color="#2fb14f"/><stop offset="0.875" stop-color="#28a85a"/><stop offset="0.906" stop-color="#2f829b"/><stop offset="0.938" stop-color="#4067b3"/><stop offset="0.969" stop-color="#405cae"/><stop offset="1.000" stop-color="#3f56aa"/></linearGradient>
<linearGradient id="g125"><stop offset="0.000" stop-color="#3d53a7"/><stop offset="0.031" stop-color="#3f58ab"/><stop offset="0.062" stop-color="#3f58ab"/><stop offset="0.094" stop-color="#3f59ac"/><stop offset="0.125" stop-color="#4160b1"/><stop offset="0.156" stop-color="#405cae"/><stop offset="0.188" stop-color="#4162b2"/><stop offset="0.219" stop-color="#337aa8"/><stop offset="0.250" stop-color="#28a264"/><stop offset="0.281" stop-color="#2eaf51"/><stop offset="0.312" stop-color="#34b34d"/><stop offset="0.344" stop-color="#3bb54c"/><stop offset="0.375" stop-color="#40b64b"/><stop offset="0.406" stop-color="#5abd47"/><stop offset="0.438" stop-color="#7bc542"/><stop offset="0.469" stop-color="#acd53e"/><stop offset="0.500" stop-color="#ccdf3d"/><stop offset="0.531" stop-color="#e3e53c"/><stop offset="0.562" stop-color="#ebe83d"/><stop offset="0.594" stop-color="#f2ea3e"/><stop offset="0.625" stop-color="#eae83d"/><stop offset="0.656" stop-color="#e0e43c"/><stop offset="0.688" stop-color="#bbd93e"/><stop offset="0.719" stop-color="#88ca41"/><stop offset="0.750" stop-color="#5fbe46"/><stop offset="0.781" stop-color="#42b64b"/><stop offset="0.812" stop-color="#39b44c"/><stop offset="0.844" stop-color="#2fb14f"/><stop offset="0.875" stop-color="#28a85a"/><stop offset="0.906" stop-color="#2f829b"/><stop offset="0.938" stop-color="#4067b3"/><stop offset="0.969" stop-color="#405cae"/><stop offset="1.000" stop-color="#3f56aa"/></linearGradient>
<linearGradient id="g126"><stop offset="0.000" stop-color="#3d53a7"/><stop offset="0.031" stop-color="#3f58ab"/><stop offset="0.062" stop-color="#3f58ab"/><stop offset="0.094" stop-color="#3f59ac"/><stop offset="0.125" stop-color="#4160b1"/><stop offset="0.156" stop-color="#405cae"/><stop offset="0.188" stop-color="#4162b2"/><stop offset="0.219" stop-color="#337aa8"/><stop offset="0.250" stop-color="#28a264"/><stop offset="0.281" stop-color="#2eaf51"/><stop offset="0.312" stop-color="#34b34d"/><stop offset="0.344" stop-color="#3bb54c"/><stop offset="0.375" stop-color="#40b64b"/><stop offset="0.406" stop-color="#5abd47"/><stop offset="0.438" stop-color="#7bc542"/><stop offset="0.469" stop-color="#acd53e"/><stop offset="0.500" stop-color="#ccdf3d"/><stop offset="0.531" stop-color="#e3e53c"/><stop offset="0.562" stop-color="#ebe83d"/><stop offset="0.594" stop-color="#f2ea3e"/><stop offset="0.625" stop-color="#eae83d"/><stop offset="0.656" stop-color="#e0e43c"/><stop offset="0.688" stop-color="#bbd93e"/><stop offset="0.719" stop-color="#88ca41"/><stop offset="0.750" stop-color="#5fbe46"/><stop offset="0.781" stop-color="#42b64b"/><stop offset="0.812" stop-color="#39b44c"/><stop offset="0.844" stop-color="#2fb14f"/><stop offset="0.875" stop-color="#28a85a"/><stop offset="0.906" stop-color="#2f829b"/><stop offset="0.938" stop-color="#4067b3"/><stop offset="0.969" stop-color="#405cae"/><stop offset="1.000" stop-color="#3f56aa"/></linearGradient>
<linearGradient id="g127"><stop offset="0.000" stop-color="#3d53a7"/><stop offset="0.031" stop-color="#3f58ab"/><stop offset="0.062" stop-color="#3f58ab"/><stop offset="0.094" stop-color="#3f59ac"/><stop offset="0.125" stop-color="#4160b1"/><stop offset="0.156" stop-color="#405cae"/><stop offset="0.188" stop-color="#4162b2"/><stop offset="0.219" stop-color="#337aa8"/><stop offset="0.250" stop-color="#28a264"/><stop offset="0.281" stop-color="#2eaf51"/><stop offset="0.312" stop-color="#34b34d"/><stop offset="0.344" stop-color="#3bb54c"/><stop offset="0.375" stop-color="#40b64b"/><stop offset="0.406" stop-color="#5abd47"/><stop offset="0.438" stop-color="#7bc542"/><stop offset="0.469" stop-color="#acd53e"/><stop offset="0.500" stop-color="#ccdf3d"/><stop offset="0.531" stop-color="#e3e53c"/><stop offset="0.562" stop-color="#ebe83d"/><stop offset="0.594" stop-color="#f2ea3e"/><stop offset="0.625" stop-color="#eae83d"/><stop offset="0.656" stop-color="#e0e43c"/><stop offset="0.688" stop-color="#bbd93e"/><stop offset="0.719" stop-color="#88ca41"/><stop offset="0.750" stop-color="#5fbe46"/><stop offset="0.781" stop-color="#42b64b"/><stop offset="0.812" stop-color="#39b44c"/><stop offset="0.844" stop-color="#2fb14f"/><stop offset="0.875" stop-color="#28a85a"/><stop offset="0.906" stop-color="#2f829b"/><stop offset="0.938" stop-color="#4067b3"/><stop offset="0.969" stop-color="#405cae"/><stop offset="1.000" stop-color="#3f56aa"/></linearGradient>
<linearGradient id="g128"><stop offset="0.000" stop-color="#3d53a7"/><stop offset="0.031" stop-color="#3f58ab"/><stop offset="0.062" stop-color="#3f58ab"/><stop offset="0.094" stop-color="#3f59ac"/><stop offset="0.125" stop-color="#4160b1"/><stop offset="0.156" stop-color="#405cae"/><stop offset="0.188" stop-color="#4162b2"/><stop offset="0.219" stop-color="#337aa8"/><stop offset="0.250" stop-color="#28a264"/><stop offset="0.281" stop-color="#2eaf51"/><stop offset="0.312" stop-color="#34b34d"/><stop offset="0.344" stop-color="#3bb54c"/><stop offset="0.375" stop-color="#40b64b"/><stop offset="0.406" stop-color="#5abd47"/><stop offset="0.438" stop-color="#7bc542"/><stop offset="0.469" stop-color="#acd53e"/><stop offset="0.500" stop-color="#ccdf3d"/><stop offset="0.531" stop-color="#e3e53c"/><stop offset="0.562" stop-color="#ebe83d"/><stop offset="0.594" stop-color="#f2ea3e"/><stop offset="0.625" stop-color="#eae83d"/><stop offset="0.656" stop-color="#e0e43c"/><stop offset="0.688" stop-color="#bbd93e"/><stop offset="0.719" stop-color="#88ca41"/><stop offset="0.750" stop-color="#5fbe46"/><stop offset="0.781" stop-color="#42b64b"/><stop offset="0.812" stop-color="#39b44c"/><stop offset="0.844" stop-color="#2fb14f"/><stop offset="0.875" stop-color="#28a85a"/><stop offset="0.906" stop-color="#2f829b"/><stop offset="0.938" stop-color="#4067b3"/><stop offset="0.969" stop-color="#405cae"/><stop offset="1.000" stop-color="#3f56aa"/></linearGradient>
<linearGradient id="g129"><stop offset="0.000" stop-color="#3d53a7"/><stop offset="0.031" stop-color="#3f58ab"/><stop offset="0.062" stop-color="#3f58ab"/><stop offset="0.094" stop-color="#3f59ac"/><stop offset="0.125" stop-color="#4160b1"/><stop offset="0.156" stop-color="#405cae"/><stop offset="0.188" stop-color="#4162b2"/><stop offset="0.219" stop-color="#337aa8"/><stop offset="0.250" stop-color="#28a264"/><stop offset="0.281" stop-color="#2eaf51"/><stop offset="0.312" stop-color="#34b34d"/><stop offset="0.344" stop-color="#3bb54c"/><stop offset="0.375" stop-color="#40b64b"/><stop offset="0.406" stop-color="#5abd47"/><stop offset="0.438" stop-color="#7bc542"/><stop offset="0.469" stop-color="#acd53e"/><stop offset="0.500" stop-color="#ccdf3d"/><stop offset="0.531" stop-color="#e3e53c"/><stop offset="0.562" stop-color="#ebe83d"/><stop offset="0.594" stop-color="#f2ea3e"/><stop offset="0.625" stop-color="#eae83d"/><stop offset="0.656" stop-color="#e0e43c"/><stop offset="0.688" stop-color="#bbd93e"/><stop offset="0.719" stop-color="#88ca41"/><stop offset="0.750" stop-color="#5fbe46"/><stop offset="0.781" stop-color="#42b64b"/><stop offset="0.812" stop-color="#39b44c"/><stop offset="0.844" stop-color="#2fb14f"/><stop offset="0.875" stop-color="#28a85a"/><stop offset="0.906" stop-color="#2f829b"/><stop offset="0.938" stop-color="#4067b3"/><stop offset="0.969" stop-color="#405cae"/><stop offset="1.000" stop-color="#3f56aa"/></linearGradient>
<linearGradient id="g130"><stop offset="0.000" stop-color="#3d53a7"/><stop offset="0.031" stop-color="#3f58ab"/><stop offset="0.062" stop-color="#3f58ab"/><stop offset="0.094" stop-color="#3f59ac"/><stop offset="0.125" stop-color="#4160b1"/><stop offset="0.156" stop-color="#405cae"/><stop offset="0.188" stop-color="#4162b2"/><stop offset="0.219" stop-color="#337aa8"/><stop offset="0.250" stop-color="#28a264"/><stop offset="0.281" stop-color="#2eaf51"/><stop offset="0.312" stop-color="#34b34d"/><stop offset="0.344" stop-color="#3bb54c"/><stop offset="0.375" stop-color="#40b64b"/><stop offset="0.406" stop-color="#5abd47"/><stop offset="0.438" stop-color="#7bc542"/><stop offset="0.469" stop-color="#acd53e"/><stop offset="0.500" stop-color="#ccdf3d"/><stop offset="0.531" stop-color="#e3e53c"/><stop offset="0.562" stop-color="#ebe83d"/><stop offset="0.594" stop-color="#f2ea3e"/><stop offset="0.625" stop-color="#eae83d"/><stop offset="0.656" stop-color="#e0e43c"/><stop offset="0.688" stop-color="#bbd93e"/><stop offset="0.719" stop-color="#88ca41"/><stop offset="0.750" stop-color="#5fbe46"/><stop offset="0.781" stop-color="#42b64b"/><stop offset="0.812" stop-color="#39b44c"/><stop offset="0.844" stop-color="#2fb14f"/><stop offset="0.875" stop-color="#28a85a"/><stop offset="0.906" stop-color="#2f829b"/><stop offset="0.938" stop-color="#4067b3"/><stop offset="0.969" stop-color="#405cae"/><stop offset="1.000" stop-color="#3f56aa"/></linearGradient>
<linearGradient id="g131"><stop offset="0.000" stop-color="#3d53a7"/><stop offset="0.031" stop-color="#3f58ab"/><stop offset="0.062" stop-color="#3f58ab"/><stop offset="0.094" stop-color="#3f59ac"/><stop offset="0.125" stop-color="#4160b1"/><stop offset="0.156" stop-color="#405cae"/><stop offset="0.188" stop-color="#4162b2"/><stop offset="0.219" stop-color="#337aa8"/><stop offset="0.250" stop-color="#28a264"/><stop offset="0.281" stop-color="#2eaf51"/><stop offset="0.312" stop-color="#34b34d"/><stop offset="0.344" stop-color="#3bb54c"/><stop offset="0.375" stop-color="#40b64b"/><stop offset="0.406" stop-color="#5abd47"/><stop offset="0.438" stop-color="#7bc542"/><stop offset="0.469" stop-color="#acd53e"/><stop offset="0.500" stop-color="#ccdf3d"/><stop offset="0.531" stop-color="#e3e53c"/><stop offset="0.562" stop-color="#ebe83d"/><stop offset="0.594" stop-color="#f2ea3e"/><stop offset="0.625" stop-color="#eae83d"/><stop offset="0.656" stop-color="#e0e43c"/><stop offset="0.688" stop-color="#bbd93e"/><stop offset="0.719" stop-color="#88ca41"/><stop offset="0.750" stop-color="#5fbe46"/><stop offset="0.781" stop-color="#42b64b"/><stop offset="0.812" stop-color="#39b44c"/><stop offset="0.844" stop-color="#2fb14f"/><stop offset="0.875" stop-color="#28a85a"/><stop offset="0.906" stop-color="#2f829b"/><stop offset="0.938" stop-color="#4067b3"/><stop offset="0.969" stop-color="#405cae"/><stop offset="1.000" stop-color="#3f56aa"/></linearGradient>
<linearGradient id="g132"><stop offset="0.000" stop-color="#3d53a7"/><stop offset="0.031" stop-color="#3f58ab"/><stop offset="0.062" stop-color="#3f58ab"/><stop offset="0.094" stop-color="#3f59ac"/><stop offset="0.125" stop-color="#4160b1"/><stop offset="0.156" stop-color="#405cae"/><stop offset="0.188" stop-color="#4162b2"/><stop offset="0.219" stop-color="#337aa8"/><stop offset="0.250" stop-color="#28a264"/><stop offset="0.281" stop-color="#2eaf51"/><stop offset="0.312" stop-color="#34b34d"/><stop offset="0.344" stop-color="#3bb54c"/><stop offset="0.375" stop-color="#40b64b"/><stop offset="0.406" stop-color="#5abd47"/><stop offset="0.438" stop-color="#7bc542"/><stop offset="0.469" stop-color="#acd53e"/><stop offset="0.500" stop-color="#ccdf3d"/><stop offset="0.531" stop-color="#e3e53c"/><stop offset="0.562" stop-color="#ebe83d"/><stop offset="0.594" stop-color="#f2ea3e"/><stop offset="0.625" stop-color="#eae83d"/><stop offset="0.656" stop-color="#e0e43c"/><stop offset="0.688" stop-color="#bbd93e"/><stop offset="0.719" stop-color="#88ca41"/><stop offset="0.750" stop-color="#5fbe46"/><stop offset="0.781" stop-color="#42b64b"/><stop offset="0.812" stop-color="#39b44c"/><stop offset="0.844" stop-color="#2fb14f"/><stop offset="0.875" stop-color="#28a85a"/><stop offset="0.906" stop-color="#2f829b"/><stop offset="0.938" stop-color="#4067b3"/><stop offset="0.969" stop-color="#405cae"/><stop offset="1.000" stop-color="#3f56aa"/></linearGradient>
<linearGradient id="g133"><stop offset="0.000" stop-color="#3d53a7"/><stop offset="0.031" stop-color="#3f58ab"/><stop offset="0.062" stop-color="#3f58ab"/><stop offset="0.094" stop-color="#3f59ac"/><stop offset="0.125" stop-color="#4160b1"/><stop offset="0.156" stop-color="#405cae"/><stop offset="0.188" stop-color="#4162b2"/><stop offset="0.219" stop-color="#337aa8"/><stop offset="0.250" stop-color="#28a264"/><stop offset="0.281" stop-color="#2eaf51"/><stop offset="0.312" stop-color="#34b34d"/><stop offset="0.344" stop-color="#3bb54c"/><stop offset="0.375" stop-color="#40b64b"/><stop offset="0.406" stop-color="#5abd47"/><stop offset="0.438" stop-color="#7bc542"/><stop offset="0.469" stop-color="#acd53e"/><stop offset="0.500" stop-color="#ccdf3d"/><stop offset="0.531" stop-color="#e3e53c"/><stop offset="0.562" stop-color="#ebe83d"/><stop offset="0.594" stop-color="#f2ea3e"/><stop offset="0.625" stop-color="#eae83d"/><stop offset="0.656" stop-color="#e0e43c"/><stop offset="0.688" stop-color="#bbd93e"/><stop offset="0.719" stop-color="#88ca41"/><stop offset="0.750" stop-color="#5fbe46"/><stop offset="0.781" stop-color="#42b64b"/><stop offset="0.812" stop-color="#39b44c"/><stop offset="0.844" stop-color="#2fb14f"/><stop offset="0.875" stop-color="#28a85a"/><stop offset="0.906" stop-color="#2f829b"/><stop offset="0.938" stop-color="#4067b3"/><stop offset="0.969" stop-color="#405cae"/><stop offset="1.000" stop-color="#3f56aa"/></linearGradient>
<linearGradient id="g134"><stop offset="0.000" stop-color="#3d53a7"/><stop offset="0.031" stop-color="#3f58ab"/><stop offset="0.062" stop-color="#3f58ab"/><stop offset="0.094" stop-color="#3f59ac"/><stop offset="0.125" stop-color="#4160b1"/><stop offset="0.156" stop-color="#405cae"/><stop offset="0.188" stop-color="#4162b2"/><stop offset="0.219" stop-color="#337aa8"/><stop offset="0.250" stop-color="#28a264"/><stop offset="0.281" stop-color="#2eaf51"/><stop offset="0.312" stop-color="#34b34d"/><stop offset="0.344" stop-color="#3bb54c"/><stop offset="0.375" stop-color="#40b64b"/><stop offset="0.406" stop-color="#5abd47"/><stop offset="0.438" stop-color="#7bc542"/><stop offset="0.469" stop-color="#acd53e"/><stop offset="0.500" stop-color="#ccdf3d"/><stop offset="0.531" stop-color="#e3e53c"/><stop offset="0.562" stop-color="#ebe83d"/><stop offset="0.594" stop-color="#f2ea3e"/><stop offset="0.625" stop-color="#eae83d"/><stop offset="0.656" stop-color="#e0e43c"/><stop offset="0.688" stop-color="#bbd93e"/><stop offset="0.719" stop-color="#88ca41"/><stop offset="0.750" stop-color="#5fbe46"/><stop offset="0.781" stop-color="#42b64b"/><stop offset="0.812" stop-color="#39b44c"/><stop offset="0.844" stop-color="#2fb14f"/><stop offset="0.875" stop-color="#28a85a"/><stop offset="0.906" stop-color="#2f829b"/><stop offset="0.938" stop-color="#4067b3"/><stop offset="0.969" stop-color="#405cae"/><stop offset="1.000" stop-color="#3f56aa"/></linearGradient>
<linearGradient id="g135"><stop offset="0.000" stop-color="#3d53a7"/><stop offset="0.031" stop-color="#3f58ab"/><stop offset="0.062" stop-color="#3f58ab"/><stop offset="0.094" stop-color="#3f59ac"/><stop offset="0.125" stop-color="#4160b1"/><stop offset="0.156" stop-color="#405cae"/><stop offset="0.188" stop-color="#4162b2"/><stop offset="0.219" stop-color="#337aa8"/><stop offset="0.250" stop-color="#28a264"/><stop offset="0.281" stop-color="#2eaf51"/><stop offset="0.312" stop-color="#34b34d"/><stop offset="0.344" stop-color="#3bb54c"/><stop offset="0.375" stop-color="#40b64b"/><stop offset="0.406" stop-color="#5abd47"/><stop offset="0.438" stop-color="#7bc542"/><stop offset="0.469" stop-color="#acd53e"/><stop offset="0.500" stop-color="#ccdf3d"/><stop offset="0.531" stop-color="#e3e53c"/><stop offset="0.562" stop-color="#ebe83d"/><stop offset="0.594" stop-color="#f2ea3e"/><stop offset="0.625" stop-color="#eae83d"/><stop offset="0.656" stop-color="#e0e43c"/><stop offset="0.688" stop-color="#bbd93e"/><stop offset="0.719" stop-color="#88ca41"/><stop offset="0.750" stop-color="#5fbe46"/><stop offset="0.781" stop-color="#42b64b"/><stop offset="0.812" stop-color="#39b44c"/><stop offset="0.844" stop-color="#2fb14f"/><stop offset="0.875" stop-color="#28a85a"/><stop offset="0.906" stop-color="#2f829b"/><stop offset="0.938" stop-color="#4067b3"/><stop offset="0.969" stop-color="#405cae"/><stop offset="1.000" stop-color="#3f56aa"/></linearGradient>
<linearGradient id="g136"><stop offset="0.000" stop-color="#3d53a7"/><stop offset="0.031" stop-color="#3f58ab"/><stop offset="0.062" stop-color="#3f58ab"/><stop offset="0.094" stop-color="#3f59ac"/><stop offset="0.125" stop-color="#4160b1"/><stop offset="0.156" stop-color="#405cae"/><stop offset="0.188" stop-color="#4162b2"/><stop offset="0.219" stop-color="#337aa8"/><stop offset="0.250" stop-color="#28a264"/><stop offset="0.281" stop-color="#2eaf51"/><stop offset="0.312" stop-color="#34b34d"/><stop offset="0.344" stop-color="#3bb54c"/><stop offset="0.375" stop-color="#40b64b"/><stop offset="0.406" stop-color="#5abd47"/><stop offset="0.438" stop-color="#7bc542"/><stop offset="0.469" stop-color="#acd53e"/><stop offset="0.500" stop-color="#ccdf3d"/><stop offset="0.531" stop-color="#e3e53c"/><stop offset="0.562" stop-color="#ebe83d"/><stop offset="0.594" stop-color="#f2ea3e"/><stop offset="0.625" stop-color="#eae83d"/><stop offset="0.656" stop-color="#e0e43c"/><stop offset="0.688" stop-color="#bbd93e"/><stop offset="0.719" stop-color="#88ca41"/><stop offset="0.750" stop-color="#5fbe46"/><stop offset="0.781" stop-color="#42b64b"/><stop offset="0.812" stop-color="#39b44c"/><stop offset="0.844" stop-color="#2fb14f"/><stop offset="0.875" stop-color="#28a85a"/><stop offset="0.906" stop-color="#2f829b"/><stop offset="0.938" stop-color="#4067b3"/><stop offset="0.969" stop-color="#405cae"/><stop offset="1.000" stop-color="#3f56aa"/></linearGradient>
<linearGradient id="g137"><stop offset="0.000" stop-color="#3d53a7"/><stop offset="0.031" stop-color="#3f58ab"/><stop offset="0.062" stop-color="#3f58ab"/><stop offset="0.094" stop-color="#3f59ac"/><stop offset="0.125" stop-color="#4160b1"/><stop offset="0.156" stop-color="#405cae"/><stop offset="0.188" stop-color="#4162b2"/><stop offset="0.219" stop-color="#337aa8"/><stop offset="0.250" stop-color="#28a264"/><stop offset="0.281" stop-color="#2eaf51"/><stop offset="0.312" stop-color="#34b34d"/><stop offset="0.344" stop-color="#3bb54c"/><stop offset="0.375" stop-color="#40b64b"/><stop offset="0.406" stop-color="#5abd47"/><stop offset="0.438" stop-color="#7bc542"/><stop offset="0.469" stop-color="#acd53e"/><stop offset="0.500" stop-color="#ccdf3d"/><stop offset="0.531" stop-color="#e3e53c"/><stop offset="0.562" stop-color="#ebe83d"/><stop offset="0.594" stop-color="#f2ea3e"/><stop offset="0.625" stop-color="#eae83d"/><stop offset="0.656" stop-color="#e0e43c"/><stop offset="0.688" stop-color="#bbd93e"/><stop offset="0.719" stop-color="#88ca41"/><stop offset="0.750" stop-color="#5fbe46"/><stop offset="0.781" stop-color="#42b64b"/><stop offset="0.812" stop-color="#39b44c"/><stop offset="0.844" stop-color="#2fb14f"/><stop offset="0.875" stop-color="#28a85a"/><stop offset="0.906" stop-color="#2f829b"/><stop offset="0.938" stop-color="#4067b3"/><stop offset="0.969" stop-color="#405cae"/><stop offset="1.000" stop-color="#3f56aa"/></linearGradient>
<linearGradient id="g138"><stop offset="0.000" stop-color="#3d53a7"/><stop offset="0.031" stop-color="#3f58ab"/><stop offset="0.062" stop-color="#3f58ab"/><stop offset="0.094" stop-color="#3f59ac"/><stop offset="0.125" stop-color="#4160b1"/><stop offset="0.156" stop-color="#405cae"/><stop offset="0.188" stop-color="#4162b2"/><stop offset="0.219" stop-color="#337aa8"/><stop offset="0.250" stop-color="#28a264"/><stop offset="0.281" stop-color="#2eaf51"/><stop offset="0.312" stop-color="#34b34d"/><stop offset="0.344" stop-color="#3bb54c"/><stop offset="0.375" stop-color="#40b64b"/><stop offset="0.406" stop-color="#5abd47"/><stop offset="0.438" stop-color="#7bc542"/><stop offset="0.469" stop-color="#acd53e"/><stop offset="0.500" stop-color="#ccdf3d"/><stop offset="0.531" stop-color="#e3e53c"/><stop offset="0.562" stop-color="#ebe83d"/><stop offset="0.594" stop-color="#f2ea3e"/><stop offset="0.625" stop-color="#eae83d"/><stop offset="0.656" stop-color="#e0e43c"/><stop offset="0.688" stop-color="#bbd93e"/><stop offset="0.719" stop-color="#88ca41"/><stop offset="0.750" stop-color="#5fbe46"/><stop offset="0.781" stop-color="#42b64b"/><stop offset="0.812" stop-color="#39b44c"/><stop offset="0.844" stop-color="#2fb14f"/><stop offset="0.875" stop-color="#28a85a"/><stop offset="0.906" stop-color="#2f829b"/><stop offset="0.938" stop-color="#4067b3"/><stop offset="0.969" stop-color="#405cae"/><stop offset="1.000" stop-color="#3f56aa"/></linearGradient>
<linearGradient id="g139"><stop offset="0.000" stop-color="#3d53a7"/><stop offset="0.031" stop-color="#3f58ab"/><stop offset="0.062" stop-color="#3f58ab"/><stop offset="0.094" stop-color="#3f59ac"/><stop offset="0.125" stop-color="#4160b1"/><stop offset="0.156" stop-color="#405cae"/><stop offset="0.188" stop-color="#4162b2"/><stop offset="0.219" stop-color="#337aa8"/><stop offset="0.250" stop-color="#28a264"/><stop offset="0.281" stop-color="#2eaf51"/><stop offset="0.312" stop-color="#34b34d"/><stop offset="0.344" stop-color="#3bb54c"/><stop offset="0.375" stop-color="#40b64b"/><stop offset="0.406" stop-color="#5abd47"/><stop offset="0.438" stop-color="#7bc542"/><stop offset="0.469" stop-color="#acd53e"/><stop offset="0.500" stop-color="#ccdf3d"/><stop offset="0.531" stop-color="#e3e53c"/><stop offset="0.562" stop-color="#ebe83d"/><stop offset="0.594" stop-color="#f2ea3e"/><stop offset="0.625" stop-color="#eae83d"/><stop offset="0.656" stop-color="#e0e43c"/><stop offset="0.688" stop-color="#bbd93e"/><stop offset="0.719" stop-color="#88ca41"/><stop offset="0.750" stop-color="#5fbe46"/><stop offset="0.781" stop-color="#42b64b"/><stop offset="0.812" stop-color="#39b44c"/><stop offset="0.844" stop-color="#2fb14f"/><stop offset="0.875" stop-color="#28a85a"/><stop offset="0.906" stop-color="#2f829b"/><stop offset="0.938" stop-color="#4067b3"/><stop offset="0.969" stop-color="#405cae"/><stop offset="1.000" stop-color="#3f56aa"/></linearGradient>
<linearGradient id="g140"><stop offset="0.000" stop-color="#3d53a7"/><stop offset="0.031" stop-color="#3f58ab"/><stop offset="0.062" stop-color="#3f58ab"/><stop offset="0.094" stop-color="#3f59ac"/><stop offset="0.125" stop-color="#4160b1"/><stop offset="0.156" stop-color="#405cae"/><stop offset="0.188" stop-color="#4162b2"/><stop offset="0.219" stop-color="#337aa8"/><stop offset="0.250" stop-color="#28a264"/><stop offset="0.281" stop-color="#2eaf51"/><stop offset="0.312" stop-color="#34b34d"/><stop offset="0.344" stop-color="#3bb54c"/><stop offset="0.375" stop-color="#40b64b"/><stop offset="0.406" stop-color="#5abd47"/><stop offset="0.438" stop-color="#7bc542"/><stop offset="0.469" stop-color="#acd53e"/><stop offset="0.500" stop-color="#ccdf3d"/><stop offset="0.531" stop-color="#e3e53c"/><stop offset="0.562" stop-color="#ebe83d"/><stop offset="0.594" stop-color="#f2ea3e"/><stop offset="0.625" stop-color="#eae83d"/><stop offset="0.656" stop-color="#e0e43c"/><stop offset="0.688" stop-color="#bbd93e"/><stop offset="0.719" stop-color="#88ca41"/><stop offset="0.750" stop-color="#5fbe46"/><stop offset="0.781" stop-color="#42b64b"/><stop offset="0.812" stop-color="#39b44c"/><stop offset="0.844" stop-color="#2fb14f"/><stop offset="0.875" stop-color="#28a85a"/><stop offset="0.906" stop-color="#2f829b"/><stop offset="0.938" stop-color="#4067b3"/><stop offset="0.969" stop-color="#405cae"/><stop offset="1.000" stop-color="#3f56aa"/></linearGradient>
<linearGradient id="g141"><stop offset="0.000" stop-color="#3d53a7"/><stop offset="0.031" stop-color="#3f58ab"/><stop offset="0.062" stop-color="#3f58ab"/><stop offset="0.094" stop-color="#3f59ac"/><stop offset="0.125" stop-color="#4160b1"/><stop offset="0.156" stop-color="#405cae"/><stop offset="0.188" stop-color="#4162b2"/><stop offset="0.219" stop-color="#337aa8"/><stop offset="0.250" stop-color="#28a264"/><stop offset="0.281" stop-color="#2eaf51"/><stop offset="0.312" stop-color="#34b34d"/><stop offset="0.344" stop-color="#3bb54c"/><stop offset="0.375" stop-color="#40b64b"/><stop offset="0.406" stop-color="#5abd47"/><stop offset="0.438" stop-color="#7bc542"/><stop offset="0.469" stop-color="#acd53e"/><stop offset="0.500" stop-color="#ccdf3d"/><stop offset="0.531" stop-color="#e3e53c"/><stop offset="0.562" stop-color="#ebe83d"/><stop offset="0.594" stop-color="#f2ea3e"/><stop offset="0.625" stop-color="#eae83d"/><stop offset="0.656" stop-color="#e0e43c"/><stop offset="0.688" stop-color="#bbd93e"/><stop offset="0.719" stop-color="#88ca41"/><stop offset="0.750" stop-color="#5fbe46"/><stop offset="0.781" stop-color="#42b64b"/><stop offset="0.812" stop-color="#39b44c"/><stop offset="0.844" stop-color="#2fb14f"/><stop offset="0.875" stop-color="#28a85a"/><stop offset="0.906" stop-color="#2f829b"/><stop offset="0.938" stop-color="#4067b3"/><stop offset="0.969" stop-color="#405cae"/><stop offset="1.000" stop-color="#3f56aa"/></linearGradient>
<linearGradient id="g142"><stop offset="0.000" stop-color="#3d53a7"/><stop offset="0.031" stop-color="#3f58ab"/><stop offset="0.062" stop-color="#3f58ab"/><stop offset="0.094" stop-color="#3f59ac"/><stop offset="0.125" stop-color="#4160b1"/><stop offset="0.156" stop-color="#405cae"/><stop offset="0.188" stop-color="#4162b2"/><stop offset="0.219" stop-color="#337aa8"/><stop offset="0.250" stop-color="#28a264"/><stop offset="0.281" stop-color="#2eaf51"/><stop offset="0.312" stop-color="#34b34d"/><stop offset="0.344" stop-color="#3bb54c"/><stop offset="0.375" stop-color="#40b64b"/><stop offset="0.406" stop-color="#5abd47"/><stop offset="0.438" stop-color="#7bc542"/><stop offset="0.469" stop-color="#acd53e"/><stop offset="0.500" stop-color="#ccdf3d"/><stop offset="0.531" stop-color="#e3e53c"/><stop offset="0.562" stop-color="#ebe83d"/><stop offset="0.594" stop-color="#f2ea3e"/><stop offset="0.625" stop-color="#eae83d"/><stop offset="0.656" stop-color="#e0e43c"/><stop offset="0.688" stop-color="#bbd93e"/><stop offset="0.719" stop-color="#88ca41"/><stop offset="0.750" stop-color="#5fbe46"/><stop offset="0.781" stop-color="#42b64b"/><stop offset="0.812" stop-color="#39b44c"/><stop offset="0.844" stop-color="#2fb14f"/><stop offset="0.875" stop-color="#28a85a"/><stop offset="0.906" stop-color="#2f829b"/><stop offset="0.938" stop-color="#4067b3"/><stop offset="0.969" stop-color="#405cae"/><stop offset="1.000" stop-color="#3f56aa"/></linearGradient>
<linearGradient id="g143"><stop offset="0.000" stop-color="#3d53a7"/><stop offset="0.031" stop-color="#3f58ab"/><stop offset="0.062" stop-color="#3f58ab"/><stop offset="0.094" stop-color="#3f59ac"/><stop offset="0.125" stop-color="#4160b1"/><stop offset="0.156" stop-color="#405cae"/><stop offset="0.188" stop-color="#4162b2"/><stop offset="0.219" stop-color="#337aa8"/><stop offset="0.250" stop-color="#28a264"/><stop offset="0.281" stop-color="#2eaf51"/><stop offset="0.312" stop-color="#34b34d"/><stop offset="0.344" stop-color="#3bb54c"/><stop offset="0.375" stop-color="#40b64b"/><stop offset="0.406" stop-color="#5abd47"/><stop offset="0.438" stop-color="#7bc542"/><stop offset="0.469" stop-color="#acd53e"/><stop offset="0.500" stop-color="#ccdf3d"/><stop offset="0.531" stop-color="#e3e53c"/><stop offset="0.562" stop-color="#ebe83d"/><stop offset="0.594" stop-color="#f2ea3e"/><stop offset="0.625" stop-color="#eae83d"/><stop offset="0.656" stop-color="#e0e43c"/><stop offset="0.688" stop-color="#bbd93e"/><stop offset="0.719" stop-color="#88ca41"/><stop offset="0.750" stop-color="#5fbe46"/><stop offset="0.781" stop-color="#42b64b"/><stop offset="0.812" stop-color="#39b44c"/><stop offset="0.844" stop-color="#2fb14f"/><stop offset="0.875" stop-color="#28a85a"/><stop offset="0.906" stop-color="#2f829b"/><stop offset="0.938" stop-color="#4067b3"/><stop offset="0.969" stop-color="#405cae"/><stop offset="1.000" stop-color="#3f56aa"/></linearGradient>
<linearGradient id="g144"><stop offset="0.000" stop-color="#3d53a7"/><stop offset="0.031" stop-color="#3f58ab"/><stop offset="0.062" stop-color="#3f58ab"/><stop offset="0.094" stop-color="#3f59ac"/><stop offset="0.125" stop-color="#4160b1"/><stop offset="0.156" stop-color="#405cae"/><stop offset="0.188" stop-color="#4162b2"/><stop offset="0.219" stop-color="#337aa8"/><stop offset="0.250" stop-color="#28a264"/><stop offset="0.281" stop-color="#2eaf51"/><stop offset="0.312" stop-color="#34b34d"/><stop offset="0.344" stop-color="#3bb54c"/><stop offset="0.375" stop-color="#40b64b"/><stop offset="0.406" stop-color="#5abd47"/><stop offset="0.438" stop-color="#7bc542"/><stop offset="0.469" stop-color="#acd53e"/><stop offset="0.500" stop-color="#ccdf3d"/><stop offset="0.531" stop-color="#e3e53c"/><stop offset="0.562" stop-color="#ebe83d"/><stop offset="0.594" stop-color="#f2ea3e"/><stop offset="0.625" stop-color="#eae83d"/><stop offset="0.656" stop-color="#e0e43c"/><stop offset="0.688" stop-color="#bbd93e"/><stop offset="0.719" stop-color="#88ca41"/><stop offset="0.750" stop-color="#5fbe46"/><stop offset="0.781" stop-color="#42b64b"/><stop offset="0.812" stop-color="#39b44c"/><stop offset="0.844" stop-color="#2fb14f"/><stop offset="0.875" stop-color="#28a85a"/><stop offset="0.906" stop-color="#2f829b"/><stop offset="0.938" stop-color="#4067b3"/><stop offset="0.969" stop-color="#405cae"/><stop offset="1.000" stop-color="#3f56aa"/></linearGradient>
<linearGradient id="g145"><stop offset="0.000" stop-color="#3d53a7"/><stop offset="0.031" stop-color="#3f58ab"/><stop offset="0.062" stop-color="#3f58ab"/><stop offset="0.094" stop-color="#3f59ac"/><stop offset="0.125" stop-color="#4160b1"/><stop offset="0.156" stop-color="#405cae"/><stop offset="0.188" stop-color="#4162b2"/><stop offset="0.219" stop-color="#337aa8"/><stop offset="0.250" stop-color="#28a264"/><stop offset="0.281" stop-color="#2eaf51"/><stop offset="0.312" stop-color="#34b34d"/><stop offset="0.344" stop-color="#3bb54c"/><stop offset="0.375" stop-color="#40b64b"/><stop offset="0.406" stop-color="#5abd47"/><stop offset="0.438" stop-color="#7bc542"/><stop offset="0.469" stop-color="#acd53e"/><stop offset="0.500" stop-color="#ccdf3d"/><stop offset="0.531" stop-color="#e3e53c"/><stop offset="0.562" stop-color="#ebe83d"/><stop offset="0.594" stop-color="#f2ea3e"/><stop offset="0.625" stop-color="#eae83d"/><stop offset="0.656" stop-color="#e0e43c"/><stop offset="0.688" stop-color="#bbd93e"/><stop offset="0.719" stop-color="#88ca41"/><stop offset="0.750" stop-color="#5fbe46"/><stop offset="0.781" stop-color="#42b64b"/><stop offset="0.812" stop-color="#39b44c"/><stop offset="0.844" stop-color="#2fb14f"/><stop offset="0.875" stop-color="#28a85a"/><stop offset="0.906" stop-color="#2f829b"/><stop offset="0.938" stop-color="#4067b3"/><stop offset="0.969" stop-color="#405cae"/><stop offset="1.000" stop-color="#3f56aa"/></linearGradient>
<linearGradient id="g146"><stop offset="0.000" stop-color="#3d53a7"/><stop offset="0.031" stop-color="#3f58ab"/><stop offset="0.062" stop-color="#3f58ab"/><stop offset="0.094" stop-color="#3f59ac"/><stop offset="0.125" stop-color="#4160b1"/><stop offset="0.156" stop-color="#405cae"/><stop offset="0.188" stop-color="#4162b2"/><stop offset="0.219" stop-color="#337aa8"/><stop offset="0.250" stop-color="#28a264"/><stop offset="0.281" stop-color="#2eaf51"/><stop offset="0.312" stop-color="#34b34d"/><stop offset="0.344" stop-color="#3bb54c"/><stop offset="0.375" stop-color="#40b64b"/><stop offset="0.406" stop-color="#5abd47"/><stop offset="0.438" stop-color="#7bc542"/><stop offset="0.469" stop-color="#acd53e"/><stop offset="0.500" stop-color="#ccdf3d"/><stop offset="0.531" stop-color="#e3e53c"/><stop offset="0.562" stop-color="#ebe83d"/><stop offset="0.594" stop-color="#f2ea3e"/><stop offset="0.625" stop-color="#eae83d"/><stop offset="0.656" stop-color="#e0e43c"/><stop offset="0.688" stop-color="#bbd93e"/><stop offset="0.719" stop-color="#88ca41"/><stop offset="0.750" stop-color="#5fbe46"/><stop offset="0.781" stop-color="#42b64b"/><stop offset="0.812" stop-color="#39b44c"/><stop offset="0.844" stop-color="#2fb14f"/><stop offset="0.875" stop-color="#28a85a"/><stop offset="0.906" stop-color="#2f829b"/><stop offset="0.938" stop-color="#4067b3"/><stop offset="0.969" stop-color="#405cae"/><stop offset="1.000" stop-color="#3f56aa"/></linearGradient>
<linearGradient id="g147"><stop offset="0.000" stop-color="#3d53a7"/><stop offset="0.031" stop-color="#3f58ab"/><stop offset="0.062" stop-color="#3f58ab"/><stop offset="0.094" stop-color="#3f59ac"/><stop offset="0.125" stop-color="#4160b1"/><stop offset="0.156" stop-color="#405cae"/><stop offset="0.188" stop-color="#4162b2"/><stop offset="0.219" stop-color="#337aa8"/><stop offset="0.250" stop-color="#28a264"/><stop offset="0.281" stop-color="#2eaf51"/><stop offset="0.312" stop-color="#34b34d"/><stop offset="0.344" stop-color="#3bb54c"/><stop offset="0.375" stop-color="#40b64b"/><stop offset="0.406" stop-color="#5abd47"/><stop offset="0.438" stop-color="#7bc542"/><stop offset="0.469" stop-color="#acd53e"/><stop offset="0.500" stop-color="#ccdf3d"/><stop offset="0.531" stop-color="#e3e53c"/><stop offset="0.562" stop-color="#ebe83d"/><stop offset="0.594" stop-color="#f2ea3e"/><stop offset="0.625" stop-color="#eae83d"/><stop offset="0.656" stop-color="#e0e43c"/><stop offset="0.688" stop-color="#bbd93e"/><stop offset="0.719" stop-color="#88ca41"/><stop offset="0.750" stop-color="#5fbe46"/><stop offset="0.781" stop-color="#42b64b"/><stop offset="0.812" stop-color="#39b44c"/><stop offset="0.844" stop-color="#2fb14f"/><stop offset="0.875" stop-color="#28a85a"/><stop offset="0.906" stop-color="#2f829b"/><stop offset="0.938" stop-color="#4067b3"/><stop offset="0.969" stop-color="#405cae"/><stop offset="1.000" stop-color="#3f56aa"/></linearGradient>
<linearGradient id="g148"><stop offset="0.000" stop-color="#3d53a7"/><stop offset="0.031" stop-color="#3f58ab"/><stop offset="0.062" stop-color="#3f58ab"/><stop offset="0.094" stop-color="#3f59ac"/><stop offset="0.125" stop-color="#4160b1"/><stop offset="0.156" stop-color="#405cae"/><stop offset="0.188" stop-color="#4162b2"/><stop offset="0.219" stop-color="#337aa8"/><stop offset="0.250" stop-color="#28a264"/><stop offset="0.281" stop-color="#2eaf51"/><stop offset="0.312" stop-color="#34b34d"/><stop offset="0.344" stop-color="#3bb54c"/><stop offset="0.375" stop-color="#40b64b"/><stop offset="0.406" stop-color="#5abd47"/><stop offset="0.438" stop-color="#7bc542"/><stop offset="0.469" stop-color="#acd53e"/><stop offset="0.500" stop-color="#ccdf3d"/><stop offset="0.531" stop-color="#e3e53c"/><stop offset="0.562" stop-color="#ebe83d"/><stop offset="0.594" stop-color="#f2ea3e"/><stop offset="0.625" stop-color="#eae83d"/><stop offset="0.656" stop-color="#e0e43c"/><stop offset="0.688" stop-color="#bbd93e"/><stop offset="0.719" stop-color="#88ca41"/><stop offset="0.750" stop-color="#5fbe46"/><stop offset="0.781" stop-color="#42b64b"/><stop offset="0.812" stop-color="#39b44c"/><stop offset="0.844" stop-color="#2fb14f"/><stop offset="0.875" stop-color="#28a85a"/><stop offset="0.906" stop-color="#2f829b"/><stop offset="0.938" stop-color="#4067b3"/><stop offset="0.969" stop-color="#405cae"/><stop offset="1.000" stop-color="#3f56aa"/></linearGradient>
<linearGradient id="g149"><stop offset="0.000" stop-color="#3d53a7"/><stop offset="0.031" stop-color="#3f58ab"/><stop offset="0.062" stop-color="#3f58ab"/><stop offset="0.094" stop-color="#3f59ac"/><stop offset="0.125" stop-color="#4160b1"/><stop offset="0.156" stop-color="#405cae"/><stop offset="0.188" stop-color="#4162b2"/><stop offset="0.219" stop-color="#337aa8"/><stop offset="0.250" stop-color="#28a264"/><stop offset="0.281" stop-color="#2eaf51"/><stop offset="0.312" stop-color="#34b34d"/><stop offset="0.344" stop-color="#3bb54c"/><stop offset="0.375" stop-color="#40b64b"/><stop offset="0.406" stop-color="#5abd47"/><stop offset="0.438" stop-color="#7bc542"/><stop offset="0.469" stop-color="#acd53e"/><stop offset="0.500" stop-color="#ccdf3d"/><stop offset="0.531" stop-color="#e3e53c"/><stop offset="0.562" stop-color="#ebe83d"/><stop offset="0.594" stop-color="#f2ea3e"/><stop offset="0.625" stop-color="#eae83d"/><stop offset="0.656" stop-color="#e0e43c"/><stop offset="0.688" stop-color="#bbd93e"/><stop offset="0.719" stop-color="#88ca41"/><stop offset="0.750" stop-color="#5fbe46"/><stop offset="0.781" stop-color="#42b64b"/><stop offset="0.812" stop-color="#39b44c"/><stop offset="0.844" stop-color="#2fb14f"/><stop offset="0.875" stop-color="#28a85a"/><stop offset="0.906" stop-color="#2f829b"/><stop offset="0.938" stop-color="#4067b3"/><stop offset="0.969" stop-color="#405cae"/><stop offset="1.000" stop-color="#3f56aa"/></linearGradient>
<linearGradient id="g150"><stop offset="0.000" stop-color="#3d53a7"/><stop offset="0.031" stop-color="#3f58ab"/><stop offset="0.062" stop-color="#3f58ab"/><stop offset="0.094" stop-color="#3f59ac"/><stop offset="0.125" stop-color="#4160b1"/><stop offset="0.156" stop-color="#405cae"/><stop offset="0.188" stop-color="#4162b2"/><stop offset="0.219" stop-color="#337aa8"/><stop offset="0.250" stop-color="#28a264"/><stop offset="0.281" stop-color="#2eaf51"/><stop offset="0.312" stop-color="#34b34d"/><stop offset="0.344" stop-color="#3bb54c"/><stop offset="0.375" stop-color="#40b64b"/><stop offset="0.406" stop-color="#5abd47"/><stop offset="0.438" stop-color="#7bc542"/><stop offset="0.469" stop-color="#acd53e"/><stop offset="0.500" stop-color="#ccdf3d"/><stop offset="0.531" stop-color="#e3e53c"/><stop offset="0.562" stop-color="#ebe83d"/><stop offset="0.594" stop-color="#f2ea3e"/><stop offset="0.625" stop-color="#eae83d"/><stop offset="0.656" stop-color="#e0e43c"/><stop offset="0.688" stop-color="#bbd93e"/><stop offset="0.719" stop-color="#88ca41"/><stop offset="0.750" stop-color="#5fbe46"/><stop offset="0.781" stop-color="#42b64b"/><stop offset="0.812" stop-color="#39b44c"/><stop offset="0.844" stop-color="#2fb14f"/><stop offset="0.875" stop-color="#28a85a"/><stop offset="0.906" stop-color="#2f829b"/><stop offset="0.938" stop-color="#4067b3"/><stop offset="0.969" stop-color="#405cae"/><stop offset="1.000" stop-color="#3f56aa"/></linearGradient>
<linearGradient id="g151"><stop offset="0.000" stop-color="#3d53a7"/><stop offset="0.031" stop-color="#3f58ab"/><stop offset="0.062" stop-color="#3f58ab"/><stop offset="0.094" stop-color="#3f59ac"/><stop offset="0.125" stop-color="#4160b1"/><stop offset="0.156" stop-color="#405cae"/><stop offset="0.188" stop-color="#4162b2"/><stop offset="0.219" stop-color="#337aa8"/><stop offset="0.250" stop-color="#28a264"/><stop offset="0.281" stop-color="#2eaf51"/><stop offset="0.312" stop-color="#34b34d"/><stop offset="0.344" stop-color="#3bb54c"/><stop offset="0.375" stop-color="#40b64b"/><stop offset="0.406" stop-color="#5abd47"/><stop offset="0.438" stop-color="#7bc542"/><stop offset="0.469" stop-color="#acd53e"/><stop offset="0.500" stop-color="#ccdf3d"/><stop offset="0.531" stop-color="#e3e53c"/><stop offset="0.562" stop-color="#ebe83d"/><stop offset="0.594" stop-color="#f2ea3e"/><stop offset="0.625" stop-color="#eae83d"/><stop offset="0.656" stop-color="#e0e43c"/><stop offset="0.688" stop-color="#bbd93e"/><stop offset="0.719" stop-color="#88ca41"/><stop offset="0.750" stop-color="#5fbe46"/><stop offset="0.781" stop-color="#42b64b"/><stop offset="0.812" stop-color="#39b44c"/><stop offset="0.844" stop-color="#2fb14f"/><stop offset="0.875" stop-color="#28a85a"/><stop offset="0.906" stop-color="#2f829b"/><stop offset="0.938" stop-color="#4067b3"/><stop offset="0.969" stop-color="#405cae"/><stop offset="1.000" stop-color="#3f56aa"/></linearGradient>
<linearGradient id="g152"><stop offset="0.000" stop-color="#3d53a7"/><stop offset="0.031" stop-color="#3f58ab"/><stop offset="0.062" stop-color="#3f58ab"/><stop offset="0.094" stop-color="#3f59ac"/><stop offset="0.125" stop-color="#4160b1"/><stop offset="0.156" stop-color="#405cae"/><stop offset="0.188" stop-color="#4162b2"/><stop offset="0.219" stop-color="#337aa8"/><stop offset="0.250" stop-color="#28a264"/><stop offset="0.281" stop-color="#2eaf51"/><stop offset="0.312" stop-color="#34b34d"/><stop offset="0.344" stop-color="#3bb54c"/><stop offset="0.375" stop-color="#40b64b"/><stop offset="0.406" stop-color="#5abd47"/><stop offset="0.438" stop-color="#7bc542"/><stop offset="0.469" stop-color="#acd53e"/><stop offset="0.500" stop-color="#ccdf3d"/><stop offset="0.531" stop-color="#e3e53c"/><stop offset="0.562" stop-color="#ebe83d"/><stop offset="0.594" stop-color="#f2ea3e"/><stop offset="0.625" stop-color="#eae83d"/><stop offset="0.656" stop-color="#e0e43c"/><stop offset="0.688" stop-color="#bbd93e"/><stop offset="0.719" stop-color="#88ca41"/><stop offset="0.750" stop-color="#5fbe46"/><stop offset="0.781" stop-color="#42b64b"/><stop offset="0.812" stop-color="#39b44c"/><stop offset="0.844" stop-color="#2fb14f"/><stop offset="0.875" stop-color="#28a85a"/><stop offset="0.906" stop-color="#2f829b"/><stop offset="0.938" stop-color="#4067b3"/><stop offset="0.969" stop-color="#405cae"/><stop offset="1.000" stop-color="#3f56aa"/></linearGradient>
<linearGradient id="g153"><stop offset="0.000" stop-color="#3d53a7"/><stop offset="0.031" stop-color="#3f58ab"/><stop offset="0.062" stop-color="#3f58ab"/><stop offset="0.094" stop-color="#3f59ac"/><stop offset="0.125" stop-color="#4160b1"/><stop offset="0.156" stop-color="#405cae"/><stop offset="0.188" stop-color="#4162b2"/><stop offset="0.219" stop-color="#337aa8"/><stop offset="0.250" stop-color="#28a264"/><stop offset="0.281" stop-color="#2eaf51"/><stop offset="0.312" stop-color="#34b34d"/><stop offset="0.344" stop-color="#3bb54c"/><stop offset="0.375" stop-color="#40b64b"/><stop offset="0.406" stop-color="#5abd47"/><stop offset="0.438" stop-color="#7bc542"/><stop offset="0.469" stop-color="#acd53e"/><stop offset="0.500" stop-color="#ccdf3d"/><stop offset="0.531" stop-color="#e3e53c"/><stop offset="0.562" stop-color="#ebe83d"/><stop offset="0.594" stop-color="#f2ea3e"/><stop offset="0.625" stop-color="#eae83d"/><stop offset="0.656" stop-color="#e0e43c"/><stop offset="0.688" stop-color="#bbd93e"/><stop offset="0.719" stop-color="#88ca41"/><stop offset="0.750" stop-color="#5fbe46"/><stop offset="0.781" stop-color="#42b64b"/><stop offset="0.812" stop-color="#39b44c"/><stop offset="0.844" stop-color="#2fb14f"/><stop offset="0.875" stop-color="#28a85a"/><stop offset="0.906" stop-color="#2f829b"/><stop offset="0.938" stop-color="#4067b3"/><stop offset="0.969" stop-color="#405cae"/><stop offset="1.000" stop-color="#3f56aa"/></linearGradient>
<linearGradient id="g154"><stop offset="0.000" stop-color="#3d53a7"/><stop offset="0.031" stop-color="#3f58ab"/><stop offset="0.062" stop-color="#3f58ab"/><stop offset="0.094" stop-color="#3f59ac"/><stop offset="0.125" stop-color="#4160b1"/><stop offset="0.156" stop-color="#405cae"/><stop offset="0.188" stop-color="#4162b2"/><stop offset="0.219" stop-color="#337aa8"/><stop offset="0.250" stop-color="#28a264"/><stop offset="0.281" stop-color="#2eaf51"/><stop offset="0.312" stop-color="#34b34d"/><stop offset="0.344" stop-color="#3bb54c"/><stop offset="0.375" stop-color="#40b64b"/><stop offset="0.406" stop-color="#5abd47"/><stop offset="0.438" stop-color="#7bc542"/><stop offset="0.469" stop-color="#acd53e"/><stop offset="0.500" stop-color="#ccdf3d"/><stop offset="0.531" stop-color="#e3e53c"/><stop offset="0.562" stop-color="#ebe83d"/><stop offset="0.594" stop-color="#f2ea3e"/><stop offset="0.625" stop-color="#eae83d"/><stop offset="0.656" stop-color="#e0e43c"/><stop offset="0.688" stop-color="#bbd93e"/><stop offset="0.719" stop-color="#88ca41"/><stop offset="0.750" stop-color="#5fbe46"/><stop offset="0.781" stop-color="#42b64b"/><stop offset="0.812" stop-color="#39b44c"/><stop offset="0.844" stop-color="#2fb14f"/><stop offset="0.875" stop-color="#28a85a"/><stop offset="0.906" stop-color="#2f829b"/><stop offset="0.938" stop-color="#4067b3"/><stop offset="0.969" stop-color="#405cae"/><stop offset="1.000" stop-color="#3f56aa"/></linearGradient>
<linearGradient id="g155"><stop offset="0.000" stop-color="#3d53a7"/><stop offset="0.031" stop-color="#3f58ab"/><stop offset="0.062" stop-color="#3f58ab"/><stop offset="0.094" stop-color="#3f59ac"/><stop offset="0.125" stop-color="#4160b1"/><stop offset="0.156" stop-color="#405cae"/><stop offset="0.188" stop-color="#4162b2"/><stop offset="0.219" stop-color="#337aa8"/><stop offset="0.250" stop-color="#28a264"/><stop offset="0.281" stop-color="#2eaf51"/><stop offset="0.312" stop-color="#34b34d"/><stop offset="0.344" stop-color="#3bb54c"/><stop offset="0.375" stop-color="#40b64b"/><stop offset="0.406" stop-color="#5abd47"/><stop offset="0.438" stop-color="#7bc542"/><stop offset="0.469" stop-color="#acd53e"/><stop offset="0.500" stop-color="#ccdf3d"/><stop offset="0.531" stop-color="#e3e53c"/><stop offset="0.562" stop-color="#ebe83d"/><stop offset="0.594" stop-color="#f2ea3e"/><stop offset="0.625" stop-color="#eae83d"/><stop offset="0.656" stop-color="#e0e43c"/><stop offset="0.688" stop-color="#bbd93e"/><stop offset="0.719" stop-color="#88ca41"/><stop offset="0.750" stop-color="#5fbe46"/><stop offset="0.781" stop-color="#42b64b"/><stop offset="0.812" stop-color="#39b44c"/><stop offset="0.844" stop-color="#2fb14f"/><stop offset="0.875" stop-color="#28a85a"/><stop offset="0.906" stop-color="#2f829b"/><stop offset="0.938" stop-color="#4067b3"/><stop offset="0.969" stop-color="#405cae"/><stop offset="1.000" stop-color="#3f56aa"/></linearGradient><linearGradient id="cbar" x1="0" y1="0" x2="0" y2="1"><stop offset="0.000" stop-color="#e6e23e"/><stop offset="0.100" stop-color="#c4da42"/><stop offset="0.220" stop-color="#8cc64a"/><stop offset="0.350" stop-color="#58b850"/><stop offset="0.470" stop-color="#3aae50"/><stop offset="0.560" stop-color="#30a855"/><stop offset="0.670" stop-color="#2d8a8a"/><stop offset="0.765" stop-color="#3264b0"/><stop offset="0.890" stop-color="#3c55a8"/><stop offset="1.000" stop-color="#37469b"/></linearGradient></defs>
<rect width="661" height="323" fill="#fff"/>
<rect x="100.3" y="167.00" width="124.5" height="3.40" fill="url(#g0)"/>
<rect x="100.3" y="170.00" width="124.5" height="3.40" fill="url(#g1)"/>
<rect x="100.3" y="173.00" width="124.5" height="3.40" fill="url(#g2)"/>
<rect x="100.3" y="176.00" width="124.5" height="3.40" fill="url(#g3)"/>
<rect x="100.3" y="179.00" width="124.5" height="3.40" fill="url(#g4)"/>
<rect x="100.3" y="182.00" width="124.5" height="3.40" fill="url(#g5)"/>
<rect x="100.3" y="185.00" width="124.5" height="3.40" fill="url(#g6)"/>
<rect x="100.3" y="188.00" width="124.5" height="3.40" fill="url(#g7)"/>
<rect x="100.3" y="191.00" width="124.5" height="3.40" fill="url(#g8)"/>
<rect x="100.3" y="194.00" width="124.5" height="3.40" fill="url(#g9)"/>
<rect x="100.3" y="197.00" width="124.5" height="3.40" fill="url(#g10)"/>
<rect x="100.3" y="200.00" width="124.5" height="3.40" fill="url(#g11)"/>
<rect x="100.3" y="203.00" width="124.5" height="3.40" fill="url(#g12)"/>
<rect x="100.3" y="206.00" width="124.5" height="3.40" fill="url(#g13)"/>
<rect x="100.3" y="209.00" width="124.5" height="3.40" fill="url(#g14)"/>
<rect x="100.3" y="212.00" width="124.5" height="3.40" fill="url(#g15)"/>
<rect x="100.3" y="215.00" width="124.5" height="3.40" fill="url(#g16)"/>
<rect x="100.3" y="218.00" width="124.5" height="3.40" fill="url(#g17)"/>
<rect x="100.3" y="221.00" width="124.5" height="3.40" fill="url(#g18)"/>
<rect x="100.3" y="224.00" width="124.5" height="3.40" fill="url(#g19)"/>
<rect x="100.3" y="227.00" width="124.5" height="3.40" fill="url(#g20)"/>
<rect x="100.3" y="230.00" width="124.5" height="3.40" fill="url(#g21)"/>
<rect x="100.3" y="233.00" width="124.5" height="3.40" fill="url(#g22)"/>
<rect x="100.3" y="236.00" width="124.5" height="3.40" fill="url(#g23)"/>
<rect x="100.3" y="239.00" width="124.5" height="3.40" fill="url(#g24)"/>
<rect x="100.3" y="242.00" width="124.5" height="3.40" fill="url(#g25)"/>
<rect x="100.3" y="245.00" width="124.5" height="3.40" fill="url(#g26)"/>
<rect x="100.3" y="248.00" width="124.5" height="3.40" fill="url(#g27)"/>
<rect x="100.3" y="251.00" width="124.5" height="3.40" fill="url(#g28)"/>
<rect x="100.3" y="254.00" width="124.5" height="3.40" fill="url(#g29)"/>
<rect x="100.3" y="257.00" width="124.5" height="3.40" fill="url(#g30)"/>
<rect x="100.3" y="260.00" width="124.5" height="3.40" fill="url(#g31)"/>
<rect x="100.3" y="263.00" width="124.5" height="3.40" fill="url(#g32)"/>
<rect x="100.3" y="266.00" width="124.5" height="3.40" fill="url(#g33)"/>
<rect x="100.3" y="269.00" width="124.5" height="3.40" fill="url(#g34)"/>
<rect x="100.3" y="284.00" width="124.5" height="3.40" fill="url(#g35)"/>
<rect x="100.3" y="287.00" width="124.5" height="3.40" fill="url(#g36)"/>
<rect x="100.3" y="290.00" width="124.5" height="3.40" fill="url(#g37)"/>
<rect x="100.3" y="293.00" width="124.5" height="2.80" fill="url(#g38)"/>
<rect x="237.8" y="167.00" width="123.9" height="3.40" fill="url(#g39)"/>
<rect x="237.8" y="170.00" width="123.9" height="3.40" fill="url(#g40)"/>
<rect x="237.8" y="173.00" width="123.9" height="3.40" fill="url(#g41)"/>
<rect x="237.8" y="176.00" width="123.9" height="3.40" fill="url(#g42)"/>
<rect x="237.8" y="179.00" width="123.9" height="3.40" fill="url(#g43)"/>
<rect x="237.8" y="182.00" width="123.9" height="3.40" fill="url(#g44)"/>
<rect x="237.8" y="185.00" width="123.9" height="3.40" fill="url(#g45)"/>
<rect x="237.8" y="188.00" width="123.9" height="3.40" fill="url(#g46)"/>
<rect x="237.8" y="191.00" width="123.9" height="3.40" fill="url(#g47)"/>
<rect x="237.8" y="194.00" width="123.9" height="3.40" fill="url(#g48)"/>
<rect x="237.8" y="197.00" width="123.9" height="3.40" fill="url(#g49)"/>
<rect x="237.8" y="200.00" width="123.9" height="3.40" fill="url(#g50)"/>
<rect x="237.8" y="203.00" width="123.9" height="3.40" fill="url(#g51)"/>
<rect x="237.8" y="206.00" width="123.9" height="3.40" fill="url(#g52)"/>
<rect x="237.8" y="209.00" width="123.9" height="3.40" fill="url(#g53)"/>
<rect x="237.8" y="212.00" width="123.9" height="3.40" fill="url(#g54)"/>
<rect x="237.8" y="215.00" width="123.9" height="3.40" fill="url(#g55)"/>
<rect x="237.8" y="218.00" width="123.9" height="3.40" fill="url(#g56)"/>
<rect x="237.8" y="221.00" width="123.9" height="3.40" fill="url(#g57)"/>
<rect x="237.8" y="224.00" width="123.9" height="3.40" fill="url(#g58)"/>
<rect x="237.8" y="227.00" width="123.9" height="3.40" fill="url(#g59)"/>
<rect x="237.8" y="230.00" width="123.9" height="3.40" fill="url(#g60)"/>
<rect x="237.8" y="233.00" width="123.9" height="3.40" fill="url(#g61)"/>
<rect x="237.8" y="236.00" width="123.9" height="3.40" fill="url(#g62)"/>
<rect x="237.8" y="239.00" width="123.9" height="3.40" fill="url(#g63)"/>
<rect x="237.8" y="242.00" width="123.9" height="3.40" fill="url(#g64)"/>
<rect x="237.8" y="245.00" width="123.9" height="3.40" fill="url(#g65)"/>
<rect x="237.8" y="248.00" width="123.9" height="3.40" fill="url(#g66)"/>
<rect x="237.8" y="251.00" width="123.9" height="3.40" fill="url(#g67)"/>
<rect x="237.8" y="254.00" width="123.9" height="3.40" fill="url(#g68)"/>
<rect x="237.8" y="257.00" width="123.9" height="3.40" fill="url(#g69)"/>
<rect x="237.8" y="260.00" width="123.9" height="3.40" fill="url(#g70)"/>
<rect x="237.8" y="263.00" width="123.9" height="3.40" fill="url(#g71)"/>
<rect x="237.8" y="266.00" width="123.9" height="3.40" fill="url(#g72)"/>
<rect x="237.8" y="269.00" width="123.9" height="3.40" fill="url(#g73)"/>
<rect x="237.8" y="284.00" width="123.9" height="3.40" fill="url(#g74)"/>
<rect x="237.8" y="287.00" width="123.9" height="3.40" fill="url(#g75)"/>
<rect x="237.8" y="290.00" width="123.9" height="3.40" fill="url(#g76)"/>
<rect x="237.8" y="293.00" width="123.9" height="2.80" fill="url(#g77)"/>
<rect x="375.2" y="167.00" width="124.8" height="3.40" fill="url(#g78)"/>
<rect x="375.2" y="170.00" width="124.8" height="3.40" fill="url(#g79)"/>
<rect x="375.2" y="173.00" width="124.8" height="3.40" fill="url(#g80)"/>
<rect x="375.2" y="176.00" width="124.8" height="3.40" fill="url(#g81)"/>
<rect x="375.2" y="179.00" width="124.8" height="3.40" fill="url(#g82)"/>
<rect x="375.2" y="182.00" width="124.8" height="3.40" fill="url(#g83)"/>
<rect x="375.2" y="185.00" width="124.8" height="3.40" fill="url(#g84)"/>
<rect x="375.2" y="188.00" width="124.8" height="3.40" fill="url(#g85)"/>
<rect x="375.2" y="191.00" width="124.8" height="3.40" fill="url(#g86)"/>
<rect x="375.2" y="194.00" width="124.8" height="3.40" fill="url(#g87)"/>
<rect x="375.2" y="197.00" width="124.8" height="3.40" fill="url(#g88)"/>
<rect x="375.2" y="200.00" width="124.8" height="3.40" fill="url(#g89)"/>
<rect x="375.2" y="203.00" width="124.8" height="3.40" fill="url(#g90)"/>
<rect x="375.2" y="206.00" width="124.8" height="3.40" fill="url(#g91)"/>
<rect x="375.2" y="209.00" width="124.8" height="3.40" fill="url(#g92)"/>
<rect x="375.2" y="212.00" width="124.8" height="3.40" fill="url(#g93)"/>
<rect x="375.2" y="215.00" width="124.8" height="3.40" fill="url(#g94)"/>
<rect x="375.2" y="218.00" width="124.8" height="3.40" fill="url(#g95)"/>
<rect x="375.2" y="221.00" width="124.8" height="3.40" fill="url(#g96)"/>
<rect x="375.2" y="224.00" width="124.8" height="3.40" fill="url(#g97)"/>
<rect x="375.2" y="227.00" width="124.8" height="3.40" fill="url(#g98)"/>
<rect x="375.2" y="230.00" width="124.8" height="3.40" fill="url(#g99)"/>
<rect x="375.2" y="233.00" width="124.8" height="3.40" fill="url(#g100)"/>
<rect x="375.2" y="236.00" width="124.8" height="3.40" fill="url(#g101)"/>
<rect x="375.2" y="239.00" width="124.8" height="3.40" fill="url(#g102)"/>
<rect x="375.2" y="242.00" width="124.8" height="3.40" fill="url(#g103)"/>
<rect x="375.2" y="245.00" width="124.8" height="3.40" fill="url(#g104)"/>
<rect x="375.2" y="248.00" width="124.8" height="3.40" fill="url(#g105)"/>
<rect x="375.2" y="251.00" width="124.8" height="3.40" fill="url(#g106)"/>
<rect x="375.2" y="254.00" width="124.8" height="3.40" fill="url(#g107)"/>
<rect x="375.2" y="257.00" width="124.8" height="3.40" fill="url(#g108)"/>
<rect x="375.2" y="260.00" width="124.8" height="3.40" fill="url(#g109)"/>
<rect x="375.2" y="263.00" width="124.8" height="3.40" fill="url(#g110)"/>
<rect x="375.2" y="266.00" width="124.8" height="3.40" fill="url(#g111)"/>
<rect x="375.2" y="269.00" width="124.8" height="3.40" fill="url(#g112)"/>
<rect x="375.2" y="284.00" width="124.8" height="3.40" fill="url(#g113)"/>
<rect x="375.2" y="287.00" width="124.8" height="3.40" fill="url(#g114)"/>
<rect x="375.2" y="290.00" width="124.8" height="3.40" fill="url(#g115)"/>
<rect x="375.2" y="293.00" width="124.8" height="2.80" fill="url(#g116)"/>
<rect x="512.3" y="167.00" width="124.5" height="3.40" fill="url(#g117)"/>
<rect x="512.3" y="170.00" width="124.5" height="3.40" fill="url(#g118)"/>
<rect x="512.3" y="173.00" width="124.5" height="3.40" fill="url(#g119)"/>
<rect x="512.3" y="176.00" width="124.5" height="3.40" fill="url(#g120)"/>
<rect x="512.3" y="179.00" width="124.5" height="3.40" fill="url(#g121)"/>
<rect x="512.3" y="182.00" width="124.5" height="3.40" fill="url(#g122)"/>
<rect x="512.3" y="185.00" width="124.5" height="3.40" fill="url(#g123)"/>
<rect x="512.3" y="188.00" width="124.5" height="3.40" fill="url(#g124)"/>
<rect x="512.3" y="191.00" width="124.5" height="3.40" fill="url(#g125)"/>
<rect x="512.3" y="194.00" width="124.5" height="3.40" fill="url(#g126)"/>
<rect x="512.3" y="197.00" width="124.5" height="3.40" fill="url(#g127)"/>
<rect x="512.3" y="200.00" width="124.5" height="3.40" fill="url(#g128)"/>
<rect x="512.3" y="203.00" width="124.5" height="3.40" fill="url(#g129)"/>
<rect x="512.3" y="206.00" width="124.5" height="3.40" fill="url(#g130)"/>
<rect x="512.3" y="209.00" width="124.5" height="3.40" fill="url(#g131)"/>
<rect x="512.3" y="212.00" width="124.5" height="3.40" fill="url(#g132)"/>
<rect x="512.3" y="215.00" width="124.5" height="3.40" fill="url(#g133)"/>
<rect x="512.3" y="218.00" width="124.5" height="3.40" fill="url(#g134)"/>
<rect x="512.3" y="221.00" width="124.5" height="3.40" fill="url(#g135)"/>
<rect x="512.3" y="224.00" width="124.5" height="3.40" fill="url(#g136)"/>
<rect x="512.3" y="227.00" width="124.5" height="3.40" fill="url(#g137)"/>
<rect x="512.3" y="230.00" width="124.5" height="3.40" fill="url(#g138)"/>
<rect x="512.3" y="233.00" width="124.5" height="3.40" fill="url(#g139)"/>
<rect x="512.3" y="236.00" width="124.5" height="3.40" fill="url(#g140)"/>
<rect x="512.3" y="239.00" width="124.5" height="3.40" fill="url(#g141)"/>
<rect x="512.3" y="242.00" width="124.5" height="3.40" fill="url(#g142)"/>
<rect x="512.3" y="245.00" width="124.5" height="3.40" fill="url(#g143)"/>
<rect x="512.3" y="248.00" width="124.5" height="3.40" fill="url(#g144)"/>
<rect x="512.3" y="251.00" width="124.5" height="3.40" fill="url(#g145)"/>
<rect x="512.3" y="254.00" width="124.5" height="3.40" fill="url(#g146)"/>
<rect x="512.3" y="257.00" width="124.5" height="3.40" fill="url(#g147)"/>
<rect x="512.3" y="260.00" width="124.5" height="3.40" fill="url(#g148)"/>
<rect x="512.3" y="263.00" width="124.5" height="3.40" fill="url(#g149)"/>
<rect x="512.3" y="266.00" width="124.5" height="3.40" fill="url(#g150)"/>
<rect x="512.3" y="269.00" width="124.5" height="3.40" fill="url(#g151)"/>
<rect x="512.3" y="284.00" width="124.5" height="3.40" fill="url(#g152)"/>
<rect x="512.3" y="287.00" width="124.5" height="3.40" fill="url(#g153)"/>
<rect x="512.3" y="290.00" width="124.5" height="3.40" fill="url(#g154)"/>
<rect x="512.3" y="293.00" width="124.5" height="2.80" fill="url(#g155)"/>
<rect x="100.3" y="269.3" width="124.5" height="15.5" fill="#000"/>
<line x1="100.8" y1="167" x2="100.8" y2="295.4" stroke="#000" stroke-opacity="0.3" stroke-width="1"/>
<line x1="100.3" y1="295" x2="224.8" y2="295" stroke="#000" stroke-opacity="0.25" stroke-width="0.8"/>
<line x1="100.3" y1="182.3" x2="102.3" y2="182.3" stroke="#222" stroke-opacity="0.6" stroke-width="1"/>
<line x1="100.3" y1="198.4" x2="102.3" y2="198.4" stroke="#222" stroke-opacity="0.6" stroke-width="1"/>
<line x1="100.3" y1="214.5" x2="102.3" y2="214.5" stroke="#222" stroke-opacity="0.6" stroke-width="1"/>
<line x1="100.3" y1="230.6" x2="102.3" y2="230.6" stroke="#222" stroke-opacity="0.6" stroke-width="1"/>
<line x1="100.3" y1="246.7" x2="102.3" y2="246.7" stroke="#222" stroke-opacity="0.6" stroke-width="1"/>
<line x1="100.3" y1="262.8" x2="102.3" y2="262.8" stroke="#222" stroke-opacity="0.6" stroke-width="1"/>
<rect x="237.8" y="269.3" width="123.9" height="15.5" fill="#000"/>
<line x1="238.3" y1="167" x2="238.3" y2="295.4" stroke="#000" stroke-opacity="0.3" stroke-width="1"/>
<line x1="237.8" y1="295" x2="361.7" y2="295" stroke="#000" stroke-opacity="0.25" stroke-width="0.8"/>
<line x1="237.8" y1="182.3" x2="239.8" y2="182.3" stroke="#222" stroke-opacity="0.6" stroke-width="1"/>
<line x1="237.8" y1="198.4" x2="239.8" y2="198.4" stroke="#222" stroke-opacity="0.6" stroke-width="1"/>
<line x1="237.8" y1="214.5" x2="239.8" y2="214.5" stroke="#222" stroke-opacity="0.6" stroke-width="1"/>
<line x1="237.8" y1="230.6" x2="239.8" y2="230.6" stroke="#222" stroke-opacity="0.6" stroke-width="1"/>
<line x1="237.8" y1="246.7" x2="239.8" y2="246.7" stroke="#222" stroke-opacity="0.6" stroke-width="1"/>
<line x1="237.8" y1="262.8" x2="239.8" y2="262.8" stroke="#222" stroke-opacity="0.6" stroke-width="1"/>
<rect x="375.2" y="269.3" width="124.8" height="15.5" fill="#000"/>
<line x1="375.7" y1="167" x2="375.7" y2="295.4" stroke="#000" stroke-opacity="0.3" stroke-width="1"/>
<line x1="375.2" y1="295" x2="500.0" y2="295" stroke="#000" stroke-opacity="0.25" stroke-width="0.8"/>
<line x1="375.2" y1="182.3" x2="377.2" y2="182.3" stroke="#222" stroke-opacity="0.6" stroke-width="1"/>
<line x1="375.2" y1="198.4" x2="377.2" y2="198.4" stroke="#222" stroke-opacity="0.6" stroke-width="1"/>
<line x1="375.2" y1="214.5" x2="377.2" y2="214.5" stroke="#222" stroke-opacity="0.6" stroke-width="1"/>
<line x1="375.2" y1="230.6" x2="377.2" y2="230.6" stroke="#222" stroke-opacity="0.6" stroke-width="1"/>
<line x1="375.2" y1="246.7" x2="377.2" y2="246.7" stroke="#222" stroke-opacity="0.6" stroke-width="1"/>
<line x1="375.2" y1="262.8" x2="377.2" y2="262.8" stroke="#222" stroke-opacity="0.6" stroke-width="1"/>
<rect x="512.3" y="269.3" width="124.5" height="15.5" fill="#000"/>
<line x1="512.8" y1="167" x2="512.8" y2="295.4" stroke="#000" stroke-opacity="0.3" stroke-width="1"/>
<line x1="512.3" y1="295" x2="636.8" y2="295" stroke="#000" stroke-opacity="0.25" stroke-width="0.8"/>
<line x1="512.3" y1="182.3" x2="514.3" y2="182.3" stroke="#222" stroke-opacity="0.6" stroke-width="1"/>
<line x1="512.3" y1="198.4" x2="514.3" y2="198.4" stroke="#222" stroke-opacity="0.6" stroke-width="1"/>
<line x1="512.3" y1="214.5" x2="514.3" y2="214.5" stroke="#222" stroke-opacity="0.6" stroke-width="1"/>
<line x1="512.3" y1="230.6" x2="514.3" y2="230.6" stroke="#222" stroke-opacity="0.6" stroke-width="1"/>
<line x1="512.3" y1="246.7" x2="514.3" y2="246.7" stroke="#222" stroke-opacity="0.6" stroke-width="1"/>
<line x1="512.3" y1="262.8" x2="514.3" y2="262.8" stroke="#222" stroke-opacity="0.6" stroke-width="1"/>
<polygon points="100.3,167 190.3,167 185.3,171.2 100.3,171.2" fill="#3c4ea6"/>
<line x1="98.4" y1="250" x2="637" y2="250" stroke="#fff" stroke-width="2.2" stroke-dasharray="6.2 4.97"/>
<rect x="644.8" y="173.5" width="7.3" height="119.7" fill="url(#cbar)"/>
<rect x="20.8" y="168.9" width="69" height="127.3" fill="none" stroke="#a8a8a8" stroke-width="1"/>
<path d="M59.40,169.10 C59.73,169.17 61.94,169.19 62.70,169.80 C63.46,170.41 66.02,174.01 67.00,175.20 C67.98,176.39 71.52,180.29 72.50,181.70 C73.48,183.11 76.15,187.57 76.80,189.30 C77.45,191.03 78.57,196.29 79.00,199.00 C79.43,201.71 80.74,213.30 81.10,216.40 C81.46,219.50 82.33,227.64 82.60,230.00 C82.87,232.36 83.58,238.40 83.80,240.00 C84.02,241.60 84.64,245.07 84.80,246.00 C84.96,246.93 85.53,248.86 85.40,249.30 C85.27,249.74 84.14,250.25 83.50,250.40 C82.86,250.55 79.80,250.68 79.00,250.80 C78.20,250.92 76.37,251.15 75.50,251.60 C74.63,252.05 71.20,254.46 70.30,255.30 C69.40,256.14 67.13,258.93 66.50,260.00 C65.87,261.07 64.41,264.76 64.00,266.00 C63.59,267.24 62.80,271.10 62.40,272.40 C62.00,273.70 60.49,277.84 60.00,279.00 C59.51,280.16 58.15,283.15 57.50,284.00 C56.85,284.85 54.33,286.95 53.50,287.50 C52.67,288.05 50.68,288.96 49.20,289.50 C47.72,290.04 40.54,292.25 38.70,292.90 C36.86,293.55 31.59,295.69 30.80,296.00" fill="none" stroke="#111" stroke-width="1.5" stroke-linejoin="round"/>
<line x1="24.2" y1="250" x2="84" y2="250" stroke="#000" stroke-width="2.5" stroke-dasharray="6.5 4"/>
<g id="pa">
<text transform="translate(8.30,15.50) scale(0.8970,1)" style="font-size:15.05px;font-weight:bold;" fill="#141414" stroke="#141414" >a</text>
<text transform="translate(36.85,14.00) scale(0.9046,1)" style="font-size:10.90px;" fill="#141414" stroke="#141414" >1s3d</text>
<text transform="translate(58.48,10.20) scale(1.2617,1)" style="font-size:5.96px;" fill="#141414" stroke="#141414" >N</text>
<text transform="translate(146.01,8.50) scale(1.1438,1)" style="font-size:9.38px;" fill="#141414" stroke="#141414" >Intermediate</text>
<text transform="translate(164.23,22.10) scale(1.0519,1)" style="font-size:9.74px;" fill="#141414" stroke="#141414" >State</text>
<text transform="translate(29.01,30.10) scale(0.8265,1)" style="font-size:10.45px;" fill="#2236a6" stroke="#2236a6" >XAS</text>
<text transform="translate(29.93,43.00) scale(1.1403,1)" style="font-size:9.80px;" fill="#2236a6" stroke="#2236a6" >hν</text>
<text transform="translate(41.09,46.00) scale(1.1287,1)" style="font-size:5.96px;" fill="#2236a6" stroke="#2236a6" >1</text>
<text transform="translate(102.02,36.90) scale(0.7837,1)" style="font-size:10.17px;" fill="#e62a2a" stroke="#e62a2a" >XES</text>
<text transform="translate(102.18,49.80) scale(1.0253,1)" style="font-size:10.07px;" fill="#e62a2a" stroke="#e62a2a" >hν</text>
<text transform="translate(112.45,52.50) scale(1.2568,1)" style="font-size:7.16px;" fill="#e62a2a" stroke="#e62a2a" >2</text>
<text transform="translate(11.20,90.12) rotate(-90) scale(1.0375,1)" style="font-size:9.59px;" fill="#141414" stroke="#141414" >Energy</text>
<text transform="translate(93.66,92.90) scale(0.9740,1)" style="font-size:9.94px;" fill="#141414" stroke="#141414" >Valence</text>
<text transform="translate(95.74,106.10) scale(1.1402,1)" style="font-size:9.66px;" fill="#141414" stroke="#141414" >orbital</text>
<text transform="translate(140.76,111.60) scale(0.9303,1)" style="font-size:10.17px;" fill="#141414" stroke="#141414" >V2C</text>
<text transform="translate(42.72,126.90) scale(0.9380,1)" style="font-size:10.74px;" fill="#141414" stroke="#141414" >3p</text>
<text transform="translate(53.53,123.60) scale(1.0319,1)" style="font-size:6.54px;" fill="#141414" stroke="#141414" >5</text>
<text transform="translate(57.27,126.90) scale(1.0355,1)" style="font-size:10.90px;" fill="#141414" stroke="#141414" >3d</text>
<text transform="translate(69.30,123.60) scale(1.1222,1)" style="font-size:6.54px;" fill="#141414" stroke="#141414" >N</text>
<text transform="translate(75.52,137.70) scale(1.0458,1)" style="font-size:10.21px;" fill="#141414" stroke="#141414" >Main kβ</text>
<text transform="translate(6.24,156.30) scale(1.0634,1)" style="font-size:11.45px;" fill="#141414" stroke="#141414" >3d</text>
<text transform="translate(19.10,152.90) scale(0.9306,1)" style="font-size:6.54px;" fill="#141414" stroke="#141414" >N</text>
<text transform="translate(69.38,155.50) scale(0.9789,1)" style="font-size:10.49px;" fill="#141414" stroke="#141414" >Ground State</text>
<g stroke="#141414" stroke-width="1.8" fill="none">
<line x1="70.3" y1="11.2" x2="142.3" y2="11.2"/>
<line x1="131.3" y1="99.1" x2="169" y2="99.1"/>
<line x1="75.5" y1="126.8" x2="111.5" y2="126.8"/>
<line x1="25.3" y1="151.9" x2="63.2" y2="151.9"/>
</g>
<g stroke="#141414" stroke-width="1.7" fill="none">
<line x1="15.8" y1="95.4" x2="15.8" y2="46"/>
<polyline points="12.8,51.4 15.8,45.8 18.8,51.4"/>
</g>
<g stroke="#e62a2a" stroke-width="1.9" fill="none">
<line x1="85" y1="17" x2="85" y2="122"/>
<polyline points="81.8,116 85,122.4 88.4,116"/>
<line x1="150" y1="17" x2="150" y2="96.6"/>
<polyline points="146.6,91.4 150,97.2 153.6,91.4"/>
</g>
<g stroke="#2236a6" stroke-width="1.7" fill="none">
<line x1="33.5" y1="144" x2="68.7" y2="18.2"/>
<polyline points="63.6,22.8 68.9,17.9 69.9,24.6"/>
</g>
</g>
<g id="pb">
<text transform="translate(222.55,15.50) scale(1.0935,1)" style="font-size:13.25px;font-weight:bold;" fill="#141414" stroke="#141414" >b</text>
<text transform="translate(237.49,27.90) scale(1.1062,1)" style="font-size:9.66px;font-weight:bold;" fill="#141414" stroke="#141414" >Main kβ</text>
<text transform="translate(231.58,41.80) scale(1.0518,1)" style="font-size:9.66px;font-weight:bold;" fill="#141414" stroke="#141414" >transitions</text>
<text transform="translate(204.00,94.13) rotate(-90) scale(1.0194,1)" style="font-size:10.21px;" fill="#141414" stroke="#141414" >Counts (a.u.)</text>
<text transform="translate(360.34,31.30) scale(1.1996,1)" style="font-size:9.38px;" fill="#141414" stroke="#141414" >kβ</text>
<text transform="translate(372.25,33.60) scale(1.3522,1)" style="font-size:5.30px;stroke-width:0.05px;" fill="#141414" stroke="#141414" >1,3</text>
<text transform="translate(265.32,110.50) scale(1.1253,1)" style="font-size:10.35px;" fill="#141414" stroke="#141414" >kβ′</text>
<text transform="translate(466.63,23.20) scale(0.9708,1)" style="font-size:10.03px;font-weight:bold;" fill="#141414" stroke="#141414" >V2C</text>
<text transform="translate(466.59,43.60) scale(0.9701,1)" style="font-size:10.45px;" fill="#141414" stroke="#141414" >x 350</text>
<text transform="translate(488.35,88.50) scale(1.2350,1)" style="font-size:8.97px;" fill="#141414" stroke="#141414" >kβ’’</text>
<text transform="translate(546.09,26.60) scale(1.0178,1)" style="font-size:10.35px;" fill="#141414" stroke="#141414" >kβ</text>
<text transform="translate(557.42,28.60) scale(1.1218,1)" style="font-size:6.73px;stroke-width:0.05px;" fill="#141414" stroke="#141414" >2,5</text>
<text transform="translate(407.84,163.60) scale(1.1025,1)" style="font-size:9.52px;" fill="#141414" stroke="#141414" >Energy (eV)</text>
<text transform="translate(234.88,153.40) scale(1.0135,1)" style="font-size:10.17px;" fill="#141414" stroke="#141414" >6470</text>
<text transform="translate(285.17,153.40) scale(1.0135,1)" style="font-size:10.17px;" fill="#141414" stroke="#141414" >6480</text>
<text transform="translate(335.46,153.40) scale(1.0135,1)" style="font-size:10.17px;" fill="#141414" stroke="#141414" >6490</text>
<text transform="translate(385.75,153.40) scale(1.0135,1)" style="font-size:10.17px;" fill="#141414" stroke="#141414" >6500</text>
<text transform="translate(436.04,153.40) scale(1.0135,1)" style="font-size:10.17px;" fill="#141414" stroke="#141414" >6510</text>
<text transform="translate(486.33,153.40) scale(1.0135,1)" style="font-size:10.17px;" fill="#141414" stroke="#141414" >6520</text>
<text transform="translate(536.62,153.40) scale(1.0135,1)" style="font-size:10.17px;" fill="#141414" stroke="#141414" >6530</text>
<text transform="translate(586.91,153.40) scale(1.0135,1)" style="font-size:10.17px;" fill="#141414" stroke="#141414" >6540</text>
<text transform="translate(637.20,153.40) scale(1.0135,1)" style="font-size:10.17px;" fill="#141414" stroke="#141414" >6550</text>
<text transform="translate(478.28,126.20) scale(0.9225,1)" style="font-size:11.17px;" fill="#141414" stroke="#141414" >6520</text>
<text transform="translate(512.98,126.20) scale(0.9225,1)" style="font-size:11.17px;" fill="#141414" stroke="#141414" >6530</text>
<text transform="translate(546.68,126.20) scale(0.9225,1)" style="font-size:11.17px;" fill="#141414" stroke="#141414" >6540</text>
<g stroke="#222" stroke-width="1.1" fill="none">
<polyline points="213.3,3.5 213.3,139.2 653.3,139.2"/>
<line x1="208.3" y1="19.8" x2="213.3" y2="19.8"/>
<line x1="210.8" y1="8.2" x2="213.3" y2="8.2"/>
<line x1="208.3" y1="43.1" x2="213.3" y2="43.1"/>
<line x1="210.8" y1="31.5" x2="213.3" y2="31.5"/>
<line x1="208.3" y1="66.4" x2="213.3" y2="66.4"/>
<line x1="210.8" y1="54.8" x2="213.3" y2="54.8"/>
<line x1="208.3" y1="89.7" x2="213.3" y2="89.7"/>
<line x1="210.8" y1="78.0" x2="213.3" y2="78.0"/>
<line x1="208.3" y1="113.0" x2="213.3" y2="113.0"/>
<line x1="210.8" y1="101.3" x2="213.3" y2="101.3"/>
<line x1="208.3" y1="136.3" x2="213.3" y2="136.3"/>
<line x1="210.8" y1="124.7" x2="213.3" y2="124.7"/>
<line x1="221.3" y1="139.2" x2="221.3" y2="142.2"/>
<line x1="246.4" y1="139.2" x2="246.4" y2="144.7"/>
<line x1="271.5" y1="139.2" x2="271.5" y2="142.2"/>
<line x1="296.7" y1="139.2" x2="296.7" y2="144.7"/>
<line x1="321.8" y1="139.2" x2="321.8" y2="142.2"/>
<line x1="347.0" y1="139.2" x2="347.0" y2="144.7"/>
<line x1="372.1" y1="139.2" x2="372.1" y2="142.2"/>
<line x1="397.3" y1="139.2" x2="397.3" y2="144.7"/>
<line x1="422.4" y1="139.2" x2="422.4" y2="142.2"/>
<line x1="447.6" y1="139.2" x2="447.6" y2="144.7"/>
<line x1="472.7" y1="139.2" x2="472.7" y2="142.2"/>
<line x1="497.9" y1="139.2" x2="497.9" y2="144.7"/>
<line x1="523.0" y1="139.2" x2="523.0" y2="142.2"/>
<line x1="548.1" y1="139.2" x2="548.1" y2="144.7"/>
<line x1="573.3" y1="139.2" x2="573.3" y2="142.2"/>
<line x1="598.4" y1="139.2" x2="598.4" y2="144.7"/>
<line x1="623.6" y1="139.2" x2="623.6" y2="142.2"/>
<line x1="648.7" y1="139.2" x2="648.7" y2="144.7"/>
</g>
<g stroke="#333" stroke-width="1" fill="none">
<polyline points="458.5,7 458.5,114.5 591.4,114.5"/>
<line x1="455.9" y1="16.1" x2="458.5" y2="16.1"/>
<line x1="456.9" y1="25.9" x2="458.5" y2="25.9"/>
<line x1="455.9" y1="35.8" x2="458.5" y2="35.8"/>
<line x1="456.9" y1="45.6" x2="458.5" y2="45.6"/>
<line x1="455.9" y1="55.5" x2="458.5" y2="55.5"/>
<line x1="456.9" y1="65.3" x2="458.5" y2="65.3"/>
<line x1="455.9" y1="75.1" x2="458.5" y2="75.1"/>
<line x1="456.9" y1="85.0" x2="458.5" y2="85.0"/>
<line x1="455.9" y1="94.8" x2="458.5" y2="94.8"/>
<line x1="456.9" y1="104.7" x2="458.5" y2="104.7"/>
<line x1="455.9" y1="114.5" x2="458.5" y2="114.5"/>
<line x1="472.7" y1="114.5" x2="472.7" y2="116.1"/>
<line x1="489.8" y1="114.5" x2="489.8" y2="116.9"/>
<line x1="506.9" y1="114.5" x2="506.9" y2="116.1"/>
<line x1="524.0" y1="114.5" x2="524.0" y2="116.9"/>
<line x1="541.1" y1="114.5" x2="541.1" y2="116.1"/>
<line x1="558.2" y1="114.5" x2="558.2" y2="116.9"/>
<line x1="575.3" y1="114.5" x2="575.3" y2="116.1"/>
</g>
<path d="M215.50,132.90 C217.62,132.72 223.07,132.65 228.20,131.80 C233.33,130.95 240.25,129.38 246.30,127.80 C252.35,126.22 260.38,123.43 264.50,122.30 C268.62,121.17 268.83,121.33 271.00,121.00 C273.17,120.67 275.00,120.33 277.50,120.30 C280.00,120.27 283.08,120.70 286.00,120.80 C288.92,120.90 292.00,121.08 295.00,120.90 C298.00,120.72 301.17,120.25 304.00,119.70 C306.83,119.15 309.67,118.45 312.00,117.60 C314.33,116.75 316.33,115.65 318.00,114.60 C319.67,113.55 320.75,112.57 322.00,111.30 C323.25,110.03 324.17,108.85 325.50,107.00 C326.83,105.15 328.45,103.08 330.00,100.20 C331.55,97.32 333.18,94.33 334.80,89.70 C336.42,85.07 338.33,77.68 339.70,72.40 C341.07,67.12 341.95,63.75 343.00,58.00 C344.05,52.25 345.07,43.90 346.00,37.90 C346.93,31.90 347.90,25.35 348.60,22.00 C349.30,18.65 349.50,18.50 350.20,17.80 C350.90,17.10 352.08,17.10 352.80,17.80 C353.52,18.50 353.93,18.65 354.50,22.00 C355.07,25.35 355.72,31.57 356.20,37.90 C356.68,44.23 356.80,52.43 357.40,60.00 C358.00,67.57 359.02,76.72 359.80,83.30 C360.58,89.88 361.13,94.85 362.10,99.50 C363.07,104.15 364.25,107.70 365.60,111.20 C366.95,114.70 368.27,117.98 370.20,120.50 C372.13,123.02 374.48,124.75 377.20,126.30 C379.92,127.85 382.70,128.75 386.50,129.80 C390.30,130.85 396.25,132.03 400.00,132.60 C403.75,133.17 404.00,132.97 409.00,133.20 C414.00,133.43 421.50,133.80 430.00,134.00 C438.50,134.20 448.33,134.35 460.00,134.40 C471.67,134.45 488.33,134.40 500.00,134.30 C511.67,134.20 521.67,134.02 530.00,133.80 C538.33,133.58 544.00,133.20 550.00,133.00 C556.00,132.80 561.00,132.52 566.00,132.60 C571.00,132.68 574.33,133.17 580.00,133.50 C585.67,133.83 588.50,134.23 600.00,134.60 C611.50,134.97 640.83,135.52 649.00,135.70" fill="none" stroke="#1c1f7c" stroke-width="1.6" stroke-linejoin="round"/>
<path d="M459.20,113.70 C459.49,113.61 462.23,112.60 462.70,112.60 C463.17,112.60 464.34,113.67 464.80,113.70 C465.26,113.73 467.62,113.28 468.20,112.90 C468.77,112.52 471.23,109.38 471.70,109.10 C472.17,108.82 473.22,109.94 473.80,109.60 C474.38,109.26 478.00,105.91 478.70,105.00 C479.40,104.09 481.68,99.69 482.20,98.70 C482.72,97.71 484.62,93.39 485.00,93.10 C485.38,92.81 486.49,95.26 486.80,95.20 C487.11,95.14 488.27,92.05 488.70,92.40 C489.12,92.75 491.40,98.35 491.90,99.40 C492.40,100.45 494.35,104.59 494.70,105.00 C495.05,105.41 495.72,103.96 496.10,104.30 C496.48,104.64 498.78,108.98 499.30,109.10 C499.82,109.22 501.97,105.89 502.40,105.70 C502.83,105.51 504.15,106.80 504.50,106.80 C504.85,106.80 506.31,105.70 506.60,105.70 C506.89,105.70 507.54,106.92 508.00,106.80 C508.46,106.68 511.41,104.92 512.10,104.30 C512.79,103.68 515.61,100.46 516.30,99.40 C516.99,98.34 519.65,93.59 520.40,91.60 C521.15,89.61 524.64,78.13 525.30,75.50 C525.96,72.87 527.92,62.35 528.30,60.00 C528.67,57.65 529.42,50.05 529.80,47.30 C530.17,44.55 532.33,29.48 532.80,27.00 C533.27,24.52 535.03,18.40 535.40,17.50 C535.77,16.60 536.90,16.20 537.20,16.20 C537.50,16.20 538.62,16.47 539.00,17.50 C539.38,18.53 541.26,26.12 541.80,28.60 C542.34,31.08 545.07,44.42 545.50,47.20 C545.93,49.98 546.68,59.59 547.00,62.00 C547.32,64.41 548.85,73.52 549.30,76.10 C549.75,78.68 551.88,90.47 552.40,93.00 C552.92,95.53 555.08,104.78 555.60,106.50 C556.12,108.22 557.40,113.01 558.60,113.60 C559.80,114.19 568.38,113.59 570.00,113.60 C571.62,113.61 577.23,113.79 578.00,113.70 C578.77,113.61 579.09,112.50 579.30,112.50 C579.51,112.50 579.49,113.60 580.50,113.70 C581.51,113.80 590.49,113.70 591.40,113.70" fill="none" stroke="#27338e" stroke-width="1.45" stroke-linejoin="round"/>
</g>
<g id="pc">
<text transform="translate(4.24,182.90) scale(0.8646,1)" style="font-size:13.75px;font-weight:bold;" fill="#141414" stroke="#141414" >c</text>
<text transform="translate(13.18,171.60) scale(1.0405,1)" style="font-size:10.45px;" fill="#141414" stroke="#141414" >0</text>
<text transform="translate(14.13,203.90) scale(0.9389,1)" style="font-size:9.88px;" fill="#141414" stroke="#141414" >5</text>
<text transform="translate(7.60,235.00) scale(1.0657,1)" style="font-size:9.88px;" fill="#141414" stroke="#141414" >10</text>
<text transform="translate(7.89,267.40) scale(1.1462,1)" style="font-size:9.30px;" fill="#141414" stroke="#141414" >15</text>
<text transform="translate(7.78,299.40) scale(1.1305,1)" style="font-size:9.17px;" fill="#141414" stroke="#141414" >20</text>
<text transform="translate(6.80,246.85) rotate(-90) scale(1.1792,1)" style="font-size:8.14px;" fill="#141414" stroke="#141414" >time (h)</text>
<text transform="translate(28.61,215.30) scale(0.8817,1)" style="font-size:11.04px;" fill="#141414" stroke="#141414" >Charge</text>
<text transform="translate(20.79,265.80) scale(1.0890,1)" style="font-size:9.11px;" fill="#141414" stroke="#141414" >Discharge</text>
<text transform="translate(24.88,305.40) scale(1.3603,1)" style="font-size:8.87px;" fill="#141414" stroke="#141414" >1</text>
<text transform="translate(40.33,305.40) scale(1.3066,1)" style="font-size:8.74px;" fill="#141414" stroke="#141414" >2</text>
<text transform="translate(55.68,305.40) scale(1.2554,1)" style="font-size:8.74px;" fill="#141414" stroke="#141414" >3</text>
<text transform="translate(71.36,305.40) scale(1.1639,1)" style="font-size:8.87px;" fill="#141414" stroke="#141414" >4</text>
<text transform="translate(86.26,305.40) scale(1.2370,1)" style="font-size:8.87px;" fill="#141414" stroke="#141414" >5</text>
<text transform="translate(26.06,320.80) scale(0.9898,1)" style="font-size:9.80px;" fill="#141414" stroke="#141414" >Volts vs Li</text>
<text transform="translate(70.64,316.50) scale(0.9652,1)" style="font-size:5.54px;" fill="#141414" stroke="#141414" >+</text>
<text transform="translate(74.00,320.80) scale(1.0425,1)" style="font-size:9.80px;" fill="#141414" stroke="#141414" >/Li</text>
<text transform="translate(639.88,170.10) scale(0.9436,1)" style="font-size:11.52px;" fill="#141414" stroke="#141414" >max</text>
<text transform="translate(640.02,303.70) scale(1.1359,1)" style="font-size:10.35px;" fill="#141414" stroke="#141414" >min</text>
<text transform="translate(103.21,305.70) scale(1.0110,1)" style="font-size:9.60px;" fill="#141414" stroke="#141414" >6472</text>
<text transform="translate(130.71,305.70) scale(1.0011,1)" style="font-size:9.60px;" fill="#141414" stroke="#141414" >6474</text>
<text transform="translate(157.91,305.70) scale(1.0080,1)" style="font-size:9.60px;" fill="#141414" stroke="#141414" >6476</text>
<text transform="translate(185.61,305.70) scale(1.0077,1)" style="font-size:9.60px;" fill="#141414" stroke="#141414" >6478</text>
<text transform="translate(227.21,305.70) scale(1.0096,1)" style="font-size:9.60px;" fill="#141414" stroke="#141414" >6489</text>
<text transform="translate(262.51,305.70) scale(1.0057,1)" style="font-size:9.60px;" fill="#141414" stroke="#141414" >6490</text>
<text transform="translate(297.71,305.70) scale(1.0103,1)" style="font-size:9.60px;" fill="#141414" stroke="#141414" >6491</text>
<text transform="translate(333.11,305.70) scale(1.0110,1)" style="font-size:9.60px;" fill="#141414" stroke="#141414" >6492</text>
<text transform="translate(380.91,305.70) scale(1.0070,1)" style="font-size:9.60px;" fill="#141414" stroke="#141414" >6515</text>
<text transform="translate(422.21,305.70) scale(1.0057,1)" style="font-size:9.60px;" fill="#141414" stroke="#141414" >6520</text>
<text transform="translate(463.11,305.70) scale(1.0070,1)" style="font-size:9.60px;" fill="#141414" stroke="#141414" >6525</text>
<text transform="translate(521.41,305.70) scale(1.0057,1)" style="font-size:9.60px;" fill="#141414" stroke="#141414" >6530</text>
<text transform="translate(586.51,305.70) scale(1.0070,1)" style="font-size:9.60px;" fill="#141414" stroke="#141414" >6535</text>
<text transform="translate(352.81,320.30) scale(1.0479,1)" style="font-size:9.25px;" fill="#141414" stroke="#141414" >Energy (eV)</text>
<text transform="translate(194.47,195.10) scale(1.1264,1)" style="font-size:9.66px;stroke-width:0.45px;" fill="#fff" stroke="#fff" >kβ′</text>
<text transform="translate(319.36,194.70) scale(1.1497,1)" style="font-size:9.52px;stroke-width:0.45px;" fill="#fff" stroke="#fff" >kβ</text>
<text transform="translate(330.42,197.50) scale(1.1474,1)" style="font-size:6.59px;stroke-width:0.30px;" fill="#fff" stroke="#fff" >1,3</text>
<text transform="translate(469.11,194.30) scale(1.1639,1)" style="font-size:10.07px;stroke-width:0.45px;" fill="#fff" stroke="#fff" >kβ’’</text>
<text transform="translate(602.47,194.30) scale(1.1388,1)" style="font-size:9.52px;stroke-width:0.45px;" fill="#fff" stroke="#fff" >kβ</text>
<text transform="translate(613.73,196.90) scale(1.0874,1)" style="font-size:6.73px;stroke-width:0.30px;" fill="#fff" stroke="#fff" >2,5</text>
</g>
</svg></body></html>
